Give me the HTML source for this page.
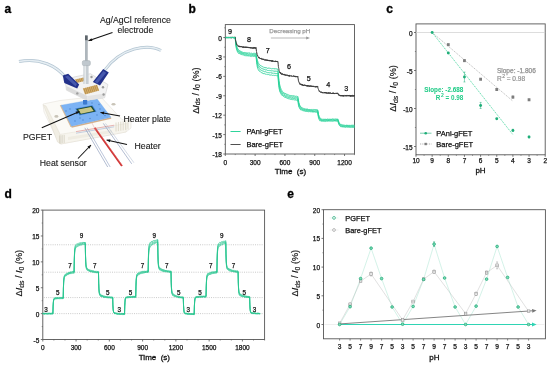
<!DOCTYPE html>
<html><head><meta charset="utf-8"><style>
html,body{margin:0;padding:0;background:#fff;}
svg{display:block;font-family:"Liberation Sans", sans-serif;will-change:transform;filter:blur(0.3px);}
</style></head><body>
<svg width="550" height="366" viewBox="0 0 550 366">
<rect width="550" height="366" fill="#fff"/>
<polygon points="43,104 60,100.5 100,96 122,119.6 131,121 131,128 126,132 61,144 58,141 44,112" fill="#fbfaf6" stroke="#dedad0" stroke-width="0.45"/>
<polygon points="43.5,105 46,106 60,134 60.7,144 57.5,142" fill="#f1eee4" stroke="#d6d1c3" stroke-width="0.35"/>
<polygon points="60.7,134.3 127.3,123.4 126,132 60.7,144" fill="#f7f5ee" stroke="#dcd6c8" stroke-width="0.35"/>
<line x1="59.5" y1="135.5" x2="59.5" y2="143.5" stroke="#cfc9b9" stroke-width="0.6"/>
<line x1="61.1" y1="135.3" x2="61.1" y2="143.3" stroke="#cfc9b9" stroke-width="0.6"/>
<line x1="62.7" y1="135.1" x2="62.7" y2="143.1" stroke="#cfc9b9" stroke-width="0.6"/>
<line x1="64.3" y1="134.9" x2="64.3" y2="142.9" stroke="#cfc9b9" stroke-width="0.6"/>
<line x1="116.0" y1="122.5" x2="116.0" y2="131.5" stroke="#d9d3c3" stroke-width="0.8"/>
<line x1="118.4" y1="122.1" x2="118.4" y2="131.1" stroke="#d9d3c3" stroke-width="0.8"/>
<line x1="120.8" y1="121.7" x2="120.8" y2="130.7" stroke="#d9d3c3" stroke-width="0.8"/>
<line x1="123.2" y1="121.3" x2="123.2" y2="130.3" stroke="#d9d3c3" stroke-width="0.8"/>
<line x1="125.6" y1="120.9" x2="125.6" y2="129.9" stroke="#d9d3c3" stroke-width="0.8"/>
<line x1="128.0" y1="120.5" x2="128.0" y2="129.5" stroke="#d9d3c3" stroke-width="0.8"/>
<polygon points="68,137 112,130 112,133 68,140" fill="#efece2"/>
<ellipse cx="56.4" cy="116.4" rx="2.0" ry="1.4" fill="#c9c4b8"/>
<ellipse cx="113.5" cy="104.2" rx="2.0" ry="1.3" fill="#c9c4b8"/>
<line x1="76" y1="131.6" x2="114.2" y2="125.2" stroke="#e39a9a" stroke-width="0.7"/>
<line x1="76" y1="133.2" x2="114.2" y2="126.8" stroke="#9fb3d6" stroke-width="0.6"/>
<line x1="84.8" y1="127.8" x2="107.7" y2="167" stroke="#7f90b4" stroke-width="0.6"/>
<line x1="87.2" y1="127.8" x2="110.2" y2="167" stroke="#8fa0c2" stroke-width="0.6"/>
<line x1="94.6" y1="127.8" x2="121.9" y2="166" stroke="#d03434" stroke-width="1.8"/>
<line x1="95.4" y1="127.8" x2="122.7" y2="166" stroke="#e77070" stroke-width="0.5"/>
<line x1="103.3" y1="123.4" x2="131.7" y2="163.8" stroke="#7f90b4" stroke-width="0.6"/>
<line x1="105.5" y1="123.4" x2="133.9" y2="162.7" stroke="#a9b6cc" stroke-width="0.5"/>
<line x1="91" y1="121" x2="96" y2="131" stroke="#e5a0a0" stroke-width="0.5"/>
<polygon points="71.5,126.2 111,117.3 111.3,118.8 71.7,127.7" fill="#d6b08a"/>
<polygon points="60.4,105.6 71,127 71.5,126.2 61.1,105.2" fill="#d8b890" stroke="#d8b890" stroke-width="0.8"/>
<polygon points="61.1,105.2 97,98.8 111,117.3 71.5,126.2" fill="#7cb3f4" stroke="#6aa2e6" stroke-width="0.3"/>
<circle cx="70" cy="109" r="0.65" fill="#4d84c8"/>
<circle cx="66" cy="111" r="0.65" fill="#4d84c8"/>
<circle cx="75" cy="121" r="0.65" fill="#4d84c8"/>
<circle cx="83" cy="120" r="0.65" fill="#4d84c8"/>
<circle cx="90" cy="118.5" r="0.65" fill="#4d84c8"/>
<circle cx="97" cy="115" r="0.65" fill="#4d84c8"/>
<circle cx="103" cy="113" r="0.65" fill="#4d84c8"/>
<circle cx="99" cy="104.5" r="0.65" fill="#4d84c8"/>
<circle cx="92" cy="103" r="0.65" fill="#4d84c8"/>
<circle cx="85" cy="104" r="0.65" fill="#4d84c8"/>
<circle cx="105" cy="115.5" r="0.65" fill="#4d84c8"/>
<circle cx="80" cy="118" r="0.65" fill="#4d84c8"/>
<circle cx="71" cy="115" r="0.65" fill="#4d84c8"/>
<circle cx="100" cy="109" r="0.65" fill="#4d84c8"/>
<polygon points="75.2,108.6 92.4,105.2 96.5,111.6 79.5,115.4" fill="#3f7fd8"/>
<polygon points="76.3,109.1 91.9,105.9 95.5,111.4 79.9,114.6" fill="#1d4a2a"/>
<polygon points="78.2,109.5 90.9,107 93.7,111.1 80.9,113.7" fill="#c9c787"/>
<path d="M19,61.5 C40,57.5 57,66 66,78" fill="none" stroke="#b3c5d2" stroke-width="3.0"/>
<path d="M19,61.5 C40,57.5 57,66 66,78" fill="none" stroke="#e6eef3" stroke-width="1.5"/>
<path d="M161,50.5 C148,43.5 121,47 104,71" fill="none" stroke="#b3c5d2" stroke-width="3.0"/>
<path d="M161,50.5 C148,43.5 121,47 104,71" fill="none" stroke="#e6eef3" stroke-width="1.5"/>
<polygon points="65.3,80.3 74,77 90.4,73.7 108,84.6 104.6,97.8 87.2,100.5 66.4,90.1" fill="#f3f3f3" stroke="#c6c6c6" stroke-width="0.5"/>
<polygon points="66.4,90.1 87.2,100.5 87.5,96 66.4,86" fill="#dcdcdc"/>
<polygon points="87.2,100.5 104.6,97.8 105,93.5 87.5,96" fill="#e4e4e4"/>
<polygon points="75,79.5 85,77.2 86.5,80.6 76.5,83" fill="#d9b06a"/>
<polygon points="82.8,88.5 97,84.8 99.2,90.5 85,94.5" fill="#d9b06a"/>
<line x1="76.0" y1="79.3" x2="77.3" y2="82.7" stroke="#8a6a30" stroke-width="0.45"/>
<line x1="77.7" y1="78.9" x2="79.0" y2="82.3" stroke="#8a6a30" stroke-width="0.45"/>
<line x1="79.4" y1="78.5" x2="80.7" y2="81.9" stroke="#8a6a30" stroke-width="0.45"/>
<line x1="81.1" y1="78.1" x2="82.4" y2="81.5" stroke="#8a6a30" stroke-width="0.45"/>
<line x1="82.8" y1="77.7" x2="84.1" y2="81.1" stroke="#8a6a30" stroke-width="0.45"/>
<line x1="84.5" y1="77.3" x2="85.8" y2="80.7" stroke="#8a6a30" stroke-width="0.45"/>
<line x1="83.8" y1="88.3" x2="85.9" y2="94.2" stroke="#8a6a30" stroke-width="0.45"/>
<line x1="85.6" y1="87.8" x2="87.7" y2="93.7" stroke="#8a6a30" stroke-width="0.45"/>
<line x1="87.4" y1="87.3" x2="89.5" y2="93.2" stroke="#8a6a30" stroke-width="0.45"/>
<line x1="89.2" y1="86.9" x2="91.3" y2="92.8" stroke="#8a6a30" stroke-width="0.45"/>
<line x1="91.0" y1="86.4" x2="93.1" y2="92.3" stroke="#8a6a30" stroke-width="0.45"/>
<line x1="92.8" y1="85.9" x2="94.9" y2="91.8" stroke="#8a6a30" stroke-width="0.45"/>
<line x1="94.6" y1="85.4" x2="96.7" y2="91.3" stroke="#8a6a30" stroke-width="0.45"/>
<line x1="96.4" y1="84.9" x2="98.5" y2="90.8" stroke="#8a6a30" stroke-width="0.45"/>
<circle cx="91.5" cy="77" r="1.2" fill="#9c9c9c"/>
<circle cx="103" cy="87.3" r="1.2" fill="#9c9c9c"/>
<circle cx="77.3" cy="93.4" r="1.2" fill="#9c9c9c"/>
<circle cx="103.6" cy="94.5" r="1.2" fill="#9c9c9c"/>
<polygon points="62.8,75.6 68.2,73.8 79.2,84.4 77.2,88.6 64.3,83" fill="#23318a"/>
<polygon points="65,76.8 68,75.6 77,84 75.6,86.4" fill="#4658ad"/>
<polygon points="92.8,82 103.2,69 108.8,72.6 100,85.4" fill="#23318a"/>
<polygon points="94.8,81.8 103.4,71 106.2,72.8 97.4,83.4" fill="#4658ad"/>
<rect x="83.4" y="64" width="5.2" height="20" fill="#c7ced3"/>
<rect x="84.4" y="64" width="1.6" height="20" fill="#e6eaec"/>
<rect x="85" y="35.5" width="2.6" height="27" fill="#9aa3aa"/>
<rect x="85" y="35.5" width="2.6" height="5" fill="#5f666c"/>
<rect x="85.6" y="40" width="0.8" height="22" fill="#ccd3d8"/>
<rect x="82.3" y="60.6" width="8.1" height="5" rx="1.5" fill="#c0c8ce" stroke="#9aa3aa" stroke-width="0.4"/>
<rect x="83" y="100" width="4.2" height="4.5" fill="#3c7ad0"/>
<line x1="112.5" y1="32.5" x2="88.5" y2="40.8" stroke="#111" stroke-width="1.05"/>
<polygon points="88.50,40.80 91.41,38.21 92.39,41.04" fill="#111"/>
<line x1="120" y1="116" x2="100.5" y2="112.4" stroke="#111" stroke-width="1.05"/>
<polygon points="100.50,112.40 104.31,111.58 103.77,114.53" fill="#111"/>
<line x1="127" y1="144.5" x2="106.6" y2="140" stroke="#111" stroke-width="1.05"/>
<polygon points="106.60,140.00 110.44,139.31 109.79,142.24" fill="#111"/>
<line x1="41.8" y1="127.7" x2="79.5" y2="111.5" stroke="#111" stroke-width="1.05"/>
<polygon points="79.50,111.50 76.78,114.30 75.60,111.54" fill="#111"/>
<line x1="78" y1="158.5" x2="91" y2="145" stroke="#111" stroke-width="1.05"/>
<polygon points="91.00,145.00 89.58,148.63 87.42,146.55" fill="#111"/>
<text x="135.4" y="22.6" font-size="8.7" fill="#1a1a1a" stroke="#1a1a1a" stroke-width="0.12" text-anchor="middle">Ag/AgCl reference</text>
<text x="135.4" y="32.8" font-size="8.7" fill="#1a1a1a" stroke="#1a1a1a" stroke-width="0.12" text-anchor="middle">electrode</text>
<text x="123.6" y="121.6" font-size="8.7" fill="#1a1a1a" stroke="#1a1a1a" stroke-width="0.12" text-anchor="start">Heater plate</text>
<text x="134.6" y="148.9" font-size="8.7" fill="#1a1a1a" stroke="#1a1a1a" stroke-width="0.12" text-anchor="start">Heater</text>
<text x="23.0" y="140.4" font-size="8.7" fill="#1a1a1a" stroke="#1a1a1a" stroke-width="0.12" text-anchor="start">PGFET</text>
<text x="39.8" y="165.6" font-size="8.7" fill="#1a1a1a" stroke="#1a1a1a" stroke-width="0.12" text-anchor="start">Heat sensor</text>
<text x="4.60" y="13.00" font-size="12" text-anchor="start" fill="#000" stroke="#000" stroke-width="0.3" font-weight="bold" >a</text>
<text x="188.60" y="13.00" font-size="12" text-anchor="start" fill="#000" stroke="#000" stroke-width="0.3" font-weight="bold" >b</text>
<text x="386.20" y="13.20" font-size="12" text-anchor="start" fill="#000" stroke="#000" stroke-width="0.3" font-weight="bold" >c</text>
<text x="4.60" y="197.80" font-size="12" text-anchor="start" fill="#000" stroke="#000" stroke-width="0.3" font-weight="bold" >d</text>
<text x="287.30" y="197.80" font-size="12" text-anchor="start" fill="#000" stroke="#000" stroke-width="0.3" font-weight="bold" >e</text>
<rect x="225.30" y="24.60" width="129.20" height="129.40" fill="none" stroke="#555" stroke-width="0.9"/>
<line x1="223.30" y1="37.54" x2="225.30" y2="37.54" stroke="#555" stroke-width="0.8" />
<text x="221.90" y="40.54" font-size="6.5" text-anchor="end" fill="#111" stroke="#111" stroke-width="0.25" font-weight="normal" >0</text>
<line x1="223.30" y1="56.95" x2="225.30" y2="56.95" stroke="#555" stroke-width="0.8" />
<text x="221.90" y="59.95" font-size="6.5" text-anchor="end" fill="#111" stroke="#111" stroke-width="0.25" font-weight="normal" >-3</text>
<line x1="223.30" y1="76.36" x2="225.30" y2="76.36" stroke="#555" stroke-width="0.8" />
<text x="221.90" y="79.36" font-size="6.5" text-anchor="end" fill="#111" stroke="#111" stroke-width="0.25" font-weight="normal" >-6</text>
<line x1="223.30" y1="95.77" x2="225.30" y2="95.77" stroke="#555" stroke-width="0.8" />
<text x="221.90" y="98.77" font-size="6.5" text-anchor="end" fill="#111" stroke="#111" stroke-width="0.25" font-weight="normal" >-9</text>
<line x1="223.30" y1="115.18" x2="225.30" y2="115.18" stroke="#555" stroke-width="0.8" />
<text x="221.90" y="118.18" font-size="6.5" text-anchor="end" fill="#111" stroke="#111" stroke-width="0.25" font-weight="normal" >-12</text>
<line x1="223.30" y1="134.59" x2="225.30" y2="134.59" stroke="#555" stroke-width="0.8" />
<text x="221.90" y="137.59" font-size="6.5" text-anchor="end" fill="#111" stroke="#111" stroke-width="0.25" font-weight="normal" >-15</text>
<line x1="223.30" y1="154.00" x2="225.30" y2="154.00" stroke="#555" stroke-width="0.8" />
<text x="221.90" y="157.00" font-size="6.5" text-anchor="end" fill="#111" stroke="#111" stroke-width="0.25" font-weight="normal" >-18</text>
<line x1="224.20" y1="27.84" x2="225.30" y2="27.84" stroke="#555" stroke-width="0.6" />
<line x1="224.20" y1="47.25" x2="225.30" y2="47.25" stroke="#555" stroke-width="0.6" />
<line x1="224.20" y1="66.66" x2="225.30" y2="66.66" stroke="#555" stroke-width="0.6" />
<line x1="224.20" y1="86.06" x2="225.30" y2="86.06" stroke="#555" stroke-width="0.6" />
<line x1="224.20" y1="105.47" x2="225.30" y2="105.47" stroke="#555" stroke-width="0.6" />
<line x1="224.20" y1="124.88" x2="225.30" y2="124.88" stroke="#555" stroke-width="0.6" />
<line x1="224.20" y1="144.30" x2="225.30" y2="144.30" stroke="#555" stroke-width="0.6" />
<line x1="225.30" y1="154.00" x2="225.30" y2="156.00" stroke="#555" stroke-width="0.8" />
<text x="225.30" y="164.60" font-size="6.5" text-anchor="middle" fill="#111" stroke="#111" stroke-width="0.25" font-weight="normal" >0</text>
<line x1="235.24" y1="154.00" x2="235.24" y2="155.10" stroke="#555" stroke-width="0.6" />
<line x1="245.18" y1="154.00" x2="245.18" y2="155.10" stroke="#555" stroke-width="0.6" />
<line x1="255.12" y1="154.00" x2="255.12" y2="156.00" stroke="#555" stroke-width="0.8" />
<text x="255.12" y="164.60" font-size="6.5" text-anchor="middle" fill="#111" stroke="#111" stroke-width="0.25" font-weight="normal" >300</text>
<line x1="265.05" y1="154.00" x2="265.05" y2="155.10" stroke="#555" stroke-width="0.6" />
<line x1="274.99" y1="154.00" x2="274.99" y2="155.10" stroke="#555" stroke-width="0.6" />
<line x1="284.93" y1="154.00" x2="284.93" y2="156.00" stroke="#555" stroke-width="0.8" />
<text x="284.93" y="164.60" font-size="6.5" text-anchor="middle" fill="#111" stroke="#111" stroke-width="0.25" font-weight="normal" >600</text>
<line x1="294.87" y1="154.00" x2="294.87" y2="155.10" stroke="#555" stroke-width="0.6" />
<line x1="304.81" y1="154.00" x2="304.81" y2="155.10" stroke="#555" stroke-width="0.6" />
<line x1="314.75" y1="154.00" x2="314.75" y2="156.00" stroke="#555" stroke-width="0.8" />
<text x="314.75" y="164.60" font-size="6.5" text-anchor="middle" fill="#111" stroke="#111" stroke-width="0.25" font-weight="normal" >900</text>
<line x1="324.68" y1="154.00" x2="324.68" y2="155.10" stroke="#555" stroke-width="0.6" />
<line x1="334.62" y1="154.00" x2="334.62" y2="155.10" stroke="#555" stroke-width="0.6" />
<line x1="344.56" y1="154.00" x2="344.56" y2="156.00" stroke="#555" stroke-width="0.8" />
<text x="344.56" y="164.60" font-size="6.5" text-anchor="middle" fill="#111" stroke="#111" stroke-width="0.25" font-weight="normal" >1200</text>
<line x1="354.50" y1="154.00" x2="354.50" y2="155.10" stroke="#555" stroke-width="0.6" />
<text x="290.50" y="174.20" font-size="8" text-anchor="middle" fill="#111" stroke="#111" stroke-width="0.3" font-weight="normal" >Time&#160;&#160;(s)</text>
<text transform="translate(198.80,90.60) rotate(-90)" font-size="8.4" text-anchor="middle" fill="#111" stroke="#111" stroke-width="0.15" textLength="46.5" lengthAdjust="spacingAndGlyphs"><tspan>&#916;</tspan><tspan font-style="italic">I</tspan><tspan font-size="6.30" dy="1.6">ds</tspan><tspan dy="-1.6"> / </tspan><tspan font-style="italic">I</tspan><tspan font-size="6.30" dy="1.6">0</tspan><tspan dy="-1.6"> (%)</tspan></text>
<path d="M225.30,37.63 L225.55,37.72 L225.80,37.46 L226.05,37.76 L226.29,37.52 L226.54,37.61 L226.79,37.77 L227.04,37.54 L227.29,37.78 L227.54,37.57 L227.78,37.76 L228.03,37.75 L228.28,37.58 L228.53,37.37 L228.78,37.73 L229.03,37.68 L229.28,37.47 L229.52,37.31 L229.77,37.50 L230.02,37.59 L230.27,37.29 L230.52,37.77 L230.77,37.35 L231.01,37.65 L231.26,37.72 L231.51,37.74 L231.76,37.64 L232.01,37.38 L232.26,37.71 L232.51,37.50 L232.75,37.47 L233.00,37.61 L233.25,37.52 L233.50,37.77 L233.75,37.77 L234.00,37.69 L234.24,37.45 L234.49,37.58 L234.74,37.64 L234.99,37.50 L235.24,37.56 L235.49,41.27 L235.74,43.79 L235.98,45.95 L236.23,47.82 L236.48,48.91 L236.73,49.92 L236.98,50.51 L237.23,51.19 L237.47,51.91 L237.72,51.95 L237.97,52.73 L238.22,52.85 L238.47,52.91 L238.72,53.42 L238.97,53.42 L239.21,53.81 L239.46,53.63 L239.71,53.71 L239.96,53.92 L240.21,53.88 L240.46,54.27 L240.70,54.17 L240.95,54.32 L241.20,54.41 L241.45,54.56 L241.70,54.44 L241.95,54.46 L242.20,54.78 L242.44,54.75 L242.69,55.13 L242.94,54.86 L243.19,54.95 L243.44,54.83 L243.69,54.98 L243.93,55.31 L244.18,55.31 L244.43,55.22 L244.68,55.60 L244.93,55.42 L245.18,55.62 L245.43,55.69 L245.67,55.77 L245.92,55.44 L246.17,55.81 L246.42,55.79 L246.67,55.75 L246.92,55.54 L247.16,55.99 L247.41,55.83 L247.66,55.81 L247.91,55.67 L248.16,55.73 L248.41,55.74 L248.66,56.07 L248.90,56.03 L249.15,56.08 L249.40,55.83 L249.65,55.82 L249.90,56.26 L250.15,56.27 L250.39,56.27 L250.64,56.29 L250.89,56.18 L251.14,56.14 L251.39,56.33 L251.64,56.48 L251.89,56.28 L252.13,56.33 L252.38,56.24 L252.63,56.06 L252.88,56.21 L253.13,56.31 L253.38,56.28 L253.62,56.26 L253.87,56.59 L254.12,56.17 L254.37,56.24 L254.62,56.21 L254.87,56.26 L255.12,56.48 L255.36,56.49 L255.61,56.65 L255.86,56.39 L256.11,56.69 L256.36,59.94 L256.61,62.37 L256.85,64.32 L257.10,65.73 L257.35,67.06 L257.60,68.03 L257.85,68.70 L258.10,69.33 L258.35,69.70 L258.59,70.29 L258.84,70.21 L259.09,70.65 L259.34,71.16 L259.59,71.34 L259.84,71.51 L260.08,71.69 L260.33,72.00 L260.58,71.79 L260.83,71.87 L261.08,72.29 L261.33,72.42 L261.58,72.75 L261.82,72.87 L262.07,72.86 L262.32,73.02 L262.57,72.84 L262.82,73.29 L263.07,73.46 L263.31,73.08 L263.56,73.39 L263.81,73.68 L264.06,73.56 L264.31,73.91 L264.56,73.73 L264.81,73.58 L265.05,73.71 L265.30,73.87 L265.55,74.17 L265.80,74.18 L266.05,74.35 L266.30,74.10 L266.54,74.28 L266.79,74.22 L267.04,74.50 L267.29,74.61 L267.54,74.36 L267.79,74.32 L268.04,74.44 L268.28,74.51 L268.53,74.55 L268.78,74.64 L269.03,74.94 L269.28,74.83 L269.53,74.96 L269.77,75.17 L270.02,75.20 L270.27,75.11 L270.52,75.15 L270.77,74.96 L271.02,74.86 L271.27,75.15 L271.51,74.93 L271.76,74.93 L272.01,74.97 L272.26,75.31 L272.51,75.41 L272.76,75.43 L273.00,75.47 L273.25,75.49 L273.50,75.29 L273.75,75.17 L274.00,75.22 L274.25,75.43 L274.50,75.36 L274.74,75.30 L274.99,75.69 L275.24,75.41 L275.49,75.30 L275.74,75.38 L275.99,75.41 L276.23,75.57 L276.48,75.74 L276.73,75.44 L276.98,75.69 L277.23,75.46 L277.48,75.38 L277.73,75.69 L277.97,75.70 L278.22,79.57 L278.47,82.88 L278.72,85.63 L278.97,87.58 L279.22,89.09 L279.46,89.90 L279.71,90.91 L279.96,92.04 L280.21,92.34 L280.46,92.80 L280.71,93.43 L280.96,93.99 L281.20,94.24 L281.45,94.76 L281.70,95.10 L281.95,94.87 L282.20,95.27 L282.45,95.55 L282.69,95.54 L282.94,96.00 L283.19,95.95 L283.44,96.15 L283.69,96.63 L283.94,96.77 L284.19,96.90 L284.43,97.07 L284.68,97.04 L284.93,97.34 L285.18,97.39 L285.43,97.66 L285.68,97.38 L285.92,97.78 L286.17,97.84 L286.42,97.88 L286.67,97.82 L286.92,98.17 L287.17,98.01 L287.42,98.31 L287.66,98.39 L287.91,98.48 L288.16,98.82 L288.41,98.69 L288.66,98.90 L288.91,99.06 L289.15,98.73 L289.40,99.12 L289.65,99.03 L289.90,98.97 L290.15,99.12 L290.40,99.30 L290.65,99.25 L290.89,99.29 L291.14,99.23 L291.39,99.63 L291.64,99.45 L291.89,99.66 L292.14,99.69 L292.38,99.48 L292.63,99.66 L292.88,99.67 L293.13,99.61 L293.38,99.57 L293.63,99.85 L293.88,99.80 L294.12,99.89 L294.37,99.92 L294.62,99.86 L294.87,100.02 L295.12,100.01 L295.37,100.07 L295.61,99.85 L295.86,100.01 L296.11,99.94 L296.36,99.93 L296.61,100.31 L296.86,100.18 L297.11,100.01 L297.35,100.08 L297.60,100.47 L297.85,100.49 L298.10,102.55 L298.35,104.44 L298.60,105.65 L298.84,106.74 L299.09,107.21 L299.34,107.76 L299.59,108.18 L299.84,108.95 L300.09,108.97 L300.34,109.25 L300.58,109.73 L300.83,109.52 L301.08,109.63 L301.33,110.14 L301.58,109.88 L301.83,110.27 L302.07,110.32 L302.32,110.14 L302.57,110.30 L302.82,110.72 L303.07,110.65 L303.32,110.67 L303.57,110.83 L303.81,110.96 L304.06,110.95 L304.31,110.80 L304.56,111.21 L304.81,110.99 L305.06,111.09 L305.30,111.36 L305.55,111.24 L305.80,111.13 L306.05,111.23 L306.30,111.50 L306.55,111.06 L306.80,111.20 L307.04,111.14 L307.29,111.62 L307.54,111.57 L307.79,111.72 L308.04,111.37 L308.29,111.66 L308.53,111.76 L308.78,111.64 L309.03,111.41 L309.28,111.48 L309.53,111.80 L309.78,111.88 L310.03,111.50 L310.27,111.70 L310.52,111.66 L310.77,111.99 L311.02,112.03 L311.27,111.72 L311.52,111.88 L311.76,112.08 L312.01,111.65 L312.26,111.82 L312.51,111.75 L312.76,112.14 L313.01,111.75 L313.26,112.18 L313.50,111.78 L313.75,112.00 L314.00,112.08 L314.25,111.98 L314.50,111.80 L314.75,112.15 L314.99,112.23 L315.24,112.04 L315.49,112.20 L315.74,112.27 L315.99,112.26 L316.24,112.32 L316.49,112.25 L316.73,112.20 L316.98,112.22 L317.23,111.99 L317.48,112.24 L317.73,112.14 L317.98,114.61 L318.22,116.26 L318.47,117.73 L318.72,118.58 L318.97,119.42 L319.22,119.59 L319.47,120.09 L319.72,120.58 L319.96,120.66 L320.21,120.58 L320.46,121.13 L320.71,120.85 L320.96,121.11 L321.21,121.13 L321.45,120.98 L321.70,121.23 L321.95,121.19 L322.20,121.10 L322.45,120.95 L322.70,121.28 L322.95,121.03 L323.19,121.09 L323.44,121.12 L323.69,121.24 L323.94,121.26 L324.19,121.41 L324.44,121.36 L324.68,121.39 L324.93,121.04 L325.18,121.28 L325.43,121.32 L325.68,121.36 L325.93,120.96 L326.18,120.94 L326.42,121.04 L326.67,121.23 L326.92,121.25 L327.17,121.22 L327.42,121.13 L327.67,121.28 L327.91,121.12 L328.16,121.22 L328.41,120.85 L328.66,120.84 L328.91,121.06 L329.16,121.21 L329.41,120.83 L329.65,121.17 L329.90,121.14 L330.15,121.32 L330.40,121.12 L330.65,121.07 L330.90,121.05 L331.14,121.21 L331.39,121.05 L331.64,121.30 L331.89,121.17 L332.14,121.25 L332.39,121.09 L332.64,121.27 L332.88,121.28 L333.13,121.13 L333.38,121.17 L333.63,120.98 L333.88,121.01 L334.13,120.89 L334.37,120.94 L334.62,120.91 L334.87,120.82 L335.12,121.07 L335.37,121.11 L335.62,120.76 L335.87,121.19 L336.11,120.90 L336.36,120.94 L336.61,121.25 L336.86,120.83 L337.11,120.80 L337.36,120.94 L337.60,120.88 L337.85,120.84 L338.10,121.79 L338.35,122.84 L338.60,123.79 L338.85,124.34 L339.10,124.90 L339.34,125.30 L339.59,125.74 L339.84,125.82 L340.09,126.12 L340.34,126.26 L340.59,126.62 L340.83,126.81 L341.08,126.83 L341.33,126.77 L341.58,126.95 L341.83,126.62 L342.08,126.79 L342.33,126.79 L342.57,126.81 L342.82,126.81 L343.07,126.93 L343.32,127.20 L343.57,126.80 L343.82,126.85 L344.06,126.99 L344.31,126.99 L344.56,126.93 L344.81,127.25 L345.06,126.92 L345.31,127.18 L345.56,127.28 L345.80,127.20 L346.05,126.97 L346.30,127.25 L346.55,126.98 L346.80,126.87 L347.05,127.13 L347.29,127.19 L347.54,127.15 L347.79,127.05 L348.04,127.02 L348.29,127.10 L348.54,127.09 L348.79,127.39 L349.03,127.36 L349.28,127.32 L349.53,127.07 L349.78,127.30 L350.03,127.17 L350.28,127.46 L350.52,127.44 L350.77,127.34 L351.02,127.14 L351.27,127.13 L351.52,127.14 L351.77,127.35 L352.02,127.24 L352.26,127.27 L352.51,127.27 L352.76,127.45 L353.01,127.06 L353.26,127.42 L353.51,127.02 L353.75,127.04 L354.00,127.52 L354.25,127.30 L354.50,127.11" fill="none" stroke="#27d197" stroke-width="0.9" stroke-linejoin="round" />
<path d="M225.30,37.30 L225.55,37.57 L225.80,37.66 L226.05,37.69 L226.29,37.31 L226.54,37.69 L226.79,37.50 L227.04,37.73 L227.29,37.53 L227.54,37.31 L227.78,37.73 L228.03,37.37 L228.28,37.54 L228.53,37.34 L228.78,37.43 L229.03,37.68 L229.28,37.33 L229.52,37.55 L229.77,37.79 L230.02,37.80 L230.27,37.54 L230.52,37.57 L230.77,37.64 L231.01,37.73 L231.26,37.62 L231.51,37.64 L231.76,37.36 L232.01,37.80 L232.26,37.41 L232.51,37.36 L232.75,37.74 L233.00,37.32 L233.25,37.43 L233.50,37.33 L233.75,37.65 L234.00,37.61 L234.24,37.60 L234.49,37.28 L234.74,37.49 L234.99,37.61 L235.24,37.58 L235.49,40.66 L235.74,43.16 L235.98,45.03 L236.23,46.17 L236.48,47.68 L236.73,48.33 L236.98,49.48 L237.23,50.13 L237.47,50.54 L237.72,51.15 L237.97,51.43 L238.22,51.44 L238.47,51.75 L238.72,52.02 L238.97,52.32 L239.21,52.35 L239.46,52.49 L239.71,52.84 L239.96,52.88 L240.21,53.35 L240.46,53.11 L240.70,53.35 L240.95,53.29 L241.20,53.44 L241.45,53.71 L241.70,53.91 L241.95,53.54 L242.20,54.02 L242.44,53.92 L242.69,54.05 L242.94,54.14 L243.19,53.97 L243.44,53.91 L243.69,54.33 L243.93,54.18 L244.18,54.42 L244.43,54.34 L244.68,54.47 L244.93,54.64 L245.18,54.68 L245.43,54.70 L245.67,54.39 L245.92,54.64 L246.17,54.82 L246.42,54.50 L246.67,54.49 L246.92,54.81 L247.16,55.01 L247.41,55.01 L247.66,55.09 L247.91,55.00 L248.16,55.15 L248.41,55.11 L248.66,55.12 L248.90,54.99 L249.15,54.85 L249.40,54.95 L249.65,55.14 L249.90,55.17 L250.15,55.13 L250.39,55.23 L250.64,55.27 L250.89,55.43 L251.14,55.34 L251.39,55.00 L251.64,55.46 L251.89,55.28 L252.13,55.23 L252.38,55.12 L252.63,55.47 L252.88,55.46 L253.13,55.49 L253.38,55.42 L253.62,55.41 L253.87,55.16 L254.12,55.23 L254.37,55.23 L254.62,55.68 L254.87,55.69 L255.12,55.35 L255.36,55.26 L255.61,55.49 L255.86,55.44 L256.11,55.75 L256.36,58.21 L256.61,60.06 L256.85,61.82 L257.10,63.19 L257.35,64.26 L257.60,65.55 L257.85,66.38 L258.10,66.99 L258.35,67.33 L258.59,67.70 L258.84,67.95 L259.09,68.40 L259.34,68.73 L259.59,68.92 L259.84,69.31 L260.08,69.47 L260.33,69.93 L260.58,69.72 L260.83,70.17 L261.08,69.96 L261.33,70.24 L261.58,70.55 L261.82,70.77 L262.07,70.82 L262.32,70.74 L262.57,70.81 L262.82,71.22 L263.07,71.34 L263.31,71.20 L263.56,71.26 L263.81,71.45 L264.06,71.62 L264.31,71.50 L264.56,71.89 L264.81,71.81 L265.05,71.80 L265.30,71.61 L265.55,71.84 L265.80,71.78 L266.05,72.06 L266.30,72.24 L266.54,72.29 L266.79,71.98 L267.04,72.17 L267.29,72.43 L267.54,72.62 L267.79,72.43 L268.04,72.38 L268.28,72.56 L268.53,72.69 L268.78,72.52 L269.03,72.42 L269.28,72.82 L269.53,72.96 L269.77,72.84 L270.02,72.83 L270.27,72.73 L270.52,73.01 L270.77,72.74 L271.02,72.80 L271.27,72.95 L271.51,73.13 L271.76,72.76 L272.01,73.13 L272.26,72.89 L272.51,73.22 L272.76,73.25 L273.00,72.99 L273.25,73.26 L273.50,72.94 L273.75,73.19 L274.00,73.37 L274.25,73.37 L274.50,73.29 L274.74,73.18 L274.99,73.05 L275.24,73.48 L275.49,73.37 L275.74,73.48 L275.99,73.10 L276.23,73.55 L276.48,73.61 L276.73,73.62 L276.98,73.46 L277.23,73.21 L277.48,73.23 L277.73,73.32 L277.97,73.19 L278.22,77.12 L278.47,80.54 L278.72,83.11 L278.97,84.73 L279.22,86.47 L279.46,88.17 L279.71,88.94 L279.96,90.00 L280.21,90.76 L280.46,91.42 L280.71,92.06 L280.96,92.61 L281.20,92.88 L281.45,93.21 L281.70,93.22 L281.95,93.94 L282.20,93.77 L282.45,94.40 L282.69,94.55 L282.94,94.52 L283.19,94.71 L283.44,95.09 L283.69,95.46 L283.94,95.41 L284.19,95.61 L284.43,95.48 L284.68,96.00 L284.93,96.04 L285.18,95.90 L285.43,96.47 L285.68,96.39 L285.92,96.30 L286.17,96.43 L286.42,96.91 L286.67,97.02 L286.92,97.10 L287.17,96.75 L287.42,97.19 L287.66,97.02 L287.91,97.03 L288.16,97.40 L288.41,97.51 L288.66,97.23 L288.91,97.48 L289.15,97.74 L289.40,97.57 L289.65,97.84 L289.90,97.93 L290.15,98.13 L290.40,97.80 L290.65,97.78 L290.89,97.98 L291.14,97.87 L291.39,98.40 L291.64,98.34 L291.89,98.26 L292.14,98.06 L292.38,98.10 L292.63,98.44 L292.88,98.55 L293.13,98.50 L293.38,98.51 L293.63,98.32 L293.88,98.74 L294.12,98.45 L294.37,98.52 L294.62,98.51 L294.87,98.57 L295.12,98.68 L295.37,98.85 L295.61,98.89 L295.86,98.89 L296.11,98.70 L296.36,99.09 L296.61,99.05 L296.86,98.79 L297.11,99.07 L297.35,99.19 L297.60,99.23 L297.85,98.98 L298.10,101.18 L298.35,102.50 L298.60,103.87 L298.84,104.87 L299.09,106.09 L299.34,106.86 L299.59,107.41 L299.84,107.65 L300.09,107.91 L300.34,108.36 L300.58,108.72 L300.83,108.84 L301.08,108.92 L301.33,109.06 L301.58,109.16 L301.83,109.23 L302.07,109.43 L302.32,109.81 L302.57,109.53 L302.82,109.89 L303.07,109.82 L303.32,109.99 L303.57,109.87 L303.81,110.21 L304.06,110.24 L304.31,110.30 L304.56,110.40 L304.81,110.07 L305.06,110.27 L305.30,110.45 L305.55,110.46 L305.80,110.19 L306.05,110.48 L306.30,110.66 L306.55,110.40 L306.80,110.52 L307.04,110.38 L307.29,110.87 L307.54,110.71 L307.79,110.56 L308.04,110.58 L308.29,110.57 L308.53,111.05 L308.78,110.94 L309.03,111.06 L309.28,111.05 L309.53,110.67 L309.78,110.89 L310.03,110.73 L310.27,111.04 L310.52,110.81 L310.77,111.04 L311.02,111.16 L311.27,110.91 L311.52,110.84 L311.76,111.29 L312.01,111.06 L312.26,111.06 L312.51,111.28 L312.76,111.22 L313.01,111.35 L313.26,111.33 L313.50,111.32 L313.75,111.16 L314.00,111.14 L314.25,111.39 L314.50,111.50 L314.75,111.34 L314.99,111.17 L315.24,111.44 L315.49,111.38 L315.74,111.45 L315.99,111.15 L316.24,111.29 L316.49,111.55 L316.73,111.54 L316.98,111.39 L317.23,111.32 L317.48,111.28 L317.73,111.57 L317.98,113.59 L318.22,114.92 L318.47,116.32 L318.72,117.37 L318.97,118.12 L319.22,118.38 L319.47,119.17 L319.72,119.40 L319.96,119.79 L320.21,119.97 L320.46,119.90 L320.71,119.96 L320.96,120.39 L321.21,120.55 L321.45,120.33 L321.70,120.64 L321.95,120.77 L322.20,120.33 L322.45,120.59 L322.70,120.39 L322.95,120.61 L323.19,120.37 L323.44,120.59 L323.69,120.74 L323.94,120.81 L324.19,120.53 L324.44,120.48 L324.68,120.33 L324.93,120.75 L325.18,120.47 L325.43,120.59 L325.68,120.52 L325.93,120.70 L326.18,120.62 L326.42,120.49 L326.67,120.27 L326.92,120.69 L327.17,120.49 L327.42,120.32 L327.67,120.23 L327.91,120.62 L328.16,120.66 L328.41,120.23 L328.66,120.21 L328.91,120.46 L329.16,120.68 L329.41,120.22 L329.65,120.49 L329.90,120.22 L330.15,120.37 L330.40,120.26 L330.65,120.60 L330.90,120.27 L331.14,120.56 L331.39,120.46 L331.64,120.23 L331.89,120.23 L332.14,120.57 L332.39,120.54 L332.64,120.45 L332.88,120.38 L333.13,120.45 L333.38,120.58 L333.63,120.52 L333.88,120.27 L334.13,120.18 L334.37,120.62 L334.62,120.35 L334.87,120.24 L335.12,120.61 L335.37,120.20 L335.62,120.57 L335.87,120.32 L336.11,120.34 L336.36,120.30 L336.61,120.46 L336.86,120.40 L337.11,120.32 L337.36,120.40 L337.60,120.28 L337.85,120.38 L338.10,120.92 L338.35,122.25 L338.60,122.83 L338.85,123.59 L339.10,124.28 L339.34,124.44 L339.59,124.78 L339.84,125.22 L340.09,125.58 L340.34,125.61 L340.59,125.94 L340.83,126.04 L341.08,125.98 L341.33,126.23 L341.58,126.11 L341.83,126.13 L342.08,126.41 L342.33,126.14 L342.57,126.46 L342.82,126.15 L343.07,126.15 L343.32,126.31 L343.57,126.57 L343.82,126.35 L344.06,126.43 L344.31,126.15 L344.56,126.58 L344.81,126.22 L345.06,126.16 L345.31,126.31 L345.56,126.28 L345.80,126.61 L346.05,126.21 L346.30,126.47 L346.55,126.24 L346.80,126.27 L347.05,126.67 L347.29,126.35 L347.54,126.29 L347.79,126.74 L348.04,126.60 L348.29,126.40 L348.54,126.71 L348.79,126.34 L349.03,126.66 L349.28,126.39 L349.53,126.74 L349.78,126.56 L350.03,126.35 L350.28,126.72 L350.52,126.70 L350.77,126.58 L351.02,126.68 L351.27,126.83 L351.52,126.76 L351.77,126.77 L352.02,126.38 L352.26,126.51 L352.51,126.40 L352.76,126.78 L353.01,126.47 L353.26,126.82 L353.51,126.61 L353.75,126.55 L354.00,126.70 L354.25,126.44 L354.50,126.60" fill="none" stroke="#27d197" stroke-width="0.9" stroke-linejoin="round" />
<path d="M225.30,37.50 L225.55,37.34 L225.80,37.74 L226.05,37.28 L226.29,37.47 L226.54,37.59 L226.79,37.39 L227.04,37.66 L227.29,37.29 L227.54,37.50 L227.78,37.61 L228.03,37.40 L228.28,37.57 L228.53,37.71 L228.78,37.41 L229.03,37.77 L229.28,37.37 L229.52,37.67 L229.77,37.47 L230.02,37.29 L230.27,37.50 L230.52,37.46 L230.77,37.64 L231.01,37.80 L231.26,37.78 L231.51,37.72 L231.76,37.48 L232.01,37.58 L232.26,37.53 L232.51,37.34 L232.75,37.73 L233.00,37.68 L233.25,37.46 L233.50,37.79 L233.75,37.80 L234.00,37.62 L234.24,37.74 L234.49,37.61 L234.74,37.68 L234.99,37.50 L235.24,37.49 L235.49,40.21 L235.74,42.05 L235.98,43.82 L236.23,45.39 L236.48,46.13 L236.73,47.44 L236.98,48.29 L237.23,48.98 L237.47,49.26 L237.72,49.61 L237.97,50.06 L238.22,50.60 L238.47,50.97 L238.72,51.36 L238.97,51.25 L239.21,51.50 L239.46,51.78 L239.71,51.79 L239.96,52.04 L240.21,51.91 L240.46,52.14 L240.70,52.50 L240.95,52.26 L241.20,52.80 L241.45,52.64 L241.70,52.79 L241.95,52.95 L242.20,53.12 L242.44,52.82 L242.69,53.28 L242.94,53.07 L243.19,52.93 L243.44,53.40 L243.69,53.43 L243.93,53.27 L244.18,53.37 L244.43,53.35 L244.68,53.31 L244.93,53.69 L245.18,53.66 L245.43,53.71 L245.67,53.88 L245.92,53.49 L246.17,53.58 L246.42,53.65 L246.67,54.06 L246.92,53.66 L247.16,53.74 L247.41,53.92 L247.66,53.81 L247.91,53.98 L248.16,54.13 L248.41,54.22 L248.66,54.18 L248.90,54.31 L249.15,54.18 L249.40,53.99 L249.65,54.04 L249.90,53.98 L250.15,54.07 L250.39,54.33 L250.64,54.20 L250.89,54.28 L251.14,54.11 L251.39,54.27 L251.64,54.42 L251.89,54.24 L252.13,54.09 L252.38,54.49 L252.63,54.16 L252.88,54.63 L253.13,54.51 L253.38,54.54 L253.62,54.29 L253.87,54.20 L254.12,54.31 L254.37,54.54 L254.62,54.27 L254.87,54.56 L255.12,54.62 L255.36,54.28 L255.61,54.44 L255.86,54.41 L256.11,54.44 L256.36,56.47 L256.61,58.55 L256.85,59.86 L257.10,61.19 L257.35,62.15 L257.60,63.24 L257.85,63.83 L258.10,64.54 L258.35,65.21 L258.59,65.72 L258.84,65.91 L259.09,66.54 L259.34,66.42 L259.59,67.09 L259.84,67.39 L260.08,67.57 L260.33,67.34 L260.58,67.83 L260.83,68.10 L261.08,68.32 L261.33,68.45 L261.58,68.25 L261.82,68.41 L262.07,68.50 L262.32,68.59 L262.57,69.04 L262.82,68.87 L263.07,69.09 L263.31,68.95 L263.56,69.03 L263.81,69.08 L264.06,69.59 L264.31,69.25 L264.56,69.30 L264.81,69.36 L265.05,69.86 L265.30,69.88 L265.55,69.99 L265.80,70.09 L266.05,69.73 L266.30,69.81 L266.54,69.96 L266.79,69.91 L267.04,70.06 L267.29,70.29 L267.54,70.43 L267.79,70.48 L268.04,70.19 L268.28,70.51 L268.53,70.50 L268.78,70.48 L269.03,70.73 L269.28,70.64 L269.53,70.67 L269.77,70.48 L270.02,70.69 L270.27,70.75 L270.52,70.45 L270.77,70.71 L271.02,70.56 L271.27,70.71 L271.51,71.04 L271.76,70.87 L272.01,70.88 L272.26,70.73 L272.51,70.98 L272.76,70.82 L273.00,70.92 L273.25,71.11 L273.50,70.80 L273.75,71.22 L274.00,70.86 L274.25,71.21 L274.50,71.32 L274.74,71.23 L274.99,70.96 L275.24,70.86 L275.49,71.38 L275.74,71.14 L275.99,71.16 L276.23,71.01 L276.48,71.34 L276.73,71.19 L276.98,71.28 L277.23,71.04 L277.48,71.35 L277.73,71.01 L277.97,71.36 L278.22,75.08 L278.47,77.87 L278.72,80.47 L278.97,82.75 L279.22,84.19 L279.46,85.92 L279.71,86.76 L279.96,87.82 L280.21,88.64 L280.46,89.45 L280.71,90.23 L280.96,90.75 L281.20,91.23 L281.45,91.40 L281.70,92.19 L281.95,92.11 L282.20,92.85 L282.45,93.03 L282.69,93.25 L282.94,93.15 L283.19,93.56 L283.44,93.82 L283.69,93.75 L283.94,94.25 L284.19,94.30 L284.43,94.42 L284.68,94.44 L284.93,94.58 L285.18,94.77 L285.43,95.05 L285.68,95.18 L285.92,95.38 L286.17,95.14 L286.42,95.34 L286.67,95.40 L286.92,95.79 L287.17,95.75 L287.42,95.66 L287.66,95.85 L287.91,96.17 L288.16,96.08 L288.41,95.93 L288.66,96.34 L288.91,96.44 L289.15,96.45 L289.40,96.31 L289.65,96.30 L289.90,96.72 L290.15,96.78 L290.40,96.79 L290.65,96.81 L290.89,96.76 L291.14,97.00 L291.39,96.96 L291.64,97.08 L291.89,96.72 L292.14,96.90 L292.38,97.27 L292.63,96.86 L292.88,97.35 L293.13,97.24 L293.38,96.97 L293.63,97.10 L293.88,97.17 L294.12,97.36 L294.37,97.51 L294.62,97.32 L294.87,97.62 L295.12,97.60 L295.37,97.53 L295.61,97.75 L295.86,97.58 L296.11,97.41 L296.36,97.48 L296.61,97.60 L296.86,97.56 L297.11,97.67 L297.35,97.86 L297.60,97.64 L297.85,97.76 L298.10,99.56 L298.35,101.09 L298.60,102.67 L298.84,103.68 L299.09,104.48 L299.34,105.39 L299.59,106.11 L299.84,106.36 L300.09,106.71 L300.34,107.12 L300.58,107.47 L300.83,107.65 L301.08,107.96 L301.33,108.17 L301.58,108.43 L301.83,108.65 L302.07,108.62 L302.32,109.01 L302.57,108.94 L302.82,108.85 L303.07,108.97 L303.32,109.09 L303.57,109.35 L303.81,109.33 L304.06,109.38 L304.31,109.35 L304.56,109.51 L304.81,109.42 L305.06,109.34 L305.30,109.77 L305.55,109.57 L305.80,109.55 L306.05,109.79 L306.30,109.78 L306.55,109.56 L306.80,110.08 L307.04,109.85 L307.29,110.08 L307.54,109.79 L307.79,109.74 L308.04,109.99 L308.29,110.23 L308.53,110.01 L308.78,110.06 L309.03,109.99 L309.28,110.12 L309.53,110.08 L309.78,110.00 L310.03,110.18 L310.27,110.26 L310.52,110.00 L310.77,110.40 L311.02,110.18 L311.27,110.35 L311.52,110.17 L311.76,110.52 L312.01,110.09 L312.26,110.43 L312.51,110.60 L312.76,110.50 L313.01,110.45 L313.26,110.66 L313.50,110.47 L313.75,110.48 L314.00,110.35 L314.25,110.54 L314.50,110.59 L314.75,110.63 L314.99,110.37 L315.24,110.28 L315.49,110.50 L315.74,110.67 L315.99,110.38 L316.24,110.60 L316.49,110.70 L316.73,110.75 L316.98,110.42 L317.23,110.41 L317.48,110.51 L317.73,110.60 L317.98,112.41 L318.22,114.08 L318.47,114.90 L318.72,116.19 L318.97,116.82 L319.22,117.36 L319.47,117.86 L319.72,118.45 L319.96,118.86 L320.21,118.99 L320.46,119.41 L320.71,119.21 L320.96,119.59 L321.21,119.43 L321.45,119.82 L321.70,119.82 L321.95,119.93 L322.20,119.88 L322.45,120.03 L322.70,120.15 L322.95,119.79 L323.19,120.03 L323.44,120.05 L323.69,120.02 L323.94,119.93 L324.19,119.96 L324.44,119.85 L324.68,119.83 L324.93,119.98 L325.18,119.68 L325.43,119.72 L325.68,120.12 L325.93,119.72 L326.18,119.67 L326.42,119.73 L326.67,120.05 L326.92,119.69 L327.17,119.79 L327.42,120.10 L327.67,120.10 L327.91,119.60 L328.16,119.75 L328.41,119.96 L328.66,120.03 L328.91,120.00 L329.16,119.95 L329.41,119.66 L329.65,119.88 L329.90,119.98 L330.15,119.58 L330.40,119.64 L330.65,119.96 L330.90,119.58 L331.14,119.72 L331.39,119.63 L331.64,119.68 L331.89,119.56 L332.14,119.61 L332.39,119.58 L332.64,119.91 L332.88,119.65 L333.13,119.73 L333.38,119.62 L333.63,119.78 L333.88,119.54 L334.13,119.71 L334.37,119.86 L334.62,119.87 L334.87,119.92 L335.12,119.73 L335.37,119.96 L335.62,119.74 L335.87,119.91 L336.11,119.73 L336.36,119.72 L336.61,119.70 L336.86,119.53 L337.11,119.97 L337.36,119.54 L337.60,119.73 L337.85,119.68 L338.10,120.10 L338.35,121.03 L338.60,122.10 L338.85,122.75 L339.10,123.02 L339.34,123.92 L339.59,124.00 L339.84,124.29 L340.09,124.85 L340.34,124.75 L340.59,124.88 L340.83,124.88 L341.08,125.30 L341.33,125.06 L341.58,125.38 L341.83,125.46 L342.08,125.30 L342.33,125.79 L342.57,125.48 L342.82,125.56 L343.07,125.74 L343.32,125.49 L343.57,125.77 L343.82,125.73 L344.06,125.73 L344.31,125.61 L344.56,125.92 L344.81,125.82 L345.06,125.83 L345.31,125.78 L345.56,125.65 L345.80,125.93 L346.05,125.66 L346.30,125.89 L346.55,125.85 L346.80,125.98 L347.05,125.86 L347.29,125.63 L347.54,125.80 L347.79,125.73 L348.04,125.98 L348.29,125.99 L348.54,126.00 L348.79,125.86 L349.03,125.84 L349.28,125.77 L349.53,126.16 L349.78,125.81 L350.03,125.73 L350.28,125.91 L350.52,126.17 L350.77,126.04 L351.02,126.20 L351.27,126.11 L351.52,125.73 L351.77,125.90 L352.02,125.88 L352.26,125.81 L352.51,125.75 L352.76,125.91 L353.01,125.91 L353.26,125.91 L353.51,125.87 L353.75,125.93 L354.00,125.89 L354.25,126.13 L354.50,125.90" fill="none" stroke="#27d197" stroke-width="0.9" stroke-linejoin="round" />
<path d="M225.30,37.56 L225.55,37.40 L225.80,37.75 L226.05,37.70 L226.29,37.78 L226.54,37.40 L226.79,37.33 L227.04,37.46 L227.29,37.61 L227.54,37.37 L227.78,37.39 L228.03,37.51 L228.28,37.67 L228.53,37.64 L228.78,37.58 L229.03,37.63 L229.28,37.58 L229.52,37.47 L229.77,37.32 L230.02,37.77 L230.27,37.51 L230.52,37.78 L230.77,37.74 L231.01,37.38 L231.26,37.50 L231.51,37.32 L231.76,37.57 L232.01,37.79 L232.26,37.60 L232.51,37.49 L232.75,37.31 L233.00,37.29 L233.25,37.55 L233.50,37.59 L233.75,37.75 L234.00,37.47 L234.24,37.69 L234.49,37.72 L234.74,37.79 L234.99,37.80 L235.24,37.44 L235.49,39.86 L235.74,41.21 L235.98,43.17 L236.23,44.03 L236.48,45.48 L236.73,46.44 L236.98,46.85 L237.23,47.75 L237.47,48.06 L237.72,48.82 L237.97,49.31 L238.22,49.29 L238.47,49.64 L238.72,49.84 L238.97,50.15 L239.21,50.70 L239.46,50.61 L239.71,50.74 L239.96,51.03 L240.21,50.92 L240.46,51.40 L240.70,51.15 L240.95,51.39 L241.20,51.86 L241.45,51.95 L241.70,51.71 L241.95,51.70 L242.20,52.16 L242.44,52.11 L242.69,51.97 L242.94,52.32 L243.19,52.03 L243.44,52.28 L243.69,52.56 L243.93,52.45 L244.18,52.40 L244.43,52.52 L244.68,52.44 L244.93,52.76 L245.18,52.47 L245.43,52.73 L245.67,52.63 L245.92,52.68 L246.17,52.82 L246.42,52.88 L246.67,52.70 L246.92,52.65 L247.16,52.77 L247.41,52.91 L247.66,53.08 L247.91,53.23 L248.16,52.79 L248.41,52.96 L248.66,52.92 L248.90,53.20 L249.15,53.08 L249.40,52.91 L249.65,53.01 L249.90,53.15 L250.15,53.32 L250.39,53.28 L250.64,53.06 L250.89,53.35 L251.14,53.20 L251.39,53.26 L251.64,53.13 L251.89,53.19 L252.13,53.48 L252.38,53.64 L252.63,53.52 L252.88,53.45 L253.13,53.38 L253.38,53.27 L253.62,53.25 L253.87,53.70 L254.12,53.30 L254.37,53.32 L254.62,53.31 L254.87,53.47 L255.12,53.63 L255.36,53.34 L255.61,53.38 L255.86,53.45 L256.11,53.34 L256.36,55.46 L256.61,57.14 L256.85,58.21 L257.10,59.20 L257.35,60.46 L257.60,60.99 L257.85,61.59 L258.10,62.56 L258.35,62.89 L258.59,63.31 L258.84,63.82 L259.09,64.31 L259.34,64.60 L259.59,64.62 L259.84,64.85 L260.08,65.25 L260.33,65.65 L260.58,65.47 L260.83,65.66 L261.08,66.09 L261.33,66.06 L261.58,66.04 L261.82,66.17 L262.07,66.48 L262.32,66.62 L262.57,66.66 L262.82,66.97 L263.07,67.07 L263.31,67.16 L263.56,66.98 L263.81,67.24 L264.06,67.22 L264.31,67.38 L264.56,67.39 L264.81,67.65 L265.05,67.77 L265.30,67.34 L265.55,67.73 L265.80,67.92 L266.05,67.71 L266.30,67.68 L266.54,68.06 L266.79,67.89 L267.04,68.07 L267.29,68.02 L267.54,68.33 L267.79,68.36 L268.04,67.91 L268.28,68.02 L268.53,68.25 L268.78,68.25 L269.03,68.44 L269.28,68.21 L269.53,68.43 L269.77,68.19 L270.02,68.32 L270.27,68.32 L270.52,68.27 L270.77,68.67 L271.02,68.81 L271.27,68.75 L271.51,68.79 L271.76,68.86 L272.01,68.90 L272.26,68.66 L272.51,68.52 L272.76,68.76 L273.00,68.53 L273.25,68.57 L273.50,69.02 L273.75,68.77 L274.00,68.89 L274.25,69.05 L274.50,68.63 L274.74,69.01 L274.99,68.87 L275.24,68.84 L275.49,68.69 L275.74,68.86 L275.99,69.01 L276.23,69.00 L276.48,69.16 L276.73,68.75 L276.98,68.75 L277.23,69.16 L277.48,69.27 L277.73,69.17 L277.97,69.13 L278.22,72.37 L278.47,75.33 L278.72,77.86 L278.97,80.38 L279.22,81.78 L279.46,83.34 L279.71,84.67 L279.96,85.60 L280.21,87.03 L280.46,87.81 L280.71,88.21 L280.96,88.73 L281.20,89.41 L281.45,90.09 L281.70,90.36 L281.95,90.66 L282.20,91.33 L282.45,91.53 L282.69,91.84 L282.94,92.17 L283.19,92.21 L283.44,92.59 L283.69,92.75 L283.94,92.99 L284.19,92.88 L284.43,93.39 L284.68,93.18 L284.93,93.59 L285.18,93.81 L285.43,93.48 L285.68,93.97 L285.92,93.72 L286.17,93.86 L286.42,93.96 L286.67,94.45 L286.92,94.39 L287.17,94.66 L287.42,94.32 L287.66,94.45 L287.91,94.65 L288.16,94.82 L288.41,94.95 L288.66,94.78 L288.91,95.03 L289.15,95.02 L289.40,95.33 L289.65,95.36 L289.90,95.50 L290.15,95.22 L290.40,95.36 L290.65,95.63 L290.89,95.31 L291.14,95.67 L291.39,95.64 L291.64,95.82 L291.89,95.81 L292.14,95.56 L292.38,95.86 L292.63,95.99 L292.88,95.86 L293.13,95.99 L293.38,95.73 L293.63,96.17 L293.88,95.76 L294.12,96.27 L294.37,95.87 L294.62,96.01 L294.87,96.28 L295.12,96.17 L295.37,96.30 L295.61,96.34 L295.86,96.39 L296.11,96.34 L296.36,96.04 L296.61,96.05 L296.86,96.11 L297.11,96.56 L297.35,96.49 L297.60,96.19 L297.85,96.65 L298.10,98.19 L298.35,100.00 L298.60,100.97 L298.84,102.57 L299.09,103.10 L299.34,104.13 L299.59,104.90 L299.84,105.53 L300.09,105.58 L300.34,106.14 L300.58,106.67 L300.83,106.84 L301.08,106.85 L301.33,107.44 L301.58,107.45 L301.83,107.85 L302.07,107.97 L302.32,107.80 L302.57,107.95 L302.82,108.33 L303.07,108.48 L303.32,108.57 L303.57,108.38 L303.81,108.51 L304.06,108.69 L304.31,108.79 L304.56,108.64 L304.81,108.64 L305.06,108.64 L305.30,108.81 L305.55,109.05 L305.80,109.16 L306.05,108.86 L306.30,109.06 L306.55,108.94 L306.80,109.32 L307.04,108.96 L307.29,109.24 L307.54,109.01 L307.79,109.02 L308.04,109.24 L308.29,109.52 L308.53,109.08 L308.78,109.33 L309.03,109.15 L309.28,109.49 L309.53,109.55 L309.78,109.24 L310.03,109.50 L310.27,109.63 L310.52,109.54 L310.77,109.44 L311.02,109.76 L311.27,109.51 L311.52,109.57 L311.76,109.55 L312.01,109.77 L312.26,109.48 L312.51,109.44 L312.76,109.43 L313.01,109.72 L313.26,109.53 L313.50,109.72 L313.75,109.54 L314.00,109.90 L314.25,109.50 L314.50,109.46 L314.75,109.71 L314.99,109.71 L315.24,109.71 L315.49,109.72 L315.74,110.00 L315.99,109.51 L316.24,109.91 L316.49,109.94 L316.73,109.99 L316.98,109.92 L317.23,109.63 L317.48,110.05 L317.73,110.02 L317.98,111.40 L318.22,113.07 L318.47,114.32 L318.72,114.97 L318.97,115.77 L319.22,116.44 L319.47,116.88 L319.72,117.63 L319.96,117.59 L320.21,117.97 L320.46,118.56 L320.71,118.71 L320.96,118.68 L321.21,118.81 L321.45,119.03 L321.70,119.19 L321.95,119.12 L322.20,119.31 L322.45,119.12 L322.70,119.01 L322.95,119.40 L323.19,119.20 L323.44,119.13 L323.69,119.44 L323.94,119.10 L324.19,119.05 L324.44,119.33 L324.68,119.31 L324.93,119.10 L325.18,119.26 L325.43,119.32 L325.68,119.03 L325.93,119.11 L326.18,119.33 L326.42,119.38 L326.67,119.32 L326.92,119.26 L327.17,118.98 L327.42,119.06 L327.67,119.00 L327.91,119.04 L328.16,119.02 L328.41,119.43 L328.66,119.18 L328.91,118.95 L329.16,118.95 L329.41,119.30 L329.65,119.21 L329.90,119.09 L330.15,119.23 L330.40,119.14 L330.65,119.37 L330.90,119.18 L331.14,119.14 L331.39,119.38 L331.64,119.32 L331.89,118.88 L332.14,118.98 L332.39,118.89 L332.64,119.05 L332.88,118.95 L333.13,118.91 L333.38,118.91 L333.63,119.34 L333.88,119.03 L334.13,119.22 L334.37,119.00 L334.62,119.21 L334.87,119.07 L335.12,118.87 L335.37,119.02 L335.62,119.21 L335.87,119.07 L336.11,119.11 L336.36,118.84 L336.61,119.18 L336.86,119.17 L337.11,118.99 L337.36,119.26 L337.60,119.02 L337.85,118.83 L338.10,119.48 L338.35,120.55 L338.60,121.23 L338.85,121.84 L339.10,122.58 L339.34,123.04 L339.59,123.41 L339.84,123.64 L340.09,123.84 L340.34,124.12 L340.59,124.33 L340.83,124.56 L341.08,124.45 L341.33,124.41 L341.58,124.62 L341.83,124.72 L342.08,124.74 L342.33,125.03 L342.57,124.81 L342.82,124.98 L343.07,124.97 L343.32,124.97 L343.57,125.07 L343.82,125.18 L344.06,125.23 L344.31,125.26 L344.56,125.13 L344.81,125.21 L345.06,125.12 L345.31,125.43 L345.56,125.26 L345.80,125.01 L346.05,125.34 L346.30,125.18 L346.55,125.22 L346.80,125.34 L347.05,124.98 L347.29,125.34 L347.54,125.10 L347.79,125.43 L348.04,125.48 L348.29,125.07 L348.54,125.30 L348.79,125.50 L349.03,125.33 L349.28,125.31 L349.53,125.16 L349.78,125.49 L350.03,125.43 L350.28,125.06 L350.52,125.17 L350.77,125.48 L351.02,125.39 L351.27,125.38 L351.52,125.22 L351.77,125.25 L352.02,125.13 L352.26,125.15 L352.51,125.31 L352.76,125.20 L353.01,125.20 L353.26,125.19 L353.51,125.34 L353.75,125.18 L354.00,125.23 L354.25,125.12 L354.50,125.53" fill="none" stroke="#27d197" stroke-width="0.9" stroke-linejoin="round" />
<path d="M225.30,37.06 L225.45,38.18 L225.60,37.20 L225.75,37.43 L225.90,37.54 L226.05,36.94 L226.19,37.45 L226.34,37.65 L226.49,37.17 L226.64,37.06 L226.79,37.40 L226.94,37.70 L227.09,37.60 L227.24,37.59 L227.39,37.25 L227.54,37.81 L227.69,37.68 L227.83,37.47 L227.98,37.69 L228.13,37.77 L228.28,37.17 L228.43,37.09 L228.58,37.54 L228.73,37.61 L228.88,37.95 L229.03,37.79 L229.18,38.00 L229.33,37.44 L229.47,37.43 L229.62,38.07 L229.77,37.00 L229.92,37.77 L230.07,37.10 L230.22,37.10 L230.37,36.95 L230.52,37.92 L230.67,37.64 L230.82,37.01 L230.96,38.17 L231.11,38.13 L231.26,37.46 L231.41,37.54 L231.56,37.00 L231.71,37.19 L231.86,37.49 L232.01,36.90 L232.16,37.52 L232.31,37.52 L232.46,37.30 L232.60,37.68 L232.75,37.72 L232.90,37.42 L233.05,37.73 L233.20,36.96 L233.35,37.31 L233.50,37.51 L233.65,38.06 L233.80,37.70 L233.95,37.67 L234.10,37.46 L234.24,37.44 L234.39,37.05 L234.54,36.94 L234.69,37.56 L234.84,37.62 L234.99,37.38 L235.14,36.90 L235.29,38.19 L235.44,39.16 L235.59,39.82 L235.74,41.53 L235.88,42.09 L236.03,41.87 L236.18,42.61 L236.33,43.48 L236.48,44.40 L236.63,43.73 L236.78,44.29 L236.93,44.37 L237.08,44.37 L237.23,44.69 L237.38,45.46 L237.52,45.95 L237.67,45.90 L237.82,45.73 L237.97,45.83 L238.12,46.33 L238.27,46.42 L238.42,45.91 L238.57,46.00 L238.72,46.38 L238.87,45.61 L239.02,46.12 L239.16,46.93 L239.31,46.50 L239.46,46.05 L239.61,46.71 L239.76,46.24 L239.91,47.16 L240.06,46.81 L240.21,46.14 L240.36,46.50 L240.51,46.42 L240.65,47.06 L240.80,46.69 L240.95,46.65 L241.10,47.04 L241.25,46.58 L241.40,46.75 L241.55,46.17 L241.70,46.74 L241.85,46.97 L242.00,47.37 L242.15,47.34 L242.29,46.58 L242.44,47.45 L242.59,47.48 L242.74,47.40 L242.89,46.97 L243.04,46.60 L243.19,46.89 L243.34,46.66 L243.49,47.64 L243.64,47.72 L243.79,46.76 L243.93,47.36 L244.08,46.87 L244.23,47.35 L244.38,47.61 L244.53,47.50 L244.68,47.73 L244.83,46.71 L244.98,47.14 L245.13,47.46 L245.28,47.34 L245.43,47.44 L245.57,47.88 L245.72,46.82 L245.87,47.23 L246.02,46.76 L246.17,47.44 L246.32,47.23 L246.47,47.72 L246.62,48.00 L246.77,46.87 L246.92,46.98 L247.07,47.69 L247.21,46.95 L247.36,47.07 L247.51,47.74 L247.66,47.37 L247.81,46.92 L247.96,47.53 L248.11,46.96 L248.26,47.89 L248.41,47.71 L248.56,47.29 L248.71,47.95 L248.85,47.85 L249.00,47.13 L249.15,47.64 L249.30,47.26 L249.45,47.98 L249.60,48.08 L249.75,47.85 L249.90,48.08 L250.05,47.08 L250.20,47.97 L250.34,47.63 L250.49,48.22 L250.64,47.68 L250.79,47.89 L250.94,47.87 L251.09,48.32 L251.24,48.25 L251.39,47.36 L251.54,47.98 L251.69,48.13 L251.84,48.20 L251.98,48.09 L252.13,48.16 L252.28,48.43 L252.43,47.63 L252.58,48.05 L252.73,48.30 L252.88,47.60 L253.03,48.40 L253.18,48.18 L253.33,47.46 L253.48,48.38 L253.62,47.98 L253.77,47.48 L253.92,47.53 L254.07,48.37 L254.22,48.13 L254.37,47.65 L254.52,48.11 L254.67,47.36 L254.82,48.34 L254.97,47.39 L255.12,47.97 L255.26,48.34 L255.41,48.05 L255.56,48.48 L255.71,47.74 L255.86,48.32 L256.01,47.50 L256.16,48.40 L256.31,50.00 L256.46,51.29 L256.61,51.79 L256.76,53.13 L256.90,52.99 L257.05,54.57 L257.20,54.59 L257.35,55.01 L257.50,55.76 L257.65,55.46 L257.80,56.26 L257.95,56.17 L258.10,56.52 L258.25,57.05 L258.40,57.14 L258.54,57.69 L258.69,57.72 L258.84,56.98 L258.99,57.79 L259.14,57.46 L259.29,58.27 L259.44,57.78 L259.59,58.13 L259.74,58.03 L259.89,58.37 L260.03,58.74 L260.18,58.50 L260.33,58.67 L260.48,58.87 L260.63,58.16 L260.78,58.78 L260.93,58.68 L261.08,58.08 L261.23,58.31 L261.38,58.22 L261.53,58.30 L261.67,59.30 L261.82,59.16 L261.97,59.53 L262.12,58.73 L262.27,58.80 L262.42,59.25 L262.57,59.21 L262.72,58.94 L262.87,58.93 L263.02,59.56 L263.17,58.82 L263.31,59.50 L263.46,59.19 L263.61,59.81 L263.76,59.93 L263.91,58.94 L264.06,59.21 L264.21,59.27 L264.36,60.18 L264.51,60.22 L264.66,60.10 L264.81,60.09 L264.95,59.99 L265.10,59.92 L265.25,60.40 L265.40,60.08 L265.55,59.69 L265.70,60.32 L265.85,59.50 L266.00,59.88 L266.15,59.72 L266.30,60.35 L266.45,60.15 L266.59,59.86 L266.74,60.32 L266.89,60.80 L267.04,59.75 L267.19,59.86 L267.34,60.52 L267.49,60.86 L267.64,59.84 L267.79,60.19 L267.94,60.94 L268.09,60.71 L268.23,60.91 L268.38,60.06 L268.53,60.84 L268.68,59.95 L268.83,60.19 L268.98,61.08 L269.13,60.31 L269.28,60.73 L269.43,60.29 L269.58,60.21 L269.72,60.95 L269.87,61.22 L270.02,60.13 L270.17,60.83 L270.32,60.20 L270.47,60.53 L270.62,60.49 L270.77,60.39 L270.92,60.68 L271.07,60.93 L271.22,61.46 L271.36,60.65 L271.51,61.02 L271.66,60.93 L271.81,60.41 L271.96,61.47 L272.11,60.67 L272.26,61.62 L272.41,60.78 L272.56,60.67 L272.71,61.39 L272.86,61.04 L273.00,60.51 L273.15,60.96 L273.30,61.10 L273.45,61.50 L273.60,61.76 L273.75,61.39 L273.90,61.34 L274.05,61.63 L274.20,61.50 L274.35,61.74 L274.50,61.02 L274.64,61.08 L274.79,61.66 L274.94,61.67 L275.09,61.33 L275.24,61.44 L275.39,60.82 L275.54,61.59 L275.69,61.67 L275.84,60.92 L275.99,61.90 L276.14,61.37 L276.28,61.68 L276.43,61.07 L276.58,61.43 L276.73,61.17 L276.88,61.95 L277.03,61.31 L277.18,61.42 L277.33,61.61 L277.48,61.22 L277.63,61.15 L277.78,62.09 L277.92,61.88 L278.07,63.01 L278.22,64.80 L278.37,66.35 L278.52,67.22 L278.67,68.32 L278.82,68.51 L278.97,69.57 L279.12,70.62 L279.27,70.88 L279.41,71.15 L279.56,71.68 L279.71,72.28 L279.86,72.70 L280.01,73.04 L280.16,72.00 L280.31,72.51 L280.46,73.54 L280.61,72.88 L280.76,72.68 L280.91,73.34 L281.05,74.04 L281.20,73.65 L281.35,73.81 L281.50,74.21 L281.65,73.83 L281.80,74.60 L281.95,73.48 L282.10,73.90 L282.25,73.98 L282.40,73.64 L282.55,74.06 L282.69,74.63 L282.84,74.69 L282.99,74.87 L283.14,75.06 L283.29,74.14 L283.44,74.10 L283.59,74.84 L283.74,75.02 L283.89,74.48 L284.04,74.25 L284.19,74.18 L284.33,75.20 L284.48,74.44 L284.63,74.42 L284.78,74.56 L284.93,75.14 L285.08,75.35 L285.23,74.56 L285.38,75.24 L285.53,75.21 L285.68,75.01 L285.83,75.28 L285.97,74.71 L286.12,75.51 L286.27,75.79 L286.42,75.14 L286.57,75.09 L286.72,74.87 L286.87,75.05 L287.02,74.82 L287.17,74.80 L287.32,75.41 L287.47,75.43 L287.61,75.90 L287.76,75.74 L287.91,75.40 L288.06,76.08 L288.21,75.32 L288.36,76.02 L288.51,75.68 L288.66,75.03 L288.81,76.19 L288.96,76.28 L289.10,75.78 L289.25,76.13 L289.40,75.46 L289.55,76.42 L289.70,75.36 L289.85,75.36 L290.00,75.47 L290.15,75.96 L290.30,76.16 L290.45,75.70 L290.60,75.91 L290.74,76.05 L290.89,76.18 L291.04,76.07 L291.19,75.79 L291.34,75.61 L291.49,75.52 L291.64,76.50 L291.79,76.35 L291.94,76.18 L292.09,76.04 L292.24,76.34 L292.38,76.55 L292.53,76.71 L292.68,76.42 L292.83,76.26 L292.98,75.62 L293.13,75.72 L293.28,75.79 L293.43,75.66 L293.58,75.70 L293.73,76.15 L293.88,75.92 L294.02,76.91 L294.17,76.13 L294.32,76.23 L294.47,76.65 L294.62,76.31 L294.77,75.83 L294.92,76.46 L295.07,76.26 L295.22,76.72 L295.37,76.68 L295.52,75.99 L295.66,77.11 L295.81,76.92 L295.96,76.30 L296.11,76.61 L296.26,77.09 L296.41,76.36 L296.56,76.75 L296.71,76.49 L296.86,76.71 L297.01,76.58 L297.16,76.55 L297.30,76.78 L297.45,77.15 L297.60,77.08 L297.75,76.17 L297.90,77.02 L298.05,78.66 L298.20,78.61 L298.35,80.18 L298.50,81.06 L298.65,81.07 L298.79,81.92 L298.94,82.03 L299.09,82.31 L299.24,83.05 L299.39,82.87 L299.54,83.70 L299.69,83.39 L299.84,83.47 L299.99,84.28 L300.14,83.99 L300.29,84.55 L300.43,84.18 L300.58,83.73 L300.73,84.22 L300.88,84.09 L301.03,84.10 L301.18,85.00 L301.33,83.93 L301.48,84.33 L301.63,85.19 L301.78,84.29 L301.93,84.90 L302.07,85.23 L302.22,84.25 L302.37,84.81 L302.52,84.57 L302.67,85.43 L302.82,84.64 L302.97,85.60 L303.12,85.40 L303.27,85.26 L303.42,85.75 L303.57,85.03 L303.71,85.56 L303.86,85.47 L304.01,84.97 L304.16,85.37 L304.31,84.79 L304.46,85.17 L304.61,84.87 L304.76,85.29 L304.91,84.86 L305.06,84.95 L305.21,85.88 L305.35,85.16 L305.50,85.70 L305.65,85.18 L305.80,85.31 L305.95,85.15 L306.10,86.08 L306.25,85.78 L306.40,85.33 L306.55,85.08 L306.70,85.39 L306.85,86.29 L306.99,85.59 L307.14,86.26 L307.29,85.70 L307.44,85.39 L307.59,86.30 L307.74,85.27 L307.89,85.62 L308.04,86.18 L308.19,86.28 L308.34,85.97 L308.48,85.48 L308.63,85.83 L308.78,86.45 L308.93,86.59 L309.08,86.49 L309.23,85.62 L309.38,86.43 L309.53,85.97 L309.68,86.33 L309.83,85.83 L309.98,86.25 L310.12,86.57 L310.27,85.64 L310.42,86.09 L310.57,85.91 L310.72,85.77 L310.87,85.60 L311.02,86.83 L311.17,86.42 L311.32,86.68 L311.47,86.24 L311.62,85.78 L311.76,85.88 L311.91,86.89 L312.06,86.71 L312.21,85.90 L312.36,86.09 L312.51,86.48 L312.66,86.38 L312.81,86.81 L312.96,85.93 L313.11,86.53 L313.26,85.92 L313.40,86.27 L313.55,86.98 L313.70,86.66 L313.85,86.82 L314.00,85.95 L314.15,86.36 L314.30,87.08 L314.45,86.92 L314.60,86.69 L314.75,86.56 L314.90,86.43 L315.04,86.69 L315.19,86.74 L315.34,87.20 L315.49,86.47 L315.64,86.80 L315.79,87.21 L315.94,86.65 L316.09,85.98 L316.24,87.21 L316.39,87.09 L316.54,86.42 L316.68,86.94 L316.83,86.95 L316.98,86.67 L317.13,86.99 L317.28,86.60 L317.43,86.66 L317.58,86.11 L317.73,86.08 L317.88,88.13 L318.03,88.15 L318.17,88.47 L318.32,88.85 L318.47,89.40 L318.62,89.95 L318.77,90.27 L318.92,90.89 L319.07,91.23 L319.22,90.76 L319.37,90.83 L319.52,90.90 L319.67,91.36 L319.81,91.96 L319.96,91.46 L320.11,91.58 L320.26,91.95 L320.41,91.85 L320.56,92.28 L320.71,92.08 L320.86,92.31 L321.01,92.80 L321.16,92.48 L321.31,92.53 L321.45,91.71 L321.60,92.39 L321.75,92.57 L321.90,92.76 L322.05,92.79 L322.20,92.67 L322.35,92.97 L322.50,93.15 L322.65,92.06 L322.80,92.62 L322.95,92.64 L323.09,92.50 L323.24,92.87 L323.39,93.06 L323.54,93.20 L323.69,92.92 L323.84,92.92 L323.99,92.40 L324.14,92.64 L324.29,92.16 L324.44,92.94 L324.59,92.21 L324.73,92.66 L324.88,93.32 L325.03,93.21 L325.18,92.70 L325.33,92.19 L325.48,93.02 L325.63,92.49 L325.78,92.95 L325.93,92.39 L326.08,93.44 L326.23,92.92 L326.37,92.39 L326.52,93.21 L326.67,93.25 L326.82,93.56 L326.97,93.39 L327.12,93.27 L327.27,92.71 L327.42,93.35 L327.57,93.13 L327.72,93.40 L327.86,92.89 L328.01,92.56 L328.16,92.85 L328.31,93.44 L328.46,92.76 L328.61,92.47 L328.76,92.95 L328.91,93.64 L329.06,92.70 L329.21,92.63 L329.36,93.33 L329.50,93.60 L329.65,93.54 L329.80,93.10 L329.95,92.67 L330.10,92.98 L330.25,92.63 L330.40,93.56 L330.55,93.42 L330.70,92.88 L330.85,93.02 L331.00,93.34 L331.14,92.99 L331.29,93.44 L331.44,93.81 L331.59,93.36 L331.74,93.84 L331.89,93.10 L332.04,93.49 L332.19,93.29 L332.34,93.16 L332.49,93.61 L332.64,93.35 L332.78,93.94 L332.93,92.76 L333.08,93.24 L333.23,92.70 L333.38,93.91 L333.53,93.19 L333.68,93.06 L333.83,93.58 L333.98,93.89 L334.13,93.81 L334.28,93.84 L334.42,93.03 L334.57,93.92 L334.72,92.98 L334.87,93.50 L335.02,93.35 L335.17,93.29 L335.32,93.34 L335.47,93.22 L335.62,93.29 L335.77,93.65 L335.92,93.12 L336.06,93.76 L336.21,93.17 L336.36,93.11 L336.51,93.10 L336.66,93.71 L336.81,93.11 L336.96,92.85 L337.11,93.54 L337.26,93.77 L337.41,93.46 L337.55,92.92 L337.70,93.97 L337.85,94.14 L338.00,93.54 L338.15,93.65 L338.30,93.79 L338.45,94.57 L338.60,93.97 L338.75,95.14 L338.90,94.60 L339.05,95.60 L339.19,95.78 L339.34,95.74 L339.49,95.91 L339.64,95.41 L339.79,95.39 L339.94,95.92 L340.09,94.98 L340.24,95.76 L340.39,96.07 L340.54,96.05 L340.69,95.35 L340.83,95.13 L340.98,96.13 L341.13,96.31 L341.28,95.35 L341.43,96.05 L341.58,95.10 L341.73,95.74 L341.88,95.56 L342.03,95.95 L342.18,95.36 L342.33,95.80 L342.47,95.98 L342.62,95.23 L342.77,96.27 L342.92,95.46 L343.07,96.32 L343.22,95.58 L343.37,95.89 L343.52,95.29 L343.67,96.34 L343.82,95.68 L343.97,95.88 L344.11,95.23 L344.26,95.19 L344.41,95.60 L344.56,96.13 L344.71,96.09 L344.86,96.08 L345.01,95.85 L345.16,96.12 L345.31,96.15 L345.46,95.43 L345.61,95.58 L345.75,96.03 L345.90,95.13 L346.05,96.14 L346.20,95.68 L346.35,96.21 L346.50,95.30 L346.65,95.29 L346.80,96.07 L346.95,95.44 L347.10,95.35 L347.24,96.05 L347.39,95.99 L347.54,95.79 L347.69,95.26 L347.84,96.21 L347.99,95.53 L348.14,95.64 L348.29,95.83 L348.44,95.67 L348.59,95.27 L348.74,96.15 L348.88,95.27 L349.03,95.95 L349.18,95.41 L349.33,95.30 L349.48,96.18 L349.63,95.30 L349.78,95.13 L349.93,96.03 L350.08,96.39 L350.23,96.27 L350.38,95.16 L350.52,96.40 L350.67,95.24 L350.82,96.22 L350.97,95.46 L351.12,96.29 L351.27,96.20 L351.42,95.53 L351.57,96.30 L351.72,95.98 L351.87,95.23 L352.02,95.49 L352.16,95.28 L352.31,95.15 L352.46,96.37 L352.61,96.11 L352.76,95.39 L352.91,95.52 L353.06,96.37 L353.21,95.76 L353.36,96.12 L353.51,95.86 L353.66,96.28 L353.80,96.39 L353.95,95.13 L354.10,96.01 L354.25,95.28 L354.40,96.26" fill="none" stroke="#3d3d3d" stroke-width="1.0" stroke-linejoin="round" />
<path d="M225.30,37.54 L235.24,37.54" fill="none" stroke="#2fd49b" stroke-width="1.0" stroke-linejoin="round" />
<text x="230.00" y="34.40" font-size="7.2" text-anchor="middle" fill="#111" stroke="#111" stroke-width="0.25" font-weight="normal" >9</text>
<text x="248.90" y="41.70" font-size="7.2" text-anchor="middle" fill="#111" stroke="#111" stroke-width="0.25" font-weight="normal" >8</text>
<text x="267.70" y="53.20" font-size="7.2" text-anchor="middle" fill="#111" stroke="#111" stroke-width="0.25" font-weight="normal" >7</text>
<text x="289.00" y="68.70" font-size="7.2" text-anchor="middle" fill="#111" stroke="#111" stroke-width="0.25" font-weight="normal" >6</text>
<text x="308.70" y="80.60" font-size="7.2" text-anchor="middle" fill="#111" stroke="#111" stroke-width="0.25" font-weight="normal" >5</text>
<text x="328.30" y="87.40" font-size="7.2" text-anchor="middle" fill="#111" stroke="#111" stroke-width="0.25" font-weight="normal" >4</text>
<text x="346.20" y="90.80" font-size="7.2" text-anchor="middle" fill="#111" stroke="#111" stroke-width="0.25" font-weight="normal" >3</text>
<text x="289.80" y="33.30" font-size="6.2" text-anchor="middle" fill="#9a9a9a" stroke="#9a9a9a" stroke-width="0.25" font-weight="normal" >Decreasing pH</text>
<line x1="270.90" y1="38.00" x2="307.00" y2="38.00" stroke="#9a9a9a" stroke-width="0.7" />
<polygon points="310.00,38.00 306.20,36.50 306.20,39.50" fill="#9a9a9a" stroke="none" stroke-width="0.5" />
<line x1="230.50" y1="131.50" x2="240.60" y2="131.50" stroke="#2fd49b" stroke-width="1.0" />
<text x="246.40" y="134.00" font-size="7.5" text-anchor="start" fill="#111" stroke="#111" stroke-width="0.25" font-weight="normal" >PAni-gFET</text>
<line x1="230.50" y1="144.50" x2="240.60" y2="144.50" stroke="#505050" stroke-width="1.0" />
<text x="246.40" y="146.70" font-size="7.5" text-anchor="start" fill="#111" stroke="#111" stroke-width="0.25" font-weight="normal" >Bare-gFET</text>
<rect x="416.00" y="23.90" width="129.20" height="130.90" fill="none" stroke="#555" stroke-width="0.9"/>
<line x1="416.00" y1="32.50" x2="545.20" y2="32.50" stroke="#cfcfcf" stroke-width="0.7" />
<line x1="414.00" y1="32.50" x2="416.00" y2="32.50" stroke="#555" stroke-width="0.8" />
<text x="412.60" y="35.50" font-size="6.5" text-anchor="end" fill="#111" stroke="#111" stroke-width="0.25" font-weight="normal" >0</text>
<line x1="414.00" y1="70.50" x2="416.00" y2="70.50" stroke="#555" stroke-width="0.8" />
<text x="412.60" y="73.50" font-size="6.5" text-anchor="end" fill="#111" stroke="#111" stroke-width="0.25" font-weight="normal" >-5</text>
<line x1="414.00" y1="108.50" x2="416.00" y2="108.50" stroke="#555" stroke-width="0.8" />
<text x="412.60" y="111.50" font-size="6.5" text-anchor="end" fill="#111" stroke="#111" stroke-width="0.25" font-weight="normal" >-10</text>
<line x1="414.00" y1="146.50" x2="416.00" y2="146.50" stroke="#555" stroke-width="0.8" />
<text x="412.60" y="149.50" font-size="6.5" text-anchor="end" fill="#111" stroke="#111" stroke-width="0.25" font-weight="normal" >-15</text>
<line x1="414.90" y1="51.50" x2="416.00" y2="51.50" stroke="#555" stroke-width="0.6" />
<line x1="414.90" y1="89.50" x2="416.00" y2="89.50" stroke="#555" stroke-width="0.6" />
<line x1="414.90" y1="127.50" x2="416.00" y2="127.50" stroke="#555" stroke-width="0.6" />
<line x1="416.00" y1="154.80" x2="416.00" y2="156.80" stroke="#555" stroke-width="0.8" />
<text x="416.00" y="162.80" font-size="6.5" text-anchor="middle" fill="#111" stroke="#111" stroke-width="0.25" font-weight="normal" >10</text>
<line x1="432.15" y1="154.80" x2="432.15" y2="156.80" stroke="#555" stroke-width="0.8" />
<text x="432.15" y="162.80" font-size="6.5" text-anchor="middle" fill="#111" stroke="#111" stroke-width="0.25" font-weight="normal" >9</text>
<line x1="448.30" y1="154.80" x2="448.30" y2="156.80" stroke="#555" stroke-width="0.8" />
<text x="448.30" y="162.80" font-size="6.5" text-anchor="middle" fill="#111" stroke="#111" stroke-width="0.25" font-weight="normal" >8</text>
<line x1="464.45" y1="154.80" x2="464.45" y2="156.80" stroke="#555" stroke-width="0.8" />
<text x="464.45" y="162.80" font-size="6.5" text-anchor="middle" fill="#111" stroke="#111" stroke-width="0.25" font-weight="normal" >7</text>
<line x1="480.60" y1="154.80" x2="480.60" y2="156.80" stroke="#555" stroke-width="0.8" />
<text x="480.60" y="162.80" font-size="6.5" text-anchor="middle" fill="#111" stroke="#111" stroke-width="0.25" font-weight="normal" >6</text>
<line x1="496.75" y1="154.80" x2="496.75" y2="156.80" stroke="#555" stroke-width="0.8" />
<text x="496.75" y="162.80" font-size="6.5" text-anchor="middle" fill="#111" stroke="#111" stroke-width="0.25" font-weight="normal" >5</text>
<line x1="512.90" y1="154.80" x2="512.90" y2="156.80" stroke="#555" stroke-width="0.8" />
<text x="512.90" y="162.80" font-size="6.5" text-anchor="middle" fill="#111" stroke="#111" stroke-width="0.25" font-weight="normal" >4</text>
<line x1="529.05" y1="154.80" x2="529.05" y2="156.80" stroke="#555" stroke-width="0.8" />
<text x="529.05" y="162.80" font-size="6.5" text-anchor="middle" fill="#111" stroke="#111" stroke-width="0.25" font-weight="normal" >3</text>
<line x1="545.20" y1="154.80" x2="545.20" y2="156.80" stroke="#555" stroke-width="0.8" />
<text x="545.20" y="162.80" font-size="6.5" text-anchor="middle" fill="#111" stroke="#111" stroke-width="0.25" font-weight="normal" >2</text>
<line x1="424.07" y1="154.80" x2="424.07" y2="155.90" stroke="#555" stroke-width="0.6" />
<line x1="440.23" y1="154.80" x2="440.23" y2="155.90" stroke="#555" stroke-width="0.6" />
<line x1="456.38" y1="154.80" x2="456.38" y2="155.90" stroke="#555" stroke-width="0.6" />
<line x1="472.53" y1="154.80" x2="472.53" y2="155.90" stroke="#555" stroke-width="0.6" />
<line x1="488.68" y1="154.80" x2="488.68" y2="155.90" stroke="#555" stroke-width="0.6" />
<line x1="504.83" y1="154.80" x2="504.83" y2="155.90" stroke="#555" stroke-width="0.6" />
<line x1="520.98" y1="154.80" x2="520.98" y2="155.90" stroke="#555" stroke-width="0.6" />
<line x1="537.12" y1="154.80" x2="537.12" y2="155.90" stroke="#555" stroke-width="0.6" />
<text x="480.50" y="173.00" font-size="8" text-anchor="middle" fill="#111" stroke="#111" stroke-width="0.3" font-weight="normal" >pH</text>
<text transform="translate(396.20,88.40) rotate(-90)" font-size="8.4" text-anchor="middle" fill="#111" stroke="#111" stroke-width="0.15" textLength="46.5" lengthAdjust="spacingAndGlyphs"><tspan>&#916;</tspan><tspan font-style="italic">I</tspan><tspan font-size="6.30" dy="1.6">ds</tspan><tspan dy="-1.6"> / </tspan><tspan font-style="italic">I</tspan><tspan font-size="6.30" dy="1.6">0</tspan><tspan dy="-1.6"> (%)</tspan></text>
<line x1="432.15" y1="32.50" x2="512.90" y2="101.13" stroke="#929292" stroke-width="0.6" stroke-dasharray="1.2,1"/>
<line x1="432.15" y1="32.50" x2="512.90" y2="134.64" stroke="#1fcc8a" stroke-width="0.7" stroke-dasharray="1.3,0.9"/>
<rect x="446.90" y="43.16" width="2.8" height="3.0" fill="#7d7d7d"/>
<rect x="463.05" y="59.12" width="2.8" height="3.0" fill="#7d7d7d"/>
<rect x="479.20" y="77.74" width="2.8" height="3.0" fill="#7d7d7d"/>
<rect x="495.35" y="88.00" width="2.8" height="3.0" fill="#7d7d7d"/>
<line x1="512.90" y1="95.20" x2="512.90" y2="99.00" stroke="#7d7d7d" stroke-width="0.5" />
<rect x="511.50" y="95.60" width="2.8" height="3.0" fill="#7d7d7d"/>
<line x1="529.05" y1="98.62" x2="529.05" y2="100.90" stroke="#7d7d7d" stroke-width="0.5" />
<rect x="527.65" y="98.26" width="2.8" height="3.0" fill="#7d7d7d"/>
<circle cx="432.15" cy="32.50" r="1.45" fill="#1fae79"/>
<circle cx="448.30" cy="53.02" r="1.45" fill="#1fae79"/>
<line x1="464.45" y1="72.10" x2="464.45" y2="81.98" stroke="#1fae79" stroke-width="0.5" />
<line x1="463.45" y1="72.10" x2="465.45" y2="72.10" stroke="#1fae79" stroke-width="0.5" />
<line x1="463.45" y1="81.98" x2="465.45" y2="81.98" stroke="#1fae79" stroke-width="0.5" />
<circle cx="464.45" cy="77.04" r="1.45" fill="#1fae79"/>
<line x1="480.60" y1="102.42" x2="480.60" y2="108.50" stroke="#1fae79" stroke-width="0.5" />
<line x1="479.60" y1="102.42" x2="481.60" y2="102.42" stroke="#1fae79" stroke-width="0.5" />
<line x1="479.60" y1="108.50" x2="481.60" y2="108.50" stroke="#1fae79" stroke-width="0.5" />
<circle cx="480.60" cy="105.46" r="1.45" fill="#1fae79"/>
<circle cx="496.75" cy="118.76" r="1.45" fill="#1fae79"/>
<line x1="512.90" y1="129.25" x2="512.90" y2="131.53" stroke="#1fae79" stroke-width="0.5" />
<line x1="511.90" y1="129.25" x2="513.90" y2="129.25" stroke="#1fae79" stroke-width="0.5" />
<line x1="511.90" y1="131.53" x2="513.90" y2="131.53" stroke="#1fae79" stroke-width="0.5" />
<circle cx="512.90" cy="130.39" r="1.45" fill="#1fae79"/>
<line x1="529.05" y1="136.24" x2="529.05" y2="137.76" stroke="#1fae79" stroke-width="0.5" />
<line x1="528.05" y1="136.24" x2="530.05" y2="136.24" stroke="#1fae79" stroke-width="0.5" />
<line x1="528.05" y1="137.76" x2="530.05" y2="137.76" stroke="#1fae79" stroke-width="0.5" />
<circle cx="529.05" cy="137.00" r="1.45" fill="#1fae79"/>
<text x="496.90" y="72.90" font-size="6.55" text-anchor="start" fill="#929292" stroke="#929292" stroke-width="0.25" font-weight="normal" >Slope: -1.806</text>
<text x="497.0" y="80.9" font-size="6.55" fill="#929292" stroke="#929292" stroke-width="0.2">R<tspan font-size="5" dx="0.4" dy="-2.6">2</tspan><tspan dy="2.6"> = 0.98</tspan></text>
<text x="463.20" y="91.80" font-size="6.3" text-anchor="end" fill="#22cc88" stroke="#22cc88" stroke-width="0.05" font-weight="bold" >Slope: -2.688</text>
<text x="463.2" y="100.0" font-size="6.3" fill="#22cc88" font-weight="bold" text-anchor="end">R<tspan font-size="5" dx="0.6" dy="-2.6">2</tspan><tspan dy="2.6"> = 0.98</tspan></text>
<line x1="420.00" y1="133.20" x2="431.50" y2="133.20" stroke="#1fae79" stroke-width="0.6" />
<circle cx="425.7" cy="133.2" r="1.3" fill="#1fae79"/>
<text x="436.30" y="135.90" font-size="7.5" text-anchor="start" fill="#111" stroke="#111" stroke-width="0.25" font-weight="normal" >PAni-gFET</text>
<line x1="420.00" y1="144.00" x2="431.50" y2="144.00" stroke="#7d7d7d" stroke-width="0.6" stroke-dasharray="1,0.8"/>
<rect x="424.50" y="142.80" width="2.4" height="2.4" fill="#7d7d7d"/>
<text x="436.30" y="146.70" font-size="7.5" text-anchor="start" fill="#111" stroke="#111" stroke-width="0.25" font-weight="normal" >Bare-gFET</text>
<rect x="42.80" y="210.10" width="221.80" height="129.40" fill="none" stroke="#555" stroke-width="0.9"/>
<line x1="43.80" y1="244.78" x2="263.60" y2="244.78" stroke="#a8a8a8" stroke-width="0.6" stroke-dasharray="1,1.2"/>
<line x1="43.80" y1="272.21" x2="263.60" y2="272.21" stroke="#a8a8a8" stroke-width="0.6" stroke-dasharray="1,1.2"/>
<line x1="43.80" y1="297.57" x2="263.60" y2="297.57" stroke="#a8a8a8" stroke-width="0.6" stroke-dasharray="1,1.2"/>
<line x1="43.80" y1="313.62" x2="263.60" y2="313.62" stroke="#a8a8a8" stroke-width="0.6" stroke-dasharray="1,1.2"/>
<line x1="40.80" y1="339.50" x2="42.80" y2="339.50" stroke="#555" stroke-width="0.8" />
<text x="39.40" y="342.50" font-size="6.5" text-anchor="end" fill="#111" stroke="#111" stroke-width="0.25" font-weight="normal" >-5</text>
<line x1="40.80" y1="313.62" x2="42.80" y2="313.62" stroke="#555" stroke-width="0.8" />
<text x="39.40" y="316.62" font-size="6.5" text-anchor="end" fill="#111" stroke="#111" stroke-width="0.25" font-weight="normal" >0</text>
<line x1="40.80" y1="287.74" x2="42.80" y2="287.74" stroke="#555" stroke-width="0.8" />
<text x="39.40" y="290.74" font-size="6.5" text-anchor="end" fill="#111" stroke="#111" stroke-width="0.25" font-weight="normal" >5</text>
<line x1="40.80" y1="261.86" x2="42.80" y2="261.86" stroke="#555" stroke-width="0.8" />
<text x="39.40" y="264.86" font-size="6.5" text-anchor="end" fill="#111" stroke="#111" stroke-width="0.25" font-weight="normal" >10</text>
<line x1="40.80" y1="235.98" x2="42.80" y2="235.98" stroke="#555" stroke-width="0.8" />
<text x="39.40" y="238.98" font-size="6.5" text-anchor="end" fill="#111" stroke="#111" stroke-width="0.25" font-weight="normal" >15</text>
<line x1="40.80" y1="210.10" x2="42.80" y2="210.10" stroke="#555" stroke-width="0.8" />
<text x="39.40" y="213.10" font-size="6.5" text-anchor="end" fill="#111" stroke="#111" stroke-width="0.25" font-weight="normal" >20</text>
<line x1="41.70" y1="326.56" x2="42.80" y2="326.56" stroke="#555" stroke-width="0.6" />
<line x1="41.70" y1="300.68" x2="42.80" y2="300.68" stroke="#555" stroke-width="0.6" />
<line x1="41.70" y1="274.80" x2="42.80" y2="274.80" stroke="#555" stroke-width="0.6" />
<line x1="41.70" y1="248.92" x2="42.80" y2="248.92" stroke="#555" stroke-width="0.6" />
<line x1="41.70" y1="223.04" x2="42.80" y2="223.04" stroke="#555" stroke-width="0.6" />
<line x1="42.80" y1="339.50" x2="42.80" y2="341.50" stroke="#555" stroke-width="0.8" />
<text x="42.80" y="349.80" font-size="6.5" text-anchor="middle" fill="#111" stroke="#111" stroke-width="0.25" font-weight="normal" >0</text>
<line x1="53.89" y1="339.50" x2="53.89" y2="340.60" stroke="#555" stroke-width="0.6" />
<line x1="64.98" y1="339.50" x2="64.98" y2="340.60" stroke="#555" stroke-width="0.6" />
<line x1="76.07" y1="339.50" x2="76.07" y2="341.50" stroke="#555" stroke-width="0.8" />
<text x="76.07" y="349.80" font-size="6.5" text-anchor="middle" fill="#111" stroke="#111" stroke-width="0.25" font-weight="normal" >300</text>
<line x1="87.16" y1="339.50" x2="87.16" y2="340.60" stroke="#555" stroke-width="0.6" />
<line x1="98.25" y1="339.50" x2="98.25" y2="340.60" stroke="#555" stroke-width="0.6" />
<line x1="109.34" y1="339.50" x2="109.34" y2="341.50" stroke="#555" stroke-width="0.8" />
<text x="109.34" y="349.80" font-size="6.5" text-anchor="middle" fill="#111" stroke="#111" stroke-width="0.25" font-weight="normal" >600</text>
<line x1="120.43" y1="339.50" x2="120.43" y2="340.60" stroke="#555" stroke-width="0.6" />
<line x1="131.52" y1="339.50" x2="131.52" y2="340.60" stroke="#555" stroke-width="0.6" />
<line x1="142.61" y1="339.50" x2="142.61" y2="341.50" stroke="#555" stroke-width="0.8" />
<text x="142.61" y="349.80" font-size="6.5" text-anchor="middle" fill="#111" stroke="#111" stroke-width="0.25" font-weight="normal" >900</text>
<line x1="153.70" y1="339.50" x2="153.70" y2="340.60" stroke="#555" stroke-width="0.6" />
<line x1="164.79" y1="339.50" x2="164.79" y2="340.60" stroke="#555" stroke-width="0.6" />
<line x1="175.88" y1="339.50" x2="175.88" y2="341.50" stroke="#555" stroke-width="0.8" />
<text x="175.88" y="349.80" font-size="6.5" text-anchor="middle" fill="#111" stroke="#111" stroke-width="0.25" font-weight="normal" >1200</text>
<line x1="186.97" y1="339.50" x2="186.97" y2="340.60" stroke="#555" stroke-width="0.6" />
<line x1="198.06" y1="339.50" x2="198.06" y2="340.60" stroke="#555" stroke-width="0.6" />
<line x1="209.15" y1="339.50" x2="209.15" y2="341.50" stroke="#555" stroke-width="0.8" />
<text x="209.15" y="349.80" font-size="6.5" text-anchor="middle" fill="#111" stroke="#111" stroke-width="0.25" font-weight="normal" >1500</text>
<line x1="220.24" y1="339.50" x2="220.24" y2="340.60" stroke="#555" stroke-width="0.6" />
<line x1="231.33" y1="339.50" x2="231.33" y2="340.60" stroke="#555" stroke-width="0.6" />
<line x1="242.42" y1="339.50" x2="242.42" y2="341.50" stroke="#555" stroke-width="0.8" />
<text x="242.42" y="349.80" font-size="6.5" text-anchor="middle" fill="#111" stroke="#111" stroke-width="0.25" font-weight="normal" >1800</text>
<line x1="253.51" y1="339.50" x2="253.51" y2="340.60" stroke="#555" stroke-width="0.6" />
<line x1="264.60" y1="339.50" x2="264.60" y2="340.60" stroke="#555" stroke-width="0.6" />
<text x="154.40" y="359.80" font-size="8" text-anchor="middle" fill="#111" stroke="#111" stroke-width="0.3" font-weight="normal" >Time&#160;&#160;(s)</text>
<text transform="translate(22.20,273.20) rotate(-90)" font-size="8.4" text-anchor="middle" fill="#111" stroke="#111" stroke-width="0.15" textLength="46.5" lengthAdjust="spacingAndGlyphs"><tspan>&#916;</tspan><tspan font-style="italic">I</tspan><tspan font-size="6.30" dy="1.6">ds</tspan><tspan dy="-1.6"> / </tspan><tspan font-style="italic">I</tspan><tspan font-size="6.30" dy="1.6">0</tspan><tspan dy="-1.6"> (%)</tspan></text>
<path d="M42.80,313.63 L43.02,314.01 L43.24,313.96 L43.47,314.14 L43.69,313.91 L43.91,314.20 L44.13,313.90 L44.35,314.03 L44.57,314.23 L44.80,314.11 L45.02,314.04 L45.24,313.82 L45.46,314.11 L45.68,314.18 L45.91,313.79 L46.13,313.84 L46.35,313.91 L46.57,314.15 L46.79,314.20 L47.01,314.16 L47.24,314.26 L47.46,314.27 L47.68,314.03 L47.90,314.08 L48.12,314.00 L48.34,314.11 L48.57,314.29 L48.79,313.94 L49.01,313.95 L49.23,314.01 L49.45,314.01 L49.68,313.94 L49.90,313.78 L50.12,313.84 L50.34,313.92 L50.56,314.09 L50.78,314.13 L51.01,314.08 L51.23,313.79 L51.45,314.09 L51.67,314.09 L51.89,314.08 L52.12,314.22 L52.34,313.78 L52.56,314.29 L52.78,313.98 L52.89,313.81 L53.11,306.92 L53.34,303.01 L53.56,301.20 L53.78,300.27 L54.00,299.76 L54.22,299.52 L54.44,298.99 L54.67,298.93 L54.89,298.81 L55.11,299.21 L55.33,298.85 L55.55,299.02 L55.78,298.83 L56.00,298.86 L56.22,298.96 L56.44,298.61 L56.66,299.10 L56.88,298.69 L57.11,298.63 L57.33,298.79 L57.55,298.74 L57.77,298.52 L57.99,298.90 L58.22,298.68 L58.44,298.61 L58.66,298.79 L58.88,298.61 L59.10,298.77 L59.32,298.69 L59.55,298.64 L59.77,298.60 L59.99,298.77 L60.21,298.61 L60.43,298.65 L60.65,298.81 L60.88,298.60 L61.10,298.77 L61.32,298.43 L61.54,298.65 L61.76,298.52 L61.99,298.62 L62.21,298.64 L62.43,298.77 L62.65,298.80 L62.87,298.39 L63.09,298.60 L63.21,298.60 L63.43,288.48 L63.65,283.02 L63.87,280.46 L64.09,278.92 L64.31,277.66 L64.54,277.27 L64.76,276.78 L64.98,276.39 L65.20,276.11 L65.42,275.92 L65.65,276.16 L65.87,275.81 L66.09,275.41 L66.31,275.27 L66.53,275.48 L66.75,275.33 L66.98,275.15 L67.20,275.10 L67.42,274.85 L67.64,274.51 L67.86,274.55 L68.09,274.48 L68.31,274.57 L68.53,274.32 L68.75,273.92 L68.97,274.00 L69.19,274.04 L69.42,273.95 L69.64,273.72 L69.86,273.67 L70.08,273.92 L70.30,273.58 L70.53,273.69 L70.75,273.55 L70.97,273.64 L71.19,273.53 L71.41,273.49 L71.63,273.43 L71.86,273.57 L72.08,273.43 L72.30,273.20 L72.52,273.43 L72.74,273.33 L72.96,273.02 L73.19,273.22 L73.41,273.16 L73.63,273.18 L73.85,272.84 L74.07,273.20 L74.07,272.92 L74.30,261.18 L74.52,255.43 L74.74,252.07 L74.96,250.09 L75.18,249.16 L75.40,248.66 L75.63,248.41 L75.85,247.89 L76.07,247.68 L76.29,247.29 L76.51,247.32 L76.74,247.09 L76.96,246.80 L77.18,246.56 L77.40,246.66 L77.62,246.50 L77.84,246.27 L78.07,245.97 L78.29,246.23 L78.51,245.72 L78.73,245.75 L78.95,245.82 L79.18,245.57 L79.40,245.66 L79.62,245.70 L79.84,245.27 L80.06,245.38 L80.28,245.23 L80.51,245.18 L80.73,244.90 L80.95,244.91 L81.17,245.23 L81.39,244.88 L81.61,244.89 L81.84,244.83 L82.06,244.59 L82.28,244.76 L82.50,244.69 L82.72,244.43 L82.95,244.62 L83.17,244.55 L83.39,244.51 L83.61,244.31 L83.83,244.36 L84.05,244.29 L84.28,244.43 L84.50,244.59 L84.72,244.23 L84.94,244.27 L85.16,244.13 L85.27,244.12 L85.50,256.51 L85.72,262.75 L85.94,266.14 L86.16,267.54 L86.38,268.92 L86.61,269.52 L86.83,269.55 L87.05,269.91 L87.27,270.38 L87.49,270.22 L87.71,270.36 L87.94,270.61 L88.16,270.95 L88.38,270.74 L88.60,270.99 L88.82,271.01 L89.05,270.89 L89.27,271.08 L89.49,271.14 L89.71,271.60 L89.93,271.58 L90.15,271.56 L90.38,271.90 L90.60,271.46 L90.82,271.90 L91.04,271.97 L91.26,272.00 L91.49,272.09 L91.71,271.83 L91.93,272.03 L92.15,272.11 L92.37,272.20 L92.59,272.43 L92.82,272.35 L93.04,272.09 L93.26,272.17 L93.48,272.17 L93.70,272.52 L93.92,272.58 L94.15,272.69 L94.37,272.47 L94.59,272.58 L94.81,272.56 L95.03,272.57 L95.26,272.55 L95.48,272.68 L95.70,272.48 L95.92,272.81 L96.14,272.46 L96.36,272.67 L96.59,272.94 L96.81,272.83 L97.03,272.73 L97.25,272.81 L97.47,272.74 L97.70,272.88 L97.92,272.92 L98.14,272.66 L98.36,272.94 L98.47,272.72 L98.69,283.61 L98.92,289.41 L99.14,292.46 L99.36,293.81 L99.58,294.94 L99.80,295.22 L100.02,295.96 L100.25,295.98 L100.47,296.03 L100.69,296.47 L100.91,296.15 L101.13,296.66 L101.36,296.48 L101.58,296.78 L101.80,296.48 L102.02,296.74 L102.24,296.68 L102.46,296.91 L102.69,296.88 L102.91,296.94 L103.13,297.20 L103.35,297.30 L103.57,297.02 L103.79,297.43 L104.02,297.08 L104.24,297.49 L104.46,297.59 L104.68,297.64 L104.90,297.32 L105.13,297.27 L105.35,297.58 L105.57,297.49 L105.79,297.73 L106.01,297.42 L106.23,297.57 L106.46,297.87 L106.68,297.94 L106.90,297.64 L107.12,298.00 L107.34,297.61 L107.57,297.91 L107.79,297.97 L108.01,297.80 L108.23,297.96 L108.45,297.85 L108.67,298.08 L108.90,297.70 L109.12,298.02 L109.34,297.77 L109.56,298.14 L109.78,297.82 L110.01,297.74 L110.23,298.05 L110.45,298.25 L110.67,298.08 L110.89,297.95 L111.11,298.18 L111.34,298.02 L111.56,298.26 L111.78,298.08 L112.00,297.95 L112.22,298.11 L112.45,297.99 L112.67,298.29 L112.67,297.92 L112.89,305.67 L113.11,309.07 L113.33,311.03 L113.55,312.11 L113.78,312.90 L114.00,313.34 L114.22,313.50 L114.44,313.41 L114.66,313.63 L114.88,313.47 L115.11,313.96 L115.33,313.81 L115.55,313.66 L115.77,313.83 L115.99,313.90 L116.22,314.17 L116.44,314.18 L116.66,314.14 L116.88,313.85 L117.10,313.91 L117.32,314.26 L117.55,313.92 L117.77,314.41 L117.99,314.14 L118.21,313.97 L118.43,314.32 L118.66,314.03 L118.88,314.19 L119.10,314.53 L119.32,314.40 L119.54,314.35 L119.76,314.48 L119.99,314.23 L120.21,314.54 L120.43,314.24 L120.65,314.51 L120.87,314.64 L121.10,314.40 L121.32,314.65 L121.54,314.42 L121.76,314.31 L121.98,314.42 L122.20,314.50 L122.43,314.73 L122.65,314.49 L122.87,314.71 L123.09,314.43 L123.31,314.71 L123.54,314.48 L123.76,314.61 L123.98,314.60 L124.20,314.46 L124.42,314.72 L124.53,314.72 L124.76,306.32 L124.98,302.50 L125.20,300.10 L125.42,298.97 L125.64,298.58 L125.86,298.43 L126.09,298.28 L126.31,297.76 L126.53,298.09 L126.75,297.84 L126.97,297.78 L127.19,297.97 L127.42,297.76 L127.64,297.89 L127.86,297.67 L128.08,297.67 L128.30,297.72 L128.53,297.78 L128.75,297.66 L128.97,297.74 L129.19,297.77 L129.41,297.69 L129.63,297.35 L129.86,297.53 L130.08,297.31 L130.30,297.75 L130.52,297.26 L130.74,297.48 L130.97,297.31 L131.19,297.42 L131.41,297.34 L131.63,297.57 L131.85,297.29 L132.07,297.59 L132.30,297.53 L132.52,297.64 L132.74,297.44 L132.96,297.37 L133.18,297.48 L133.41,297.17 L133.63,297.58 L133.85,297.32 L134.07,297.49 L134.29,297.30 L134.51,297.19 L134.74,297.23 L134.96,297.56 L135.18,297.46 L135.40,297.27 L135.62,297.07 L135.73,297.55 L135.96,287.19 L136.18,281.88 L136.40,279.01 L136.62,277.71 L136.84,276.59 L137.06,276.23 L137.29,275.64 L137.51,275.84 L137.73,275.15 L137.95,275.25 L138.17,275.09 L138.40,275.11 L138.62,274.89 L138.84,274.51 L139.06,274.42 L139.28,274.58 L139.50,274.37 L139.73,274.37 L139.95,274.24 L140.17,274.14 L140.39,273.99 L140.61,273.57 L140.84,273.48 L141.06,273.51 L141.28,273.60 L141.50,273.52 L141.72,273.31 L141.94,273.18 L142.17,273.20 L142.39,273.21 L142.61,273.38 L142.83,273.11 L143.05,272.94 L143.28,272.93 L143.50,273.24 L143.72,272.88 L143.94,273.03 L144.16,273.09 L144.38,272.63 L144.61,272.75 L144.83,272.68 L145.05,272.97 L145.27,272.58 L145.49,272.49 L145.72,272.48 L145.94,272.54 L146.16,272.47 L146.38,272.46 L146.60,272.55 L146.82,272.61 L147.05,272.39 L147.27,272.39 L147.49,272.33 L147.71,272.61 L147.93,272.25 L148.16,272.45 L148.16,272.24 L148.38,261.41 L148.60,255.00 L148.82,251.85 L149.04,250.30 L149.26,248.89 L149.49,248.48 L149.71,247.98 L149.93,247.45 L150.15,247.22 L150.37,246.79 L150.59,246.30 L150.82,246.16 L151.04,245.91 L151.26,245.85 L151.48,245.43 L151.70,245.22 L151.93,245.09 L152.15,244.77 L152.37,244.66 L152.59,244.71 L152.81,244.72 L153.03,244.27 L153.26,244.03 L153.48,244.16 L153.70,243.89 L153.92,243.65 L154.14,243.55 L154.37,243.85 L154.59,243.49 L154.81,243.64 L155.03,243.49 L155.25,243.04 L155.47,243.16 L155.70,242.98 L155.92,242.98 L156.14,242.96 L156.36,242.96 L156.58,242.82 L156.81,242.50 L157.03,242.55 L157.25,242.67 L157.47,242.72 L157.69,242.57 L157.69,242.35 L157.91,255.28 L158.14,261.82 L158.36,265.25 L158.58,267.49 L158.80,268.24 L159.02,269.18 L159.25,269.16 L159.47,269.75 L159.69,269.90 L159.91,269.71 L160.13,270.16 L160.35,270.36 L160.58,270.13 L160.80,270.38 L161.02,270.34 L161.24,270.69 L161.46,270.73 L161.68,270.58 L161.91,270.90 L162.13,270.73 L162.35,271.22 L162.57,270.96 L162.79,271.37 L163.02,271.25 L163.24,271.58 L163.46,271.55 L163.68,271.21 L163.90,271.51 L164.12,271.38 L164.35,271.72 L164.57,271.71 L164.79,271.88 L165.01,271.69 L165.23,271.57 L165.46,271.79 L165.68,271.89 L165.90,271.64 L166.12,271.69 L166.34,271.84 L166.56,272.18 L166.79,271.92 L167.01,272.04 L167.23,271.80 L167.45,272.13 L167.67,272.00 L167.90,272.04 L168.12,272.19 L168.34,272.13 L168.56,272.07 L168.78,271.97 L169.00,272.20 L169.23,272.28 L169.45,271.98 L169.67,272.47 L169.89,272.08 L170.11,272.17 L170.33,272.25 L170.56,272.32 L170.78,272.17 L171.00,272.11 L171.00,272.20 L171.22,283.04 L171.44,289.07 L171.67,291.91 L171.89,293.63 L172.11,294.11 L172.33,294.68 L172.55,295.41 L172.77,295.42 L173.00,295.62 L173.22,296.05 L173.44,296.00 L173.66,295.94 L173.88,296.11 L174.11,296.41 L174.33,296.26 L174.55,296.60 L174.77,296.56 L174.99,296.71 L175.21,296.50 L175.44,296.75 L175.66,296.74 L175.88,296.88 L176.10,297.10 L176.32,296.86 L176.55,297.06 L176.77,297.12 L176.99,297.39 L177.21,297.50 L177.43,297.34 L177.65,297.26 L177.88,297.32 L178.10,297.59 L178.32,297.74 L178.54,297.59 L178.76,297.44 L178.99,297.84 L179.21,297.58 L179.43,297.90 L179.65,297.86 L179.87,298.02 L180.09,297.92 L180.32,297.90 L180.54,297.63 L180.76,297.65 L180.98,298.08 L181.20,298.03 L181.43,297.73 L181.65,298.13 L181.87,298.09 L182.09,298.04 L182.31,298.23 L182.53,298.17 L182.76,298.11 L182.98,298.13 L183.20,297.85 L183.31,298.21 L183.53,305.85 L183.75,309.41 L183.98,311.69 L184.20,312.55 L184.42,313.22 L184.64,313.46 L184.86,313.87 L185.08,314.06 L185.31,313.82 L185.53,314.02 L185.75,314.01 L185.97,313.99 L186.19,313.97 L186.42,314.25 L186.64,314.23 L186.86,313.97 L187.08,314.19 L187.30,314.33 L187.52,314.18 L187.75,314.39 L187.97,314.14 L188.19,314.54 L188.41,314.15 L188.63,314.30 L188.86,314.42 L189.08,314.13 L189.30,314.50 L189.52,314.52 L189.74,314.62 L189.96,314.39 L190.19,314.29 L190.41,314.34 L190.63,314.49 L190.85,314.29 L191.07,314.66 L191.30,314.57 L191.52,314.40 L191.74,314.25 L191.96,314.43 L192.18,314.40 L192.40,314.37 L192.63,314.57 L192.85,314.29 L193.07,314.40 L193.29,314.61 L193.51,314.59 L193.73,314.38 L193.96,314.62 L194.18,314.71 L194.18,314.36 L194.40,306.52 L194.62,302.38 L194.84,300.15 L195.07,298.90 L195.29,298.70 L195.51,298.26 L195.73,298.21 L195.95,297.92 L196.17,297.79 L196.40,297.55 L196.62,297.60 L196.84,297.61 L197.06,297.66 L197.28,297.54 L197.51,297.67 L197.73,297.34 L197.95,297.35 L198.17,297.29 L198.39,297.63 L198.61,297.33 L198.84,297.27 L199.06,297.38 L199.28,297.15 L199.50,297.13 L199.72,297.20 L199.95,297.14 L200.17,297.21 L200.39,297.08 L200.61,297.45 L200.83,297.14 L201.05,297.13 L201.28,297.16 L201.50,297.32 L201.72,297.42 L201.94,297.13 L202.16,297.01 L202.39,297.28 L202.61,297.30 L202.83,297.29 L203.05,297.35 L203.27,297.04 L203.49,296.88 L203.72,296.96 L203.94,297.18 L204.16,297.00 L204.38,297.32 L204.60,296.91 L204.82,297.17 L205.05,297.34 L205.27,297.01 L205.49,297.25 L205.71,297.18 L205.93,297.29 L206.04,297.08 L206.27,287.11 L206.49,281.79 L206.71,279.43 L206.93,277.52 L207.15,277.04 L207.38,276.46 L207.60,275.91 L207.82,275.81 L208.04,275.62 L208.26,275.34 L208.48,275.37 L208.71,274.94 L208.93,275.12 L209.15,274.67 L209.37,274.58 L209.59,274.61 L209.82,274.78 L210.04,274.30 L210.26,274.59 L210.48,274.26 L210.70,274.22 L210.92,274.33 L211.15,273.96 L211.37,273.85 L211.59,273.85 L211.81,273.88 L212.03,273.77 L212.26,273.67 L212.48,273.80 L212.70,273.42 L212.92,273.30 L213.14,273.35 L213.36,273.23 L213.59,273.51 L213.81,273.13 L214.03,273.57 L214.25,273.32 L214.47,273.46 L214.69,273.27 L214.92,273.12 L215.14,273.07 L215.36,273.18 L215.58,273.21 L215.80,273.26 L216.03,273.13 L216.25,273.16 L216.47,273.19 L216.69,272.89 L216.91,272.98 L216.91,273.02 L217.13,261.24 L217.36,254.72 L217.58,251.64 L217.80,249.76 L218.02,248.54 L218.24,247.80 L218.47,247.21 L218.69,246.99 L218.91,246.62 L219.13,246.40 L219.35,246.29 L219.57,246.10 L219.80,246.26 L220.02,246.02 L220.24,245.96 L220.46,245.37 L220.68,245.29 L220.91,245.20 L221.13,245.26 L221.35,245.09 L221.57,245.07 L221.79,244.72 L222.01,244.42 L222.24,244.68 L222.46,244.72 L222.68,244.56 L222.90,244.38 L223.12,244.01 L223.35,243.98 L223.57,244.09 L223.79,244.20 L224.01,244.13 L224.23,244.04 L224.45,243.65 L224.68,243.75 L224.90,243.43 L225.12,243.42 L225.34,243.43 L225.56,243.54 L225.79,243.32 L225.79,243.68 L226.01,255.98 L226.23,262.15 L226.45,265.56 L226.67,267.52 L226.89,268.51 L227.12,269.22 L227.34,269.14 L227.56,269.50 L227.78,269.58 L228.00,269.72 L228.22,270.14 L228.45,270.12 L228.67,270.42 L228.89,270.31 L229.11,270.39 L229.33,270.86 L229.56,271.02 L229.78,271.00 L230.00,270.89 L230.22,271.08 L230.44,271.35 L230.66,270.99 L230.89,271.09 L231.11,271.32 L231.33,271.60 L231.55,271.22 L231.77,271.46 L232.00,271.75 L232.22,271.67 L232.44,271.57 L232.66,271.48 L232.88,271.73 L233.10,271.69 L233.33,271.96 L233.55,271.97 L233.77,271.67 L233.99,271.97 L234.21,272.15 L234.44,271.93 L234.66,272.20 L234.88,272.19 L235.10,272.08 L235.32,272.04 L235.54,272.04 L235.77,272.03 L235.99,272.19 L236.21,272.40 L236.43,272.08 L236.65,272.44 L236.88,272.25 L237.10,272.30 L237.32,272.18 L237.54,272.17 L237.76,272.43 L237.98,272.23 L238.09,272.22 L238.32,283.39 L238.54,289.30 L238.76,291.91 L238.98,293.68 L239.20,294.83 L239.43,295.25 L239.65,295.17 L239.87,295.77 L240.09,295.84 L240.31,295.76 L240.53,295.85 L240.76,296.04 L240.98,296.07 L241.20,296.51 L241.42,296.56 L241.64,296.17 L241.87,296.33 L242.09,296.79 L242.31,296.85 L242.53,296.81 L242.75,296.50 L242.97,296.92 L243.20,296.74 L243.42,296.65 L243.64,296.85 L243.86,296.75 L244.08,297.13 L244.31,297.22 L244.53,297.33 L244.75,296.98 L244.97,297.36 L245.19,296.94 L245.41,297.10 L245.64,297.40 L245.86,297.11 L246.08,297.47 L246.30,297.31 L246.52,297.55 L246.75,297.22 L246.97,297.18 L247.19,297.19 L247.41,297.68 L247.63,297.26 L247.85,297.43 L248.08,297.31 L248.30,297.49 L248.52,297.45 L248.74,297.47 L248.96,297.38 L249.18,297.77 L249.41,297.79 L249.63,297.55 L249.63,297.68 L249.85,305.23 L250.07,309.36 L250.29,311.02 L250.52,312.46 L250.74,312.61 L250.96,312.92 L251.18,313.28 L251.40,313.56 L251.62,313.36 L251.85,313.64 L252.07,313.56 L252.29,313.76 L252.51,313.34 L252.73,313.59 L252.96,313.72 L253.18,313.88 L253.40,313.57 L253.62,313.53 L253.84,313.55 L254.06,313.96 L254.29,313.84 L254.51,313.89 L254.73,313.67 L254.95,314.00 L255.17,313.78 L255.40,313.60 L255.62,313.72 L255.84,314.13 L256.06,314.11 L256.28,314.10 L256.50,313.81 L256.73,313.87 L256.95,313.92 L257.17,313.96 L257.39,314.00 L257.61,313.90 L257.84,313.89 L258.06,313.76 L258.28,313.86 L258.50,313.84 L258.72,313.78 L258.94,313.83 L259.17,313.90 L259.39,314.26 L259.61,313.93 L259.83,313.85 L260.05,314.07" fill="none" stroke="#22c48d" stroke-width="0.65" stroke-linejoin="round" />
<path d="M42.80,313.42 L43.02,313.85 L43.24,313.49 L43.47,313.77 L43.69,313.64 L43.91,313.88 L44.13,313.86 L44.35,313.83 L44.57,313.85 L44.80,313.97 L45.02,313.79 L45.24,313.51 L45.46,313.68 L45.68,313.53 L45.91,313.62 L46.13,313.58 L46.35,313.50 L46.57,313.63 L46.79,313.87 L47.01,313.89 L47.24,313.80 L47.46,314.00 L47.68,313.90 L47.90,313.56 L48.12,313.54 L48.34,313.85 L48.57,313.62 L48.79,313.61 L49.01,313.55 L49.23,313.60 L49.45,313.74 L49.68,313.96 L49.90,313.59 L50.12,313.85 L50.34,313.69 L50.56,313.83 L50.78,313.74 L51.01,313.52 L51.23,313.93 L51.45,313.74 L51.67,313.68 L51.89,313.74 L52.12,313.53 L52.34,313.80 L52.56,313.54 L52.78,313.66 L52.89,313.51 L53.11,306.67 L53.34,302.84 L53.56,300.86 L53.78,299.53 L54.00,299.46 L54.22,299.05 L54.44,298.66 L54.67,298.43 L54.89,298.80 L55.11,298.63 L55.33,298.47 L55.55,298.44 L55.78,298.40 L56.00,298.38 L56.22,298.62 L56.44,298.60 L56.66,298.71 L56.88,298.35 L57.11,298.59 L57.33,298.55 L57.55,298.18 L57.77,298.33 L57.99,298.35 L58.22,298.31 L58.44,298.33 L58.66,298.27 L58.88,298.46 L59.10,298.58 L59.32,298.57 L59.55,298.59 L59.77,298.40 L59.99,298.51 L60.21,298.52 L60.43,298.32 L60.65,298.07 L60.88,298.21 L61.10,298.42 L61.32,298.16 L61.54,298.46 L61.76,298.49 L61.99,298.38 L62.21,298.33 L62.43,298.18 L62.65,298.30 L62.87,298.15 L63.09,298.47 L63.21,298.04 L63.43,288.07 L63.65,282.42 L63.87,279.95 L64.09,277.94 L64.31,277.33 L64.54,276.43 L64.76,276.07 L64.98,275.84 L65.20,275.81 L65.42,275.74 L65.65,275.47 L65.87,274.93 L66.09,275.16 L66.31,274.75 L66.53,274.65 L66.75,274.48 L66.98,274.60 L67.20,274.50 L67.42,274.41 L67.64,273.84 L67.86,274.05 L68.09,273.81 L68.31,273.76 L68.53,273.85 L68.75,273.85 L68.97,273.79 L69.19,273.28 L69.42,273.58 L69.64,273.08 L69.86,273.33 L70.08,273.08 L70.30,273.32 L70.53,272.93 L70.75,273.15 L70.97,273.04 L71.19,272.91 L71.41,273.08 L71.63,272.96 L71.86,272.64 L72.08,272.86 L72.30,272.77 L72.52,272.54 L72.74,272.78 L72.96,272.77 L73.19,272.72 L73.41,272.61 L73.63,272.59 L73.85,272.42 L74.07,272.48 L74.07,272.28 L74.30,260.77 L74.52,254.21 L74.74,250.81 L74.96,249.32 L75.18,248.40 L75.40,247.57 L75.63,247.33 L75.85,246.86 L76.07,246.50 L76.29,246.62 L76.51,246.44 L76.74,246.09 L76.96,246.10 L77.18,245.93 L77.40,245.70 L77.62,245.74 L77.84,245.65 L78.07,245.38 L78.29,245.22 L78.51,244.88 L78.73,244.98 L78.95,245.14 L79.18,244.98 L79.40,244.62 L79.62,244.64 L79.84,244.40 L80.06,244.29 L80.28,244.27 L80.51,244.60 L80.73,244.10 L80.95,244.26 L81.17,244.35 L81.39,244.34 L81.61,243.93 L81.84,244.22 L82.06,244.24 L82.28,244.10 L82.50,243.72 L82.72,243.92 L82.95,243.74 L83.17,244.05 L83.39,243.82 L83.61,243.86 L83.83,243.88 L84.05,243.62 L84.28,243.75 L84.50,243.85 L84.72,243.37 L84.94,243.61 L85.16,243.74 L85.27,243.82 L85.50,255.56 L85.72,261.93 L85.94,265.51 L86.16,267.08 L86.38,267.96 L86.61,268.67 L86.83,269.21 L87.05,269.35 L87.27,269.51 L87.49,269.66 L87.71,270.08 L87.94,269.88 L88.16,269.94 L88.38,270.17 L88.60,270.22 L88.82,270.59 L89.05,270.41 L89.27,270.89 L89.49,270.96 L89.71,270.86 L89.93,270.78 L90.15,271.29 L90.38,271.30 L90.60,271.47 L90.82,271.33 L91.04,271.55 L91.26,271.58 L91.49,271.36 L91.71,271.50 L91.93,271.37 L92.15,271.70 L92.37,271.61 L92.59,272.00 L92.82,271.56 L93.04,271.97 L93.26,271.88 L93.48,271.90 L93.70,271.72 L93.92,271.99 L94.15,271.76 L94.37,271.98 L94.59,272.22 L94.81,271.93 L95.03,272.29 L95.26,271.90 L95.48,272.20 L95.70,272.35 L95.92,271.99 L96.14,272.34 L96.36,272.32 L96.59,272.37 L96.81,272.22 L97.03,272.57 L97.25,272.41 L97.47,272.53 L97.70,272.20 L97.92,272.64 L98.14,272.34 L98.36,272.54 L98.47,272.44 L98.69,283.20 L98.92,288.76 L99.14,292.02 L99.36,293.56 L99.58,294.50 L99.80,294.59 L100.02,295.33 L100.25,295.56 L100.47,295.53 L100.69,295.64 L100.91,295.60 L101.13,296.14 L101.36,296.15 L101.58,296.27 L101.80,296.15 L102.02,296.30 L102.24,296.40 L102.46,296.23 L102.69,296.42 L102.91,296.38 L103.13,296.40 L103.35,296.81 L103.57,296.52 L103.79,296.86 L104.02,297.09 L104.24,296.70 L104.46,297.16 L104.68,297.25 L104.90,297.16 L105.13,297.20 L105.35,296.89 L105.57,296.97 L105.79,297.24 L106.01,297.22 L106.23,297.09 L106.46,297.14 L106.68,297.25 L106.90,297.35 L107.12,297.58 L107.34,297.54 L107.57,297.35 L107.79,297.41 L108.01,297.32 L108.23,297.29 L108.45,297.27 L108.67,297.69 L108.90,297.77 L109.12,297.36 L109.34,297.54 L109.56,297.76 L109.78,297.51 L110.01,297.75 L110.23,297.77 L110.45,297.72 L110.67,297.65 L110.89,297.58 L111.11,297.90 L111.34,297.57 L111.56,297.64 L111.78,297.73 L112.00,297.63 L112.22,297.57 L112.45,297.99 L112.67,297.76 L112.67,297.65 L112.89,305.02 L113.11,308.88 L113.33,311.12 L113.55,311.77 L113.78,312.43 L114.00,313.04 L114.22,313.13 L114.44,312.98 L114.66,313.46 L114.88,313.43 L115.11,313.20 L115.33,313.28 L115.55,313.67 L115.77,313.45 L115.99,313.69 L116.22,313.57 L116.44,313.55 L116.66,313.92 L116.88,313.90 L117.10,313.93 L117.32,313.94 L117.55,314.08 L117.77,314.06 L117.99,313.94 L118.21,313.96 L118.43,314.16 L118.66,313.92 L118.88,313.76 L119.10,313.96 L119.32,314.10 L119.54,313.93 L119.76,314.09 L119.99,314.24 L120.21,314.10 L120.43,314.35 L120.65,314.03 L120.87,314.31 L121.10,314.21 L121.32,313.92 L121.54,314.03 L121.76,314.00 L121.98,314.11 L122.20,314.13 L122.43,314.10 L122.65,313.97 L122.87,314.38 L123.09,314.09 L123.31,314.34 L123.54,314.37 L123.76,314.09 L123.98,314.21 L124.20,314.08 L124.42,314.08 L124.53,314.23 L124.76,306.36 L124.98,302.29 L125.20,299.87 L125.42,298.65 L125.64,298.29 L125.86,298.08 L126.09,297.93 L126.31,297.74 L126.53,297.40 L126.75,297.71 L126.97,297.56 L127.19,297.51 L127.42,297.25 L127.64,297.09 L127.86,297.56 L128.08,297.49 L128.30,297.05 L128.53,297.01 L128.75,297.42 L128.97,297.31 L129.19,297.20 L129.41,297.28 L129.63,297.22 L129.86,297.17 L130.08,297.28 L130.30,297.37 L130.52,297.34 L130.74,297.29 L130.97,297.32 L131.19,297.03 L131.41,296.98 L131.63,297.20 L131.85,296.92 L132.07,296.94 L132.30,297.13 L132.52,297.05 L132.74,297.20 L132.96,296.81 L133.18,296.99 L133.41,297.25 L133.63,297.19 L133.85,296.91 L134.07,297.06 L134.29,296.88 L134.51,297.13 L134.74,296.83 L134.96,296.83 L135.18,297.19 L135.40,296.93 L135.62,297.13 L135.73,296.86 L135.96,286.51 L136.18,281.13 L136.40,278.56 L136.62,277.08 L136.84,275.90 L137.06,275.42 L137.29,275.29 L137.51,275.01 L137.73,274.61 L137.95,274.69 L138.17,274.26 L138.40,274.33 L138.62,274.20 L138.84,273.99 L139.06,273.82 L139.28,273.62 L139.50,273.88 L139.73,273.42 L139.95,273.59 L140.17,273.47 L140.39,273.21 L140.61,273.10 L140.84,273.07 L141.06,272.85 L141.28,273.14 L141.50,273.02 L141.72,272.78 L141.94,272.93 L142.17,272.93 L142.39,272.84 L142.61,272.51 L142.83,272.43 L143.05,272.44 L143.28,272.27 L143.50,272.32 L143.72,272.53 L143.94,272.49 L144.16,272.24 L144.38,272.55 L144.61,272.24 L144.83,272.48 L145.05,272.47 L145.27,272.20 L145.49,272.36 L145.72,271.93 L145.94,271.94 L146.16,272.13 L146.38,272.24 L146.60,272.26 L146.82,272.04 L147.05,272.02 L147.27,272.08 L147.49,271.88 L147.71,271.96 L147.93,271.82 L148.16,272.15 L148.16,272.17 L148.38,260.13 L148.60,253.82 L148.82,250.57 L149.04,248.48 L149.26,247.61 L149.49,246.86 L149.71,246.29 L149.93,245.80 L150.15,245.47 L150.37,245.41 L150.59,245.13 L150.82,244.66 L151.04,244.45 L151.26,244.42 L151.48,244.50 L151.70,244.14 L151.93,243.88 L152.15,243.91 L152.37,243.88 L152.59,243.25 L152.81,243.15 L153.03,243.42 L153.26,243.12 L153.48,242.93 L153.70,242.98 L153.92,242.99 L154.14,242.54 L154.37,242.43 L154.59,242.51 L154.81,242.61 L155.03,242.37 L155.25,242.44 L155.47,241.92 L155.70,242.32 L155.92,242.13 L156.14,241.82 L156.36,242.08 L156.58,242.04 L156.81,242.00 L157.03,241.90 L157.25,241.66 L157.47,241.46 L157.69,241.75 L157.69,241.75 L157.91,254.27 L158.14,261.12 L158.36,264.69 L158.58,266.71 L158.80,267.71 L159.02,267.95 L159.25,268.80 L159.47,269.00 L159.69,268.97 L159.91,269.06 L160.13,269.21 L160.35,269.57 L160.58,269.45 L160.80,269.76 L161.02,270.03 L161.24,270.05 L161.46,270.02 L161.68,270.11 L161.91,270.52 L162.13,270.57 L162.35,270.26 L162.57,270.78 L162.79,270.49 L163.02,270.81 L163.24,270.92 L163.46,270.99 L163.68,270.94 L163.90,270.73 L164.12,271.22 L164.35,270.91 L164.57,271.23 L164.79,271.36 L165.01,271.11 L165.23,271.36 L165.46,271.48 L165.68,271.40 L165.90,271.23 L166.12,271.25 L166.34,271.43 L166.56,271.75 L166.79,271.39 L167.01,271.50 L167.23,271.38 L167.45,271.38 L167.67,271.73 L167.90,271.48 L168.12,271.52 L168.34,271.83 L168.56,271.80 L168.78,271.81 L169.00,271.84 L169.23,271.85 L169.45,272.00 L169.67,271.96 L169.89,271.62 L170.11,271.89 L170.33,271.79 L170.56,271.67 L170.78,271.76 L171.00,272.03 L171.00,271.68 L171.22,282.41 L171.44,287.88 L171.67,290.98 L171.89,292.57 L172.11,293.45 L172.33,294.29 L172.55,294.45 L172.77,294.85 L173.00,294.82 L173.22,295.35 L173.44,295.29 L173.66,295.54 L173.88,295.42 L174.11,295.78 L174.33,295.64 L174.55,295.75 L174.77,295.83 L174.99,296.32 L175.21,296.00 L175.44,296.18 L175.66,296.30 L175.88,296.40 L176.10,296.79 L176.32,296.43 L176.55,296.67 L176.77,296.78 L176.99,296.90 L177.21,296.73 L177.43,296.79 L177.65,296.80 L177.88,297.19 L178.10,297.17 L178.32,297.27 L178.54,297.39 L178.76,297.31 L178.99,297.51 L179.21,297.15 L179.43,297.48 L179.65,297.59 L179.87,297.63 L180.09,297.31 L180.32,297.62 L180.54,297.51 L180.76,297.57 L180.98,297.39 L181.20,297.33 L181.43,297.69 L181.65,297.54 L181.87,297.43 L182.09,297.67 L182.31,297.46 L182.53,297.57 L182.76,297.80 L182.98,297.53 L183.20,297.70 L183.31,297.95 L183.53,305.31 L183.75,309.11 L183.98,311.31 L184.20,312.40 L184.42,313.00 L184.64,313.08 L184.86,313.37 L185.08,313.71 L185.31,313.70 L185.53,313.76 L185.75,313.49 L185.97,313.66 L186.19,313.99 L186.42,313.61 L186.64,314.09 L186.86,313.83 L187.08,313.94 L187.30,313.81 L187.52,313.98 L187.75,314.18 L187.97,313.97 L188.19,313.84 L188.41,313.87 L188.63,314.11 L188.86,314.20 L189.08,313.94 L189.30,313.93 L189.52,314.24 L189.74,313.91 L189.96,313.87 L190.19,314.17 L190.41,314.21 L190.63,314.05 L190.85,313.95 L191.07,314.33 L191.30,314.29 L191.52,314.29 L191.74,314.08 L191.96,314.38 L192.18,314.20 L192.40,314.23 L192.63,314.15 L192.85,314.43 L193.07,314.01 L193.29,313.99 L193.51,314.23 L193.73,314.11 L193.96,314.43 L194.18,314.06 L194.18,314.25 L194.40,306.06 L194.62,301.83 L194.84,299.92 L195.07,298.50 L195.29,298.27 L195.51,298.03 L195.73,297.59 L195.95,297.27 L196.17,297.20 L196.40,297.11 L196.62,297.30 L196.84,297.04 L197.06,297.20 L197.28,297.39 L197.51,297.11 L197.73,296.99 L197.95,297.16 L198.17,297.05 L198.39,297.20 L198.61,297.17 L198.84,297.07 L199.06,297.01 L199.28,297.01 L199.50,297.19 L199.72,297.22 L199.95,297.03 L200.17,296.82 L200.39,296.79 L200.61,297.04 L200.83,297.01 L201.05,296.87 L201.28,297.03 L201.50,296.80 L201.72,296.63 L201.94,296.98 L202.16,296.78 L202.39,296.70 L202.61,296.67 L202.83,296.68 L203.05,296.68 L203.27,296.90 L203.49,296.60 L203.72,296.54 L203.94,296.99 L204.16,296.52 L204.38,296.78 L204.60,296.95 L204.82,296.96 L205.05,296.58 L205.27,296.63 L205.49,296.91 L205.71,296.74 L205.93,296.64 L206.04,296.45 L206.27,286.64 L206.49,281.12 L206.71,278.58 L206.93,277.09 L207.15,276.25 L207.38,275.61 L207.60,275.17 L207.82,275.09 L208.04,274.98 L208.26,274.80 L208.48,274.73 L208.71,274.55 L208.93,274.38 L209.15,274.17 L209.37,274.24 L209.59,273.99 L209.82,273.92 L210.04,273.55 L210.26,273.72 L210.48,273.41 L210.70,273.58 L210.92,273.65 L211.15,273.38 L211.37,273.54 L211.59,273.47 L211.81,273.46 L212.03,273.08 L212.26,272.89 L212.48,273.13 L212.70,273.11 L212.92,273.03 L213.14,273.02 L213.36,272.81 L213.59,272.92 L213.81,273.01 L214.03,272.61 L214.25,272.73 L214.47,272.99 L214.69,272.52 L214.92,272.55 L215.14,272.72 L215.36,272.55 L215.58,272.38 L215.80,272.62 L216.03,272.58 L216.25,272.63 L216.47,272.48 L216.69,272.40 L216.91,272.35 L216.91,272.24 L217.13,260.28 L217.36,253.69 L217.58,249.99 L217.80,248.15 L218.02,247.18 L218.24,246.48 L218.47,246.23 L218.69,245.60 L218.91,245.56 L219.13,245.43 L219.35,245.35 L219.57,245.22 L219.80,244.65 L220.02,244.55 L220.24,244.81 L220.46,244.53 L220.68,244.32 L220.91,244.19 L221.13,244.14 L221.35,243.76 L221.57,243.94 L221.79,243.74 L222.01,243.44 L222.24,243.51 L222.46,243.50 L222.68,243.50 L222.90,243.39 L223.12,243.21 L223.35,243.04 L223.57,243.25 L223.79,243.13 L224.01,243.06 L224.23,243.02 L224.45,242.68 L224.68,242.82 L224.90,242.91 L225.12,242.83 L225.34,242.53 L225.56,242.83 L225.79,242.52 L225.79,242.87 L226.01,255.10 L226.23,261.59 L226.45,264.60 L226.67,266.78 L226.89,267.76 L227.12,268.46 L227.34,268.75 L227.56,268.78 L227.78,269.00 L228.00,269.08 L228.22,269.22 L228.45,269.56 L228.67,269.50 L228.89,270.06 L229.11,269.74 L229.33,270.10 L229.56,270.33 L229.78,270.14 L230.00,270.18 L230.22,270.51 L230.44,270.75 L230.66,270.43 L230.89,270.57 L231.11,270.72 L231.33,270.59 L231.55,271.14 L231.77,271.20 L232.00,271.22 L232.22,271.33 L232.44,271.03 L232.66,271.12 L232.88,271.44 L233.10,271.46 L233.33,271.50 L233.55,271.32 L233.77,271.32 L233.99,271.21 L234.21,271.56 L234.44,271.27 L234.66,271.59 L234.88,271.64 L235.10,271.74 L235.32,271.78 L235.54,271.42 L235.77,271.44 L235.99,271.61 L236.21,271.91 L236.43,271.93 L236.65,271.97 L236.88,271.88 L237.10,271.70 L237.32,272.07 L237.54,271.84 L237.76,271.78 L237.98,272.13 L238.09,271.93 L238.32,282.61 L238.54,288.38 L238.76,291.42 L238.98,292.80 L239.20,293.83 L239.43,294.49 L239.65,294.78 L239.87,294.72 L240.09,294.94 L240.31,295.05 L240.53,295.35 L240.76,295.68 L240.98,295.76 L241.20,295.75 L241.42,295.68 L241.64,296.12 L241.87,295.79 L242.09,295.87 L242.31,296.08 L242.53,296.42 L242.75,296.07 L242.97,296.33 L243.20,296.26 L243.42,296.37 L243.64,296.34 L243.86,296.55 L244.08,296.32 L244.31,296.37 L244.53,296.42 L244.75,296.63 L244.97,296.82 L245.19,296.83 L245.41,296.92 L245.64,296.62 L245.86,296.71 L246.08,296.75 L246.30,296.76 L246.52,296.70 L246.75,296.88 L246.97,297.10 L247.19,296.90 L247.41,297.18 L247.63,297.02 L247.85,297.27 L248.08,296.93 L248.30,297.14 L248.52,297.27 L248.74,296.95 L248.96,297.40 L249.18,296.98 L249.41,297.08 L249.63,297.41 L249.63,297.09 L249.85,304.80 L250.07,308.56 L250.29,310.76 L250.52,311.91 L250.74,312.22 L250.96,312.97 L251.18,312.79 L251.40,313.25 L251.62,313.23 L251.85,313.37 L252.07,313.02 L252.29,313.28 L252.51,313.16 L252.73,313.44 L252.96,313.22 L253.18,313.29 L253.40,313.60 L253.62,313.41 L253.84,313.32 L254.06,313.60 L254.29,313.39 L254.51,313.61 L254.73,313.58 L254.95,313.31 L255.17,313.31 L255.40,313.30 L255.62,313.61 L255.84,313.55 L256.06,313.44 L256.28,313.48 L256.50,313.65 L256.73,313.45 L256.95,313.70 L257.17,313.42 L257.39,313.68 L257.61,313.87 L257.84,313.56 L258.06,313.88 L258.28,313.61 L258.50,313.94 L258.72,313.46 L258.94,313.70 L259.17,313.61 L259.39,313.93 L259.61,313.67 L259.83,313.81 L260.05,313.88" fill="none" stroke="#22c48d" stroke-width="0.65" stroke-linejoin="round" />
<path d="M42.80,313.46 L43.02,313.80 L43.24,313.53 L43.47,313.72 L43.69,313.31 L43.91,313.28 L44.13,313.73 L44.35,313.50 L44.57,313.50 L44.80,313.37 L45.02,313.36 L45.24,313.56 L45.46,313.26 L45.68,313.65 L45.91,313.67 L46.13,313.32 L46.35,313.68 L46.57,313.65 L46.79,313.48 L47.01,313.57 L47.24,313.66 L47.46,313.26 L47.68,313.50 L47.90,313.34 L48.12,313.61 L48.34,313.27 L48.57,313.63 L48.79,313.27 L49.01,313.42 L49.23,313.24 L49.45,313.34 L49.68,313.42 L49.90,313.47 L50.12,313.30 L50.34,313.51 L50.56,313.69 L50.78,313.27 L51.01,313.33 L51.23,313.39 L51.45,313.36 L51.67,313.62 L51.89,313.50 L52.12,313.32 L52.34,313.24 L52.56,313.26 L52.78,313.66 L52.89,313.39 L53.11,306.09 L53.34,302.38 L53.56,300.54 L53.78,299.54 L54.00,298.84 L54.22,298.55 L54.44,298.51 L54.67,298.37 L54.89,298.22 L55.11,298.08 L55.33,298.14 L55.55,298.34 L55.78,297.95 L56.00,298.20 L56.22,297.88 L56.44,297.86 L56.66,298.28 L56.88,298.04 L57.11,297.83 L57.33,298.13 L57.55,298.03 L57.77,298.14 L57.99,298.28 L58.22,298.18 L58.44,298.22 L58.66,298.13 L58.88,297.94 L59.10,297.97 L59.32,297.76 L59.55,297.89 L59.77,298.05 L59.99,297.74 L60.21,297.90 L60.43,297.94 L60.65,297.77 L60.88,297.87 L61.10,298.03 L61.32,297.89 L61.54,298.05 L61.76,297.70 L61.99,298.07 L62.21,297.69 L62.43,298.16 L62.65,298.18 L62.87,297.90 L63.09,298.07 L63.21,297.92 L63.43,287.69 L63.65,281.84 L63.87,279.01 L64.09,277.39 L64.31,276.34 L64.54,275.73 L64.76,275.51 L64.98,275.20 L65.20,275.34 L65.42,275.11 L65.65,274.74 L65.87,274.30 L66.09,274.48 L66.31,274.21 L66.53,274.36 L66.75,274.02 L66.98,273.65 L67.20,273.69 L67.42,273.46 L67.64,273.78 L67.86,273.58 L68.09,273.50 L68.31,273.07 L68.53,273.36 L68.75,272.85 L68.97,273.11 L69.19,272.72 L69.42,272.84 L69.64,272.87 L69.86,272.48 L70.08,272.71 L70.30,272.50 L70.53,272.77 L70.75,272.32 L70.97,272.19 L71.19,272.60 L71.41,272.22 L71.63,272.43 L71.86,272.45 L72.08,272.30 L72.30,272.11 L72.52,271.92 L72.74,271.87 L72.96,271.84 L73.19,272.00 L73.41,271.95 L73.63,272.18 L73.85,271.86 L74.07,271.93 L74.07,272.03 L74.30,259.51 L74.52,253.46 L74.74,250.14 L74.96,248.31 L75.18,247.29 L75.40,246.45 L75.63,245.95 L75.85,246.00 L76.07,245.61 L76.29,245.40 L76.51,245.25 L76.74,245.18 L76.96,244.98 L77.18,245.13 L77.40,244.99 L77.62,244.69 L77.84,244.68 L78.07,244.31 L78.29,244.49 L78.51,244.09 L78.73,244.31 L78.95,244.31 L79.18,244.03 L79.40,244.00 L79.62,243.96 L79.84,243.67 L80.06,243.89 L80.28,243.59 L80.51,243.45 L80.73,243.59 L80.95,243.52 L81.17,243.25 L81.39,243.37 L81.61,243.54 L81.84,243.56 L82.06,243.51 L82.28,243.34 L82.50,243.43 L82.72,243.11 L82.95,243.19 L83.17,243.22 L83.39,243.08 L83.61,242.83 L83.83,243.16 L84.05,243.18 L84.28,243.08 L84.50,243.05 L84.72,242.72 L84.94,242.81 L85.16,242.93 L85.27,243.06 L85.50,255.20 L85.72,261.48 L85.94,264.44 L86.16,266.36 L86.38,267.64 L86.61,268.01 L86.83,268.70 L87.05,268.76 L87.27,269.07 L87.49,269.37 L87.71,269.21 L87.94,269.37 L88.16,269.62 L88.38,269.93 L88.60,269.79 L88.82,270.03 L89.05,270.02 L89.27,270.42 L89.49,270.10 L89.71,270.66 L89.93,270.64 L90.15,270.64 L90.38,270.82 L90.60,270.96 L90.82,270.72 L91.04,270.63 L91.26,271.04 L91.49,271.14 L91.71,270.99 L91.93,271.28 L92.15,271.24 L92.37,271.15 L92.59,271.33 L92.82,271.52 L93.04,271.61 L93.26,271.41 L93.48,271.22 L93.70,271.29 L93.92,271.75 L94.15,271.58 L94.37,271.62 L94.59,271.80 L94.81,271.59 L95.03,271.71 L95.26,271.57 L95.48,271.87 L95.70,271.56 L95.92,271.64 L96.14,271.84 L96.36,272.04 L96.59,271.88 L96.81,272.08 L97.03,271.81 L97.25,271.82 L97.47,271.90 L97.70,271.71 L97.92,272.21 L98.14,271.88 L98.36,271.84 L98.47,272.21 L98.69,282.80 L98.92,288.52 L99.14,291.19 L99.36,292.71 L99.58,293.79 L99.80,294.14 L100.02,294.64 L100.25,294.70 L100.47,295.10 L100.69,294.89 L100.91,295.30 L101.13,295.64 L101.36,295.71 L101.58,295.48 L101.80,295.51 L102.02,295.72 L102.24,296.05 L102.46,295.76 L102.69,295.92 L102.91,296.31 L103.13,296.24 L103.35,296.16 L103.57,296.57 L103.79,296.61 L104.02,296.51 L104.24,296.29 L104.46,296.28 L104.68,296.68 L104.90,296.43 L105.13,296.53 L105.35,296.54 L105.57,296.72 L105.79,296.56 L106.01,296.77 L106.23,296.65 L106.46,296.88 L106.68,297.10 L106.90,296.96 L107.12,297.01 L107.34,297.11 L107.57,297.12 L107.79,297.08 L108.01,297.06 L108.23,297.27 L108.45,297.26 L108.67,297.17 L108.90,297.19 L109.12,297.25 L109.34,297.14 L109.56,297.40 L109.78,297.24 L110.01,297.39 L110.23,297.15 L110.45,297.19 L110.67,297.17 L110.89,297.32 L111.11,297.47 L111.34,297.13 L111.56,297.35 L111.78,297.43 L112.00,297.49 L112.22,297.44 L112.45,297.29 L112.67,297.24 L112.67,297.41 L112.89,304.67 L113.11,308.77 L113.33,310.64 L113.55,311.75 L113.78,312.36 L114.00,312.65 L114.22,312.64 L114.44,312.78 L114.66,313.15 L114.88,313.20 L115.11,312.98 L115.33,313.10 L115.55,313.13 L115.77,313.20 L115.99,313.21 L116.22,313.47 L116.44,313.62 L116.66,313.50 L116.88,313.70 L117.10,313.25 L117.32,313.51 L117.55,313.46 L117.77,313.34 L117.99,313.45 L118.21,313.77 L118.43,313.74 L118.66,313.88 L118.88,313.55 L119.10,313.60 L119.32,313.74 L119.54,313.82 L119.76,313.89 L119.99,313.80 L120.21,313.70 L120.43,313.62 L120.65,313.66 L120.87,313.66 L121.10,313.89 L121.32,313.92 L121.54,313.98 L121.76,313.65 L121.98,314.07 L122.20,314.10 L122.43,314.04 L122.65,313.72 L122.87,313.76 L123.09,314.04 L123.31,313.78 L123.54,313.77 L123.76,314.02 L123.98,314.14 L124.20,313.85 L124.42,314.06 L124.53,314.20 L124.76,305.66 L124.98,301.71 L125.20,299.56 L125.42,298.33 L125.64,297.91 L125.86,297.71 L126.09,297.34 L126.31,297.25 L126.53,297.37 L126.75,297.14 L126.97,296.90 L127.19,297.10 L127.42,296.89 L127.64,296.90 L127.86,297.11 L128.08,297.17 L128.30,296.82 L128.53,296.83 L128.75,296.98 L128.97,297.01 L129.19,296.66 L129.41,296.62 L129.63,296.96 L129.86,296.76 L130.08,296.76 L130.30,296.87 L130.52,297.01 L130.74,296.85 L130.97,296.68 L131.19,296.69 L131.41,296.73 L131.63,296.92 L131.85,296.87 L132.07,296.81 L132.30,296.75 L132.52,296.77 L132.74,296.48 L132.96,296.88 L133.18,296.43 L133.41,296.81 L133.63,296.48 L133.85,296.79 L134.07,296.61 L134.29,296.72 L134.51,296.89 L134.74,296.49 L134.96,296.48 L135.18,296.76 L135.40,296.49 L135.62,296.64 L135.73,296.38 L135.96,286.33 L136.18,280.66 L136.40,277.83 L136.62,276.05 L136.84,275.09 L137.06,274.52 L137.29,274.33 L137.51,274.18 L137.73,273.77 L137.95,273.98 L138.17,273.76 L138.40,273.38 L138.62,273.42 L138.84,273.03 L139.06,273.39 L139.28,273.10 L139.50,273.14 L139.73,273.16 L139.95,273.03 L140.17,272.95 L140.39,272.73 L140.61,272.62 L140.84,272.52 L141.06,272.56 L141.28,272.29 L141.50,272.32 L141.72,272.03 L141.94,272.39 L142.17,272.17 L142.39,272.13 L142.61,272.14 L142.83,271.85 L143.05,272.14 L143.28,271.76 L143.50,271.99 L143.72,271.97 L143.94,271.79 L144.16,271.78 L144.38,271.89 L144.61,271.97 L144.83,271.49 L145.05,271.77 L145.27,271.87 L145.49,271.57 L145.72,271.61 L145.94,271.69 L146.16,271.67 L146.38,271.39 L146.60,271.63 L146.82,271.57 L147.05,271.27 L147.27,271.57 L147.49,271.53 L147.71,271.64 L147.93,271.37 L148.16,271.35 L148.16,271.47 L148.38,259.00 L148.60,252.54 L148.82,248.76 L149.04,247.02 L149.26,245.72 L149.49,245.28 L149.71,244.64 L149.93,244.67 L150.15,244.30 L150.37,243.68 L150.59,243.62 L150.82,243.43 L151.04,243.35 L151.26,243.20 L151.48,243.18 L151.70,243.05 L151.93,242.66 L152.15,242.50 L152.37,242.60 L152.59,242.28 L152.81,242.42 L153.03,242.07 L153.26,242.19 L153.48,241.92 L153.70,241.92 L153.92,241.71 L154.14,241.84 L154.37,241.58 L154.59,241.43 L154.81,241.61 L155.03,241.45 L155.25,241.19 L155.47,241.19 L155.70,241.10 L155.92,240.95 L156.14,241.01 L156.36,241.14 L156.58,240.97 L156.81,240.72 L157.03,240.82 L157.25,240.68 L157.47,240.84 L157.69,240.76 L157.69,240.49 L157.91,253.41 L158.14,260.20 L158.36,264.03 L158.58,265.68 L158.80,267.06 L159.02,267.24 L159.25,267.64 L159.47,268.06 L159.69,268.53 L159.91,268.42 L160.13,268.93 L160.35,268.75 L160.58,269.05 L160.80,269.44 L161.02,269.12 L161.24,269.47 L161.46,269.38 L161.68,269.56 L161.91,269.74 L162.13,269.67 L162.35,270.10 L162.57,269.83 L162.79,270.20 L163.02,270.44 L163.24,270.36 L163.46,270.57 L163.68,270.64 L163.90,270.41 L164.12,270.74 L164.35,270.78 L164.57,270.76 L164.79,270.82 L165.01,270.54 L165.23,270.60 L165.46,270.66 L165.68,270.64 L165.90,270.97 L166.12,270.82 L166.34,271.13 L166.56,270.83 L166.79,270.92 L167.01,271.00 L167.23,271.29 L167.45,271.39 L167.67,270.98 L167.90,271.20 L168.12,271.20 L168.34,271.09 L168.56,271.49 L168.78,271.22 L169.00,271.36 L169.23,271.22 L169.45,271.41 L169.67,271.56 L169.89,271.18 L170.11,271.55 L170.33,271.32 L170.56,271.29 L170.78,271.61 L171.00,271.39 L171.00,271.54 L171.22,282.11 L171.44,287.60 L171.67,290.14 L171.89,292.05 L172.11,292.89 L172.33,293.46 L172.55,294.08 L172.77,293.98 L173.00,294.21 L173.22,294.33 L173.44,294.77 L173.66,295.00 L173.88,295.07 L174.11,295.01 L174.33,295.17 L174.55,295.42 L174.77,295.48 L174.99,295.78 L175.21,295.49 L175.44,295.82 L175.66,295.89 L175.88,295.84 L176.10,296.23 L176.32,296.04 L176.55,296.30 L176.77,296.14 L176.99,296.58 L177.21,296.55 L177.43,296.43 L177.65,296.57 L177.88,296.68 L178.10,296.63 L178.32,296.87 L178.54,296.81 L178.76,297.08 L178.99,296.71 L179.21,297.03 L179.43,296.78 L179.65,296.96 L179.87,296.97 L180.09,296.99 L180.32,297.28 L180.54,296.98 L180.76,297.26 L180.98,296.99 L181.20,297.06 L181.43,297.14 L181.65,297.09 L181.87,297.31 L182.09,297.21 L182.31,297.09 L182.53,297.50 L182.76,297.57 L182.98,297.42 L183.20,297.39 L183.31,297.59 L183.53,305.16 L183.75,308.76 L183.98,311.05 L184.20,312.25 L184.42,312.80 L184.64,312.91 L184.86,313.29 L185.08,313.26 L185.31,313.30 L185.53,313.40 L185.75,313.41 L185.97,313.28 L186.19,313.74 L186.42,313.30 L186.64,313.70 L186.86,313.81 L187.08,313.46 L187.30,313.59 L187.52,313.63 L187.75,313.82 L187.97,313.55 L188.19,313.81 L188.41,313.61 L188.63,313.89 L188.86,313.73 L189.08,313.71 L189.30,313.86 L189.52,313.82 L189.74,314.05 L189.96,313.77 L190.19,313.75 L190.41,314.05 L190.63,313.85 L190.85,313.77 L191.07,314.11 L191.30,313.73 L191.52,313.73 L191.74,314.16 L191.96,314.07 L192.18,314.16 L192.40,314.08 L192.63,314.17 L192.85,313.97 L193.07,314.10 L193.29,314.08 L193.51,314.00 L193.73,314.06 L193.96,313.85 L194.18,313.89 L194.18,314.20 L194.40,306.00 L194.62,301.91 L194.84,299.56 L195.07,298.53 L195.29,297.62 L195.51,297.25 L195.73,296.95 L195.95,297.25 L196.17,297.26 L196.40,296.83 L196.62,296.97 L196.84,296.67 L197.06,296.91 L197.28,296.93 L197.51,297.02 L197.73,296.55 L197.95,296.75 L198.17,296.76 L198.39,296.74 L198.61,296.55 L198.84,296.50 L199.06,296.66 L199.28,296.80 L199.50,296.67 L199.72,296.40 L199.95,296.64 L200.17,296.49 L200.39,296.53 L200.61,296.57 L200.83,296.50 L201.05,296.65 L201.28,296.48 L201.50,296.31 L201.72,296.71 L201.94,296.55 L202.16,296.28 L202.39,296.22 L202.61,296.71 L202.83,296.38 L203.05,296.37 L203.27,296.26 L203.49,296.44 L203.72,296.61 L203.94,296.52 L204.16,296.30 L204.38,296.28 L204.60,296.55 L204.82,296.32 L205.05,296.31 L205.27,296.30 L205.49,296.63 L205.71,296.40 L205.93,296.46 L206.04,296.32 L206.27,286.07 L206.49,280.77 L206.71,277.63 L206.93,276.29 L207.15,275.17 L207.38,274.91 L207.60,274.47 L207.82,274.10 L208.04,274.29 L208.26,273.83 L208.48,274.05 L208.71,273.48 L208.93,273.85 L209.15,273.39 L209.37,273.48 L209.59,273.49 L209.82,273.30 L210.04,273.17 L210.26,273.14 L210.48,273.22 L210.70,272.94 L210.92,272.99 L211.15,272.58 L211.37,272.83 L211.59,272.75 L211.81,272.80 L212.03,272.37 L212.26,272.65 L212.48,272.44 L212.70,272.30 L212.92,272.49 L213.14,272.26 L213.36,272.47 L213.59,272.52 L213.81,272.52 L214.03,272.28 L214.25,272.03 L214.47,272.35 L214.69,272.20 L214.92,272.01 L215.14,272.23 L215.36,272.27 L215.58,272.06 L215.80,272.09 L216.03,271.80 L216.25,271.80 L216.47,272.13 L216.69,271.94 L216.91,272.00 L216.91,272.20 L217.13,259.15 L217.36,252.21 L217.58,248.99 L217.80,246.93 L218.02,245.79 L218.24,245.49 L218.47,244.63 L218.69,244.76 L218.91,244.44 L219.13,244.04 L219.35,244.23 L219.57,243.90 L219.80,243.89 L220.02,243.58 L220.24,243.70 L220.46,243.51 L220.68,243.37 L220.91,243.34 L221.13,243.23 L221.35,243.08 L221.57,242.83 L221.79,242.94 L222.01,242.50 L222.24,242.64 L222.46,242.65 L222.68,242.58 L222.90,242.21 L223.12,242.55 L223.35,242.13 L223.57,242.41 L223.79,241.92 L224.01,242.14 L224.23,242.00 L224.45,241.81 L224.68,242.16 L224.90,242.14 L225.12,241.77 L225.34,241.79 L225.56,241.68 L225.79,241.88 L225.79,241.77 L226.01,254.27 L226.23,260.59 L226.45,264.08 L226.67,265.78 L226.89,266.98 L227.12,267.62 L227.34,267.84 L227.56,268.42 L227.78,268.28 L228.00,268.63 L228.22,268.94 L228.45,269.15 L228.67,269.09 L228.89,269.23 L229.11,269.24 L229.33,269.54 L229.56,269.63 L229.78,269.49 L230.00,269.92 L230.22,269.65 L230.44,269.79 L230.66,269.83 L230.89,269.94 L231.11,270.37 L231.33,270.16 L231.55,270.34 L231.77,270.62 L232.00,270.27 L232.22,270.52 L232.44,270.49 L232.66,270.68 L232.88,270.98 L233.10,270.63 L233.33,271.03 L233.55,271.03 L233.77,270.89 L233.99,271.15 L234.21,271.05 L234.44,270.96 L234.66,271.32 L234.88,271.06 L235.10,271.38 L235.32,271.22 L235.54,271.16 L235.77,271.17 L235.99,271.53 L236.21,271.48 L236.43,271.10 L236.65,271.42 L236.88,271.43 L237.10,271.47 L237.32,271.33 L237.54,271.32 L237.76,271.39 L237.98,271.53 L238.09,271.45 L238.32,282.16 L238.54,287.90 L238.76,290.45 L238.98,292.03 L239.20,293.02 L239.43,293.44 L239.65,294.06 L239.87,294.11 L240.09,294.61 L240.31,294.50 L240.53,294.65 L240.76,294.66 L240.98,294.83 L241.20,294.92 L241.42,295.34 L241.64,295.16 L241.87,295.42 L242.09,295.59 L242.31,295.64 L242.53,295.50 L242.75,295.55 L242.97,295.62 L243.20,295.78 L243.42,296.11 L243.64,296.17 L243.86,296.02 L244.08,296.26 L244.31,296.25 L244.53,296.42 L244.75,296.44 L244.97,296.20 L245.19,296.49 L245.41,296.21 L245.64,296.52 L245.86,296.29 L246.08,296.61 L246.30,296.66 L246.52,296.62 L246.75,296.85 L246.97,296.66 L247.19,296.72 L247.41,296.94 L247.63,296.52 L247.85,296.80 L248.08,297.01 L248.30,296.54 L248.52,296.94 L248.74,296.94 L248.96,297.08 L249.18,297.06 L249.41,296.76 L249.63,296.84 L249.63,296.88 L249.85,304.63 L250.07,308.54 L250.29,310.23 L250.52,311.61 L250.74,311.87 L250.96,312.24 L251.18,312.81 L251.40,312.55 L251.62,313.05 L251.85,312.75 L252.07,312.74 L252.29,312.84 L252.51,312.95 L252.73,312.84 L252.96,313.21 L253.18,313.04 L253.40,313.21 L253.62,313.17 L253.84,313.30 L254.06,313.05 L254.29,313.14 L254.51,313.06 L254.73,313.15 L254.95,313.19 L255.17,313.04 L255.40,313.11 L255.62,313.25 L255.84,313.39 L256.06,313.10 L256.28,313.40 L256.50,313.55 L256.73,313.44 L256.95,313.26 L257.17,313.15 L257.39,313.31 L257.61,313.31 L257.84,313.18 L258.06,313.27 L258.28,313.45 L258.50,313.45 L258.72,313.31 L258.94,313.54 L259.17,313.66 L259.39,313.40 L259.61,313.31 L259.83,313.61 L260.05,313.39" fill="none" stroke="#22c48d" stroke-width="0.65" stroke-linejoin="round" />
<path d="M42.80,313.42 L43.02,313.61 L43.24,313.50 L43.47,313.27 L43.69,313.32 L43.91,312.99 L44.13,312.96 L44.35,313.24 L44.57,313.06 L44.80,313.14 L45.02,313.38 L45.24,312.96 L45.46,313.37 L45.68,313.43 L45.91,313.23 L46.13,313.46 L46.35,313.22 L46.57,313.25 L46.79,312.97 L47.01,313.25 L47.24,313.02 L47.46,313.06 L47.68,313.16 L47.90,313.34 L48.12,313.31 L48.34,313.21 L48.57,313.26 L48.79,313.13 L49.01,313.20 L49.23,313.30 L49.45,313.15 L49.68,312.95 L49.90,313.36 L50.12,313.29 L50.34,313.46 L50.56,313.42 L50.78,313.44 L51.01,313.25 L51.23,313.03 L51.45,313.10 L51.67,312.96 L51.89,313.03 L52.12,313.16 L52.34,313.16 L52.56,313.46 L52.78,313.27 L52.89,313.33 L53.11,305.72 L53.34,302.18 L53.56,299.96 L53.78,299.03 L54.00,298.43 L54.22,298.20 L54.44,298.20 L54.67,297.79 L54.89,297.70 L55.11,297.78 L55.33,298.00 L55.55,297.74 L55.78,297.58 L56.00,297.51 L56.22,297.61 L56.44,297.97 L56.66,297.53 L56.88,297.63 L57.11,297.82 L57.33,297.48 L57.55,297.52 L57.77,297.48 L57.99,297.81 L58.22,297.63 L58.44,297.72 L58.66,297.76 L58.88,297.51 L59.10,297.58 L59.32,297.72 L59.55,297.61 L59.77,297.41 L59.99,297.59 L60.21,297.40 L60.43,297.58 L60.65,297.35 L60.88,297.85 L61.10,297.62 L61.32,297.57 L61.54,297.48 L61.76,297.35 L61.99,297.52 L62.21,297.60 L62.43,297.51 L62.65,297.56 L62.87,297.47 L63.09,297.34 L63.21,297.83 L63.43,287.08 L63.65,281.24 L63.87,278.70 L64.09,276.70 L64.31,276.16 L64.54,275.27 L64.76,274.81 L64.98,274.82 L65.20,274.52 L65.42,274.40 L65.65,273.98 L65.87,273.92 L66.09,273.73 L66.31,273.74 L66.53,273.47 L66.75,273.15 L66.98,273.13 L67.20,272.93 L67.42,273.18 L67.64,272.94 L67.86,272.91 L68.09,272.84 L68.31,272.52 L68.53,272.76 L68.75,272.48 L68.97,272.30 L69.19,272.14 L69.42,272.55 L69.64,272.35 L69.86,272.18 L70.08,271.89 L70.30,272.23 L70.53,271.83 L70.75,272.01 L70.97,271.88 L71.19,271.64 L71.41,272.04 L71.63,271.86 L71.86,271.92 L72.08,271.89 L72.30,271.77 L72.52,271.53 L72.74,271.56 L72.96,271.76 L73.19,271.38 L73.41,271.51 L73.63,271.67 L73.85,271.29 L74.07,271.27 L74.07,271.58 L74.30,258.66 L74.52,252.20 L74.74,249.06 L74.96,247.33 L75.18,245.85 L75.40,245.28 L75.63,245.27 L75.85,244.67 L76.07,244.47 L76.29,244.38 L76.51,244.13 L76.74,243.93 L76.96,244.15 L77.18,243.78 L77.40,243.63 L77.62,243.85 L77.84,243.56 L78.07,243.47 L78.29,243.30 L78.51,243.37 L78.73,243.45 L78.95,243.39 L79.18,243.17 L79.40,243.31 L79.62,242.88 L79.84,242.80 L80.06,243.08 L80.28,242.79 L80.51,242.75 L80.73,242.99 L80.95,242.60 L81.17,242.57 L81.39,242.76 L81.61,242.83 L81.84,242.70 L82.06,242.41 L82.28,242.53 L82.50,242.32 L82.72,242.63 L82.95,242.63 L83.17,242.47 L83.39,242.17 L83.61,242.52 L83.83,242.54 L84.05,242.17 L84.28,242.49 L84.50,242.17 L84.72,242.45 L84.94,242.35 L85.16,242.12 L85.27,242.00 L85.50,254.34 L85.72,260.64 L85.94,264.21 L86.16,265.88 L86.38,266.97 L86.61,267.31 L86.83,267.76 L87.05,268.02 L87.27,268.38 L87.49,268.49 L87.71,268.96 L87.94,268.98 L88.16,269.18 L88.38,269.32 L88.60,269.21 L88.82,269.61 L89.05,269.67 L89.27,269.80 L89.49,269.61 L89.71,269.83 L89.93,270.00 L90.15,270.15 L90.38,269.95 L90.60,270.03 L90.82,270.36 L91.04,270.37 L91.26,270.29 L91.49,270.67 L91.71,270.73 L91.93,270.88 L92.15,270.73 L92.37,270.65 L92.59,271.01 L92.82,270.92 L93.04,270.68 L93.26,270.99 L93.48,271.08 L93.70,270.89 L93.92,270.90 L94.15,271.20 L94.37,271.37 L94.59,271.14 L94.81,271.12 L95.03,271.05 L95.26,271.22 L95.48,271.43 L95.70,271.35 L95.92,271.49 L96.14,271.43 L96.36,271.44 L96.59,271.23 L96.81,271.26 L97.03,271.27 L97.25,271.52 L97.47,271.28 L97.70,271.73 L97.92,271.34 L98.14,271.50 L98.36,271.39 L98.47,271.64 L98.69,281.92 L98.92,287.95 L99.14,290.45 L99.36,292.05 L99.58,293.18 L99.80,293.47 L100.02,294.14 L100.25,294.11 L100.47,294.44 L100.69,294.63 L100.91,294.89 L101.13,294.70 L101.36,294.86 L101.58,295.30 L101.80,294.95 L102.02,295.44 L102.24,295.45 L102.46,295.52 L102.69,295.52 L102.91,295.44 L103.13,295.49 L103.35,295.73 L103.57,295.94 L103.79,296.14 L104.02,296.22 L104.24,296.05 L104.46,296.07 L104.68,296.20 L104.90,295.97 L105.13,296.31 L105.35,296.39 L105.57,296.40 L105.79,296.57 L106.01,296.22 L106.23,296.44 L106.46,296.50 L106.68,296.59 L106.90,296.72 L107.12,296.71 L107.34,296.65 L107.57,296.70 L107.79,296.46 L108.01,296.70 L108.23,296.91 L108.45,297.01 L108.67,296.98 L108.90,296.90 L109.12,296.69 L109.34,296.66 L109.56,297.01 L109.78,296.75 L110.01,296.94 L110.23,296.91 L110.45,296.93 L110.67,297.19 L110.89,297.19 L111.11,296.90 L111.34,296.90 L111.56,297.07 L111.78,296.80 L112.00,296.86 L112.22,297.14 L112.45,297.27 L112.67,297.03 L112.67,296.98 L112.89,304.59 L113.11,308.52 L113.33,310.29 L113.55,311.59 L113.78,311.80 L114.00,312.19 L114.22,312.57 L114.44,312.61 L114.66,312.81 L114.88,312.91 L115.11,312.97 L115.33,312.70 L115.55,312.94 L115.77,312.85 L115.99,313.08 L116.22,312.89 L116.44,313.04 L116.66,313.04 L116.88,313.21 L117.10,313.16 L117.32,313.38 L117.55,313.01 L117.77,313.19 L117.99,313.29 L118.21,313.26 L118.43,313.57 L118.66,313.47 L118.88,313.55 L119.10,313.25 L119.32,313.70 L119.54,313.50 L119.76,313.30 L119.99,313.36 L120.21,313.41 L120.43,313.64 L120.65,313.69 L120.87,313.46 L121.10,313.68 L121.32,313.48 L121.54,313.68 L121.76,313.48 L121.98,313.59 L122.20,313.48 L122.43,313.40 L122.65,313.72 L122.87,313.42 L123.09,313.93 L123.31,313.49 L123.54,313.94 L123.76,313.68 L123.98,313.77 L124.20,313.57 L124.42,313.82 L124.53,313.87 L124.76,305.38 L124.98,301.28 L125.20,298.99 L125.42,297.99 L125.64,297.63 L125.86,296.93 L126.09,297.04 L126.31,296.81 L126.53,296.99 L126.75,296.81 L126.97,296.57 L127.19,296.49 L127.42,296.54 L127.64,296.62 L127.86,296.45 L128.08,296.46 L128.30,296.69 L128.53,296.50 L128.75,296.45 L128.97,296.37 L129.19,296.63 L129.41,296.56 L129.63,296.53 L129.86,296.65 L130.08,296.51 L130.30,296.30 L130.52,296.37 L130.74,296.57 L130.97,296.27 L131.19,296.58 L131.41,296.25 L131.63,296.55 L131.85,296.57 L132.07,296.48 L132.30,296.34 L132.52,296.46 L132.74,296.14 L132.96,296.10 L133.18,296.44 L133.41,296.19 L133.63,296.21 L133.85,296.28 L134.07,296.43 L134.29,296.07 L134.51,296.06 L134.74,296.55 L134.96,296.38 L135.18,296.38 L135.40,296.44 L135.62,296.32 L135.73,296.07 L135.96,285.76 L136.18,279.73 L136.40,277.04 L136.62,275.60 L136.84,274.26 L137.06,274.06 L137.29,273.76 L137.51,273.57 L137.73,273.27 L137.95,273.25 L138.17,273.09 L138.40,272.94 L138.62,272.66 L138.84,272.63 L139.06,272.61 L139.28,272.40 L139.50,272.19 L139.73,272.14 L139.95,272.26 L140.17,271.89 L140.39,271.88 L140.61,271.94 L140.84,271.92 L141.06,271.93 L141.28,271.98 L141.50,271.54 L141.72,271.63 L141.94,271.84 L142.17,271.37 L142.39,271.34 L142.61,271.74 L142.83,271.36 L143.05,271.56 L143.28,271.37 L143.50,271.18 L143.72,271.40 L143.94,271.29 L144.16,271.17 L144.38,271.39 L144.61,271.14 L144.83,271.22 L145.05,270.91 L145.27,271.29 L145.49,271.00 L145.72,271.33 L145.94,271.19 L146.16,271.25 L146.38,271.22 L146.60,271.00 L146.82,271.17 L147.05,270.83 L147.27,271.18 L147.49,270.89 L147.71,270.76 L147.93,271.12 L148.16,271.06 L148.16,270.78 L148.38,257.83 L148.60,250.75 L148.82,247.44 L149.04,245.45 L149.26,244.06 L149.49,243.72 L149.71,242.97 L149.93,242.71 L150.15,242.83 L150.37,242.46 L150.59,242.08 L150.82,242.35 L151.04,241.82 L151.26,241.73 L151.48,241.61 L151.70,241.57 L151.93,241.71 L152.15,241.15 L152.37,241.49 L152.59,241.04 L152.81,240.98 L153.03,241.10 L153.26,240.82 L153.48,240.88 L153.70,240.63 L153.92,240.92 L154.14,240.39 L154.37,240.61 L154.59,240.33 L154.81,240.44 L155.03,240.21 L155.25,240.42 L155.47,240.24 L155.70,240.46 L155.92,240.17 L156.14,240.34 L156.36,239.89 L156.58,239.94 L156.81,240.04 L157.03,239.72 L157.25,239.70 L157.47,239.66 L157.69,240.08 L157.69,239.76 L157.91,252.61 L158.14,259.40 L158.36,263.27 L158.58,264.74 L158.80,266.09 L159.02,266.67 L159.25,266.99 L159.47,267.58 L159.69,267.95 L159.91,267.70 L160.13,268.22 L160.35,268.50 L160.58,268.61 L160.80,268.31 L161.02,268.58 L161.24,268.98 L161.46,269.14 L161.68,268.87 L161.91,269.10 L162.13,269.25 L162.35,269.58 L162.57,269.53 L162.79,269.34 L163.02,269.92 L163.24,269.79 L163.46,270.05 L163.68,269.64 L163.90,270.17 L164.12,269.80 L164.35,269.92 L164.57,270.04 L164.79,270.46 L165.01,270.17 L165.23,270.33 L165.46,270.38 L165.68,270.61 L165.90,270.46 L166.12,270.36 L166.34,270.75 L166.56,270.40 L166.79,270.67 L167.01,270.79 L167.23,270.83 L167.45,270.75 L167.67,270.68 L167.90,270.75 L168.12,270.62 L168.34,270.84 L168.56,270.86 L168.78,270.64 L169.00,271.06 L169.23,271.19 L169.45,271.04 L169.67,271.07 L169.89,271.19 L170.11,271.05 L170.33,271.27 L170.56,270.83 L170.78,271.07 L171.00,270.88 L171.00,270.97 L171.22,281.24 L171.44,286.62 L171.67,289.75 L171.89,291.13 L172.11,292.32 L172.33,292.72 L172.55,293.09 L172.77,293.29 L173.00,293.84 L173.22,293.96 L173.44,293.89 L173.66,294.07 L173.88,294.14 L174.11,294.74 L174.33,294.83 L174.55,295.02 L174.77,294.82 L174.99,294.93 L175.21,295.10 L175.44,295.14 L175.66,295.38 L175.88,295.46 L176.10,295.36 L176.32,295.60 L176.55,295.68 L176.77,295.79 L176.99,295.92 L177.21,295.86 L177.43,296.02 L177.65,296.32 L177.88,296.23 L178.10,296.29 L178.32,296.34 L178.54,296.33 L178.76,296.48 L178.99,296.52 L179.21,296.54 L179.43,296.62 L179.65,296.35 L179.87,296.85 L180.09,296.92 L180.32,296.59 L180.54,296.80 L180.76,296.80 L180.98,296.76 L181.20,296.91 L181.43,297.00 L181.65,297.14 L181.87,296.72 L182.09,296.72 L182.31,297.08 L182.53,297.01 L182.76,297.10 L182.98,297.26 L183.20,296.84 L183.31,296.88 L183.53,304.81 L183.75,308.74 L183.98,310.55 L184.20,311.58 L184.42,312.32 L184.64,312.68 L184.86,312.94 L185.08,312.77 L185.31,312.81 L185.53,312.87 L185.75,313.30 L185.97,313.09 L186.19,312.93 L186.42,313.10 L186.64,313.26 L186.86,313.45 L187.08,313.53 L187.30,313.20 L187.52,313.57 L187.75,313.21 L187.97,313.31 L188.19,313.43 L188.41,313.23 L188.63,313.23 L188.86,313.41 L189.08,313.70 L189.30,313.46 L189.52,313.56 L189.74,313.67 L189.96,313.33 L190.19,313.45 L190.41,313.78 L190.63,313.73 L190.85,313.68 L191.07,313.58 L191.30,313.72 L191.52,313.67 L191.74,313.48 L191.96,313.82 L192.18,313.55 L192.40,313.76 L192.63,313.45 L192.85,313.45 L193.07,313.78 L193.29,313.64 L193.51,313.91 L193.73,313.76 L193.96,313.65 L194.18,313.65 L194.18,313.81 L194.40,305.76 L194.62,301.47 L194.84,299.05 L195.07,298.11 L195.29,297.43 L195.51,296.94 L195.73,296.61 L195.95,296.70 L196.17,296.76 L196.40,296.54 L196.62,296.66 L196.84,296.36 L197.06,296.66 L197.28,296.57 L197.51,296.46 L197.73,296.19 L197.95,296.55 L198.17,296.52 L198.39,296.53 L198.61,296.47 L198.84,296.39 L199.06,296.34 L199.28,296.14 L199.50,296.30 L199.72,296.25 L199.95,296.28 L200.17,296.07 L200.39,295.99 L200.61,296.23 L200.83,295.96 L201.05,296.29 L201.28,295.91 L201.50,296.13 L201.72,296.04 L201.94,296.19 L202.16,296.24 L202.39,296.30 L202.61,295.90 L202.83,296.17 L203.05,295.99 L203.27,296.10 L203.49,296.06 L203.72,296.22 L203.94,296.23 L204.16,296.14 L204.38,295.96 L204.60,296.03 L204.82,296.30 L205.05,295.93 L205.27,296.07 L205.49,296.25 L205.71,296.15 L205.93,296.17 L206.04,295.85 L206.27,285.38 L206.49,279.97 L206.71,277.10 L206.93,275.53 L207.15,274.67 L207.38,274.13 L207.60,273.59 L207.82,273.38 L208.04,273.26 L208.26,273.03 L208.48,273.04 L208.71,273.21 L208.93,273.16 L209.15,273.01 L209.37,272.87 L209.59,272.66 L209.82,272.43 L210.04,272.48 L210.26,272.49 L210.48,272.53 L210.70,272.08 L210.92,272.14 L211.15,272.30 L211.37,272.40 L211.59,271.87 L211.81,272.19 L212.03,271.84 L212.26,272.18 L212.48,271.86 L212.70,271.98 L212.92,271.66 L213.14,271.93 L213.36,272.00 L213.59,271.92 L213.81,271.57 L214.03,271.46 L214.25,271.60 L214.47,271.56 L214.69,271.74 L214.92,271.72 L215.14,271.79 L215.36,271.31 L215.58,271.77 L215.80,271.46 L216.03,271.58 L216.25,271.65 L216.47,271.50 L216.69,271.23 L216.91,271.57 L216.91,271.61 L217.13,258.07 L217.36,251.14 L217.58,247.57 L217.80,245.80 L218.02,244.36 L218.24,244.13 L218.47,243.70 L218.69,243.40 L218.91,243.06 L219.13,242.92 L219.35,242.74 L219.57,242.52 L219.80,242.32 L220.02,242.43 L220.24,242.55 L220.46,242.04 L220.68,242.37 L220.91,242.13 L221.13,242.14 L221.35,241.82 L221.57,241.65 L221.79,241.92 L222.01,241.76 L222.24,241.41 L222.46,241.43 L222.68,241.67 L222.90,241.32 L223.12,241.21 L223.35,241.36 L223.57,241.44 L223.79,241.14 L224.01,241.27 L224.23,241.32 L224.45,241.27 L224.68,241.11 L224.90,241.22 L225.12,241.05 L225.34,240.93 L225.56,240.90 L225.79,240.95 L225.79,240.74 L226.01,253.48 L226.23,259.82 L226.45,262.95 L226.67,264.86 L226.89,265.90 L227.12,266.62 L227.34,267.17 L227.56,267.35 L227.78,267.70 L228.00,268.15 L228.22,268.26 L228.45,268.51 L228.67,268.26 L228.89,268.69 L229.11,268.79 L229.33,268.85 L229.56,269.20 L229.78,269.01 L230.00,269.08 L230.22,269.18 L230.44,269.24 L230.66,269.63 L230.89,269.81 L231.11,269.58 L231.33,269.70 L231.55,269.94 L231.77,270.03 L232.00,270.20 L232.22,269.92 L232.44,270.18 L232.66,270.06 L232.88,270.36 L233.10,270.43 L233.33,270.38 L233.55,270.31 L233.77,270.29 L233.99,270.61 L234.21,270.48 L234.44,270.67 L234.66,270.47 L234.88,270.56 L235.10,270.70 L235.32,270.84 L235.54,270.91 L235.77,270.63 L235.99,270.70 L236.21,270.99 L236.43,271.13 L236.65,271.09 L236.88,270.72 L237.10,271.22 L237.32,270.85 L237.54,271.01 L237.76,271.02 L237.98,271.04 L238.09,271.12 L238.32,281.53 L238.54,287.25 L238.76,289.73 L238.98,291.74 L239.20,292.63 L239.43,292.90 L239.65,293.27 L239.87,293.45 L240.09,293.71 L240.31,293.76 L240.53,294.37 L240.76,294.53 L240.98,294.54 L241.20,294.39 L241.42,294.83 L241.64,294.74 L241.87,294.72 L242.09,295.14 L242.31,295.04 L242.53,294.94 L242.75,295.10 L242.97,295.36 L243.20,295.40 L243.42,295.58 L243.64,295.29 L243.86,295.45 L244.08,295.57 L244.31,295.82 L244.53,295.66 L244.75,295.84 L244.97,295.73 L245.19,296.00 L245.41,295.78 L245.64,295.93 L245.86,296.09 L246.08,296.07 L246.30,295.99 L246.52,296.17 L246.75,295.98 L246.97,296.50 L247.19,296.07 L247.41,296.20 L247.63,296.34 L247.85,296.18 L248.08,296.57 L248.30,296.50 L248.52,296.33 L248.74,296.29 L248.96,296.55 L249.18,296.25 L249.41,296.44 L249.63,296.77 L249.63,296.73 L249.85,304.38 L250.07,308.06 L250.29,310.23 L250.52,311.34 L250.74,311.82 L250.96,312.33 L251.18,312.08 L251.40,312.23 L251.62,312.45 L251.85,312.57 L252.07,312.69 L252.29,312.58 L252.51,312.74 L252.73,312.45 L252.96,312.49 L253.18,312.64 L253.40,312.62 L253.62,313.03 L253.84,313.03 L254.06,312.94 L254.29,313.08 L254.51,312.94 L254.73,312.67 L254.95,312.77 L255.17,312.73 L255.40,313.12 L255.62,313.14 L255.84,313.26 L256.06,313.15 L256.28,313.27 L256.50,313.04 L256.73,313.17 L256.95,312.99 L257.17,313.06 L257.39,313.05 L257.61,313.22 L257.84,313.00 L258.06,313.04 L258.28,313.03 L258.50,313.17 L258.72,313.18 L258.94,313.28 L259.17,313.41 L259.39,313.20 L259.61,313.13 L259.83,313.36 L260.05,313.02" fill="none" stroke="#22c48d" stroke-width="0.65" stroke-linejoin="round" />
<text x="46.00" y="311.60" font-size="6.3" text-anchor="middle" fill="#111" stroke="#111" stroke-width="0.25" font-weight="normal" >3</text>
<text x="57.80" y="294.50" font-size="6.3" text-anchor="middle" fill="#111" stroke="#111" stroke-width="0.25" font-weight="normal" >5</text>
<text x="70.10" y="268.00" font-size="6.3" text-anchor="middle" fill="#111" stroke="#111" stroke-width="0.25" font-weight="normal" >7</text>
<text x="81.60" y="238.40" font-size="6.3" text-anchor="middle" fill="#111" stroke="#111" stroke-width="0.25" font-weight="normal" >9</text>
<text x="94.70" y="268.00" font-size="6.3" text-anchor="middle" fill="#111" stroke="#111" stroke-width="0.25" font-weight="normal" >7</text>
<text x="107.80" y="294.50" font-size="6.3" text-anchor="middle" fill="#111" stroke="#111" stroke-width="0.25" font-weight="normal" >5</text>
<text x="119.30" y="311.60" font-size="6.3" text-anchor="middle" fill="#111" stroke="#111" stroke-width="0.25" font-weight="normal" >3</text>
<text x="130.40" y="294.50" font-size="6.3" text-anchor="middle" fill="#111" stroke="#111" stroke-width="0.25" font-weight="normal" >5</text>
<text x="142.40" y="268.00" font-size="6.3" text-anchor="middle" fill="#111" stroke="#111" stroke-width="0.25" font-weight="normal" >7</text>
<text x="154.20" y="238.40" font-size="6.3" text-anchor="middle" fill="#111" stroke="#111" stroke-width="0.25" font-weight="normal" >9</text>
<text x="166.80" y="268.00" font-size="6.3" text-anchor="middle" fill="#111" stroke="#111" stroke-width="0.25" font-weight="normal" >7</text>
<text x="178.70" y="294.50" font-size="6.3" text-anchor="middle" fill="#111" stroke="#111" stroke-width="0.25" font-weight="normal" >5</text>
<text x="188.30" y="311.60" font-size="6.3" text-anchor="middle" fill="#111" stroke="#111" stroke-width="0.25" font-weight="normal" >3</text>
<text x="200.00" y="294.50" font-size="6.3" text-anchor="middle" fill="#111" stroke="#111" stroke-width="0.25" font-weight="normal" >5</text>
<text x="210.70" y="268.00" font-size="6.3" text-anchor="middle" fill="#111" stroke="#111" stroke-width="0.25" font-weight="normal" >7</text>
<text x="221.80" y="238.40" font-size="6.3" text-anchor="middle" fill="#111" stroke="#111" stroke-width="0.25" font-weight="normal" >9</text>
<text x="233.40" y="268.00" font-size="6.3" text-anchor="middle" fill="#111" stroke="#111" stroke-width="0.25" font-weight="normal" >7</text>
<text x="244.30" y="294.50" font-size="6.3" text-anchor="middle" fill="#111" stroke="#111" stroke-width="0.25" font-weight="normal" >5</text>
<text x="254.40" y="311.60" font-size="6.3" text-anchor="middle" fill="#111" stroke="#111" stroke-width="0.25" font-weight="normal" >3</text>
<rect x="323.50" y="209.70" width="221.90" height="129.10" fill="none" stroke="#555" stroke-width="0.9"/>
<line x1="324.50" y1="324.50" x2="544.40" y2="324.50" stroke="#e4e4e4" stroke-width="0.6" />
<line x1="321.50" y1="324.50" x2="323.50" y2="324.50" stroke="#555" stroke-width="0.8" />
<text x="320.10" y="327.50" font-size="6.5" text-anchor="end" fill="#111" stroke="#111" stroke-width="0.25" font-weight="normal" >0</text>
<line x1="321.50" y1="295.80" x2="323.50" y2="295.80" stroke="#555" stroke-width="0.8" />
<text x="320.10" y="298.80" font-size="6.5" text-anchor="end" fill="#111" stroke="#111" stroke-width="0.25" font-weight="normal" >5</text>
<line x1="321.50" y1="267.10" x2="323.50" y2="267.10" stroke="#555" stroke-width="0.8" />
<text x="320.10" y="270.10" font-size="6.5" text-anchor="end" fill="#111" stroke="#111" stroke-width="0.25" font-weight="normal" >10</text>
<line x1="321.50" y1="238.40" x2="323.50" y2="238.40" stroke="#555" stroke-width="0.8" />
<text x="320.10" y="241.40" font-size="6.5" text-anchor="end" fill="#111" stroke="#111" stroke-width="0.25" font-weight="normal" >15</text>
<line x1="321.50" y1="209.70" x2="323.50" y2="209.70" stroke="#555" stroke-width="0.8" />
<text x="320.10" y="212.70" font-size="6.5" text-anchor="end" fill="#111" stroke="#111" stroke-width="0.25" font-weight="normal" >20</text>
<line x1="322.40" y1="310.15" x2="323.50" y2="310.15" stroke="#555" stroke-width="0.6" />
<line x1="322.40" y1="281.45" x2="323.50" y2="281.45" stroke="#555" stroke-width="0.6" />
<line x1="322.40" y1="252.75" x2="323.50" y2="252.75" stroke="#555" stroke-width="0.6" />
<line x1="322.40" y1="224.05" x2="323.50" y2="224.05" stroke="#555" stroke-width="0.6" />
<line x1="339.60" y1="338.80" x2="339.60" y2="340.60" stroke="#555" stroke-width="0.7" />
<text x="339.60" y="349.10" font-size="6.6" text-anchor="middle" fill="#111" stroke="#111" stroke-width="0.25" font-weight="normal" >3</text>
<line x1="350.10" y1="338.80" x2="350.10" y2="340.60" stroke="#555" stroke-width="0.7" />
<text x="350.10" y="349.10" font-size="6.6" text-anchor="middle" fill="#111" stroke="#111" stroke-width="0.25" font-weight="normal" >5</text>
<line x1="360.60" y1="338.80" x2="360.60" y2="340.60" stroke="#555" stroke-width="0.7" />
<text x="360.60" y="349.10" font-size="6.6" text-anchor="middle" fill="#111" stroke="#111" stroke-width="0.25" font-weight="normal" >7</text>
<line x1="371.10" y1="338.80" x2="371.10" y2="340.60" stroke="#555" stroke-width="0.7" />
<text x="371.10" y="349.10" font-size="6.6" text-anchor="middle" fill="#111" stroke="#111" stroke-width="0.25" font-weight="normal" >9</text>
<line x1="381.60" y1="338.80" x2="381.60" y2="340.60" stroke="#555" stroke-width="0.7" />
<text x="381.60" y="349.10" font-size="6.6" text-anchor="middle" fill="#111" stroke="#111" stroke-width="0.25" font-weight="normal" >7</text>
<line x1="392.10" y1="338.80" x2="392.10" y2="340.60" stroke="#555" stroke-width="0.7" />
<text x="392.10" y="349.10" font-size="6.6" text-anchor="middle" fill="#111" stroke="#111" stroke-width="0.25" font-weight="normal" >5</text>
<line x1="402.60" y1="338.80" x2="402.60" y2="340.60" stroke="#555" stroke-width="0.7" />
<text x="402.60" y="349.10" font-size="6.6" text-anchor="middle" fill="#111" stroke="#111" stroke-width="0.25" font-weight="normal" >3</text>
<line x1="413.10" y1="338.80" x2="413.10" y2="340.60" stroke="#555" stroke-width="0.7" />
<text x="413.10" y="349.10" font-size="6.6" text-anchor="middle" fill="#111" stroke="#111" stroke-width="0.25" font-weight="normal" >5</text>
<line x1="423.60" y1="338.80" x2="423.60" y2="340.60" stroke="#555" stroke-width="0.7" />
<text x="423.60" y="349.10" font-size="6.6" text-anchor="middle" fill="#111" stroke="#111" stroke-width="0.25" font-weight="normal" >7</text>
<line x1="434.10" y1="338.80" x2="434.10" y2="340.60" stroke="#555" stroke-width="0.7" />
<text x="434.10" y="349.10" font-size="6.6" text-anchor="middle" fill="#111" stroke="#111" stroke-width="0.25" font-weight="normal" >9</text>
<line x1="444.60" y1="338.80" x2="444.60" y2="340.60" stroke="#555" stroke-width="0.7" />
<text x="444.60" y="349.10" font-size="6.6" text-anchor="middle" fill="#111" stroke="#111" stroke-width="0.25" font-weight="normal" >7</text>
<line x1="455.10" y1="338.80" x2="455.10" y2="340.60" stroke="#555" stroke-width="0.7" />
<text x="455.10" y="349.10" font-size="6.6" text-anchor="middle" fill="#111" stroke="#111" stroke-width="0.25" font-weight="normal" >5</text>
<line x1="465.60" y1="338.80" x2="465.60" y2="340.60" stroke="#555" stroke-width="0.7" />
<text x="465.60" y="349.10" font-size="6.6" text-anchor="middle" fill="#111" stroke="#111" stroke-width="0.25" font-weight="normal" >3</text>
<line x1="476.10" y1="338.80" x2="476.10" y2="340.60" stroke="#555" stroke-width="0.7" />
<text x="476.10" y="349.10" font-size="6.6" text-anchor="middle" fill="#111" stroke="#111" stroke-width="0.25" font-weight="normal" >5</text>
<line x1="486.60" y1="338.80" x2="486.60" y2="340.60" stroke="#555" stroke-width="0.7" />
<text x="486.60" y="349.10" font-size="6.6" text-anchor="middle" fill="#111" stroke="#111" stroke-width="0.25" font-weight="normal" >7</text>
<line x1="497.10" y1="338.80" x2="497.10" y2="340.60" stroke="#555" stroke-width="0.7" />
<text x="497.10" y="349.10" font-size="6.6" text-anchor="middle" fill="#111" stroke="#111" stroke-width="0.25" font-weight="normal" >9</text>
<line x1="507.60" y1="338.80" x2="507.60" y2="340.60" stroke="#555" stroke-width="0.7" />
<text x="507.60" y="349.10" font-size="6.6" text-anchor="middle" fill="#111" stroke="#111" stroke-width="0.25" font-weight="normal" >7</text>
<line x1="518.10" y1="338.80" x2="518.10" y2="340.60" stroke="#555" stroke-width="0.7" />
<text x="518.10" y="349.10" font-size="6.6" text-anchor="middle" fill="#111" stroke="#111" stroke-width="0.25" font-weight="normal" >5</text>
<line x1="528.60" y1="338.80" x2="528.60" y2="340.60" stroke="#555" stroke-width="0.7" />
<text x="528.60" y="349.10" font-size="6.6" text-anchor="middle" fill="#111" stroke="#111" stroke-width="0.25" font-weight="normal" >3</text>
<text x="434.40" y="360.20" font-size="8" text-anchor="middle" fill="#111" stroke="#111" stroke-width="0.3" font-weight="normal" >pH</text>
<text transform="translate(298.40,273.20) rotate(-90)" font-size="8.4" text-anchor="middle" fill="#111" stroke="#111" stroke-width="0.15" textLength="46.5" lengthAdjust="spacingAndGlyphs"><tspan>&#916;</tspan><tspan font-style="italic">I</tspan><tspan font-size="6.30" dy="1.6">ds</tspan><tspan dy="-1.6"> / </tspan><tspan font-style="italic">I</tspan><tspan font-size="6.30" dy="1.6">0</tspan><tspan dy="-1.6"> (%)</tspan></text>
<path d="M339.60,324.50 L350.10,306.71 L360.60,278.58 L371.10,248.16 L381.60,278.58 L392.10,306.99 L402.60,324.21 L413.10,306.42 L423.60,279.44 L434.10,244.14 L444.60,278.01 L455.10,306.99 L465.60,324.50 L476.10,306.13 L486.60,279.15 L497.10,246.44 L507.60,277.43 L518.10,306.99 L528.60,324.50" fill="none" stroke="#9fe3cb" stroke-width="0.45" stroke-linejoin="round" />
<path d="M339.60,323.35 L350.10,304.41 L360.60,281.16 L371.10,273.99 L402.60,319.91 L413.10,301.54 L423.60,279.15 L434.10,271.69 L465.60,313.59 L476.10,293.79 L486.60,272.61 L497.10,265.38 L528.60,311.30" fill="none" stroke="#bdbdbd" stroke-width="0.45" stroke-linejoin="round" />
<line x1="339.60" y1="324.50" x2="532.50" y2="324.50" stroke="#2fd4b4" stroke-width="1.0" />
<polygon points="536.60,324.50 532.00,322.60 532.00,326.40" fill="#2fd4b4" stroke="none" stroke-width="0.5" />
<line x1="339.60" y1="323.93" x2="532.50" y2="310.77" stroke="#777" stroke-width="0.9" />
<polygon points="536.60,310.50 532.00,308.90 532.30,312.70" fill="#777" stroke="none" stroke-width="0.5" />
<line x1="371.10" y1="271.98" x2="371.10" y2="276.00" stroke="#8c8c8c" stroke-width="0.4" />
<line x1="370.10" y1="271.98" x2="372.10" y2="271.98" stroke="#8c8c8c" stroke-width="0.4" />
<line x1="370.10" y1="276.00" x2="372.10" y2="276.00" stroke="#8c8c8c" stroke-width="0.4" />
<line x1="434.10" y1="269.97" x2="434.10" y2="273.41" stroke="#8c8c8c" stroke-width="0.4" />
<line x1="433.10" y1="269.97" x2="435.10" y2="269.97" stroke="#8c8c8c" stroke-width="0.4" />
<line x1="433.10" y1="273.41" x2="435.10" y2="273.41" stroke="#8c8c8c" stroke-width="0.4" />
<line x1="486.60" y1="270.89" x2="486.60" y2="274.33" stroke="#8c8c8c" stroke-width="0.4" />
<line x1="485.60" y1="270.89" x2="487.60" y2="270.89" stroke="#8c8c8c" stroke-width="0.4" />
<line x1="485.60" y1="274.33" x2="487.60" y2="274.33" stroke="#8c8c8c" stroke-width="0.4" />
<line x1="497.10" y1="261.93" x2="497.10" y2="268.82" stroke="#8c8c8c" stroke-width="0.4" />
<line x1="496.10" y1="261.93" x2="498.10" y2="261.93" stroke="#8c8c8c" stroke-width="0.4" />
<line x1="496.10" y1="268.82" x2="498.10" y2="268.82" stroke="#8c8c8c" stroke-width="0.4" />
<line x1="476.10" y1="292.07" x2="476.10" y2="295.51" stroke="#8c8c8c" stroke-width="0.4" />
<line x1="475.10" y1="292.07" x2="477.10" y2="292.07" stroke="#8c8c8c" stroke-width="0.4" />
<line x1="475.10" y1="295.51" x2="477.10" y2="295.51" stroke="#8c8c8c" stroke-width="0.4" />
<line x1="350.10" y1="302.98" x2="350.10" y2="305.85" stroke="#8c8c8c" stroke-width="0.4" />
<line x1="349.10" y1="302.98" x2="351.10" y2="302.98" stroke="#8c8c8c" stroke-width="0.4" />
<line x1="349.10" y1="305.85" x2="351.10" y2="305.85" stroke="#8c8c8c" stroke-width="0.4" />
<line x1="434.10" y1="241.84" x2="434.10" y2="246.44" stroke="#1aa672" stroke-width="0.5" />
<line x1="433.10" y1="241.84" x2="435.10" y2="241.84" stroke="#1aa672" stroke-width="0.5" />
<line x1="433.10" y1="246.44" x2="435.10" y2="246.44" stroke="#1aa672" stroke-width="0.5" />
<rect x="338.30" y="321.95" width="2.6" height="2.8" fill="#fff" stroke="#8c8c8c" stroke-width="0.55"/>
<line x1="338.30" y1="323.35" x2="340.90" y2="323.35" stroke="#8c8c8c" stroke-width="0.4" />
<rect x="348.80" y="303.01" width="2.6" height="2.8" fill="#fff" stroke="#8c8c8c" stroke-width="0.55"/>
<line x1="348.80" y1="304.41" x2="351.40" y2="304.41" stroke="#8c8c8c" stroke-width="0.4" />
<rect x="359.30" y="279.76" width="2.6" height="2.8" fill="#fff" stroke="#8c8c8c" stroke-width="0.55"/>
<line x1="359.30" y1="281.16" x2="361.90" y2="281.16" stroke="#8c8c8c" stroke-width="0.4" />
<rect x="369.80" y="272.59" width="2.6" height="2.8" fill="#fff" stroke="#8c8c8c" stroke-width="0.55"/>
<line x1="369.80" y1="273.99" x2="372.40" y2="273.99" stroke="#8c8c8c" stroke-width="0.4" />
<rect x="401.30" y="318.51" width="2.6" height="2.8" fill="#fff" stroke="#8c8c8c" stroke-width="0.55"/>
<line x1="401.30" y1="319.91" x2="403.90" y2="319.91" stroke="#8c8c8c" stroke-width="0.4" />
<rect x="411.80" y="300.14" width="2.6" height="2.8" fill="#fff" stroke="#8c8c8c" stroke-width="0.55"/>
<line x1="411.80" y1="301.54" x2="414.40" y2="301.54" stroke="#8c8c8c" stroke-width="0.4" />
<rect x="422.30" y="277.75" width="2.6" height="2.8" fill="#fff" stroke="#8c8c8c" stroke-width="0.55"/>
<line x1="422.30" y1="279.15" x2="424.90" y2="279.15" stroke="#8c8c8c" stroke-width="0.4" />
<rect x="432.80" y="270.29" width="2.6" height="2.8" fill="#fff" stroke="#8c8c8c" stroke-width="0.55"/>
<line x1="432.80" y1="271.69" x2="435.40" y2="271.69" stroke="#8c8c8c" stroke-width="0.4" />
<rect x="464.30" y="312.19" width="2.6" height="2.8" fill="#fff" stroke="#8c8c8c" stroke-width="0.55"/>
<line x1="464.30" y1="313.59" x2="466.90" y2="313.59" stroke="#8c8c8c" stroke-width="0.4" />
<rect x="474.80" y="292.39" width="2.6" height="2.8" fill="#fff" stroke="#8c8c8c" stroke-width="0.55"/>
<line x1="474.80" y1="293.79" x2="477.40" y2="293.79" stroke="#8c8c8c" stroke-width="0.4" />
<rect x="485.30" y="271.21" width="2.6" height="2.8" fill="#fff" stroke="#8c8c8c" stroke-width="0.55"/>
<line x1="485.30" y1="272.61" x2="487.90" y2="272.61" stroke="#8c8c8c" stroke-width="0.4" />
<rect x="495.80" y="263.98" width="2.6" height="2.8" fill="#fff" stroke="#8c8c8c" stroke-width="0.55"/>
<line x1="495.80" y1="265.38" x2="498.40" y2="265.38" stroke="#8c8c8c" stroke-width="0.4" />
<rect x="527.30" y="309.90" width="2.6" height="2.8" fill="#fff" stroke="#8c8c8c" stroke-width="0.55"/>
<line x1="527.30" y1="311.30" x2="529.90" y2="311.30" stroke="#8c8c8c" stroke-width="0.4" />
<circle cx="339.60" cy="324.50" r="1.35" fill="#7fdcb8" stroke="#1aa672" stroke-width="0.7"/>
<circle cx="350.10" cy="306.71" r="1.35" fill="#7fdcb8" stroke="#1aa672" stroke-width="0.7"/>
<circle cx="360.60" cy="278.58" r="1.35" fill="#7fdcb8" stroke="#1aa672" stroke-width="0.7"/>
<circle cx="371.10" cy="248.16" r="1.35" fill="#7fdcb8" stroke="#1aa672" stroke-width="0.7"/>
<circle cx="381.60" cy="278.58" r="1.35" fill="#7fdcb8" stroke="#1aa672" stroke-width="0.7"/>
<circle cx="392.10" cy="306.99" r="1.35" fill="#7fdcb8" stroke="#1aa672" stroke-width="0.7"/>
<circle cx="402.60" cy="324.21" r="1.35" fill="#7fdcb8" stroke="#1aa672" stroke-width="0.7"/>
<circle cx="413.10" cy="306.42" r="1.35" fill="#7fdcb8" stroke="#1aa672" stroke-width="0.7"/>
<circle cx="423.60" cy="279.44" r="1.35" fill="#7fdcb8" stroke="#1aa672" stroke-width="0.7"/>
<circle cx="434.10" cy="244.14" r="1.35" fill="#7fdcb8" stroke="#1aa672" stroke-width="0.7"/>
<circle cx="444.60" cy="278.01" r="1.35" fill="#7fdcb8" stroke="#1aa672" stroke-width="0.7"/>
<circle cx="455.10" cy="306.99" r="1.35" fill="#7fdcb8" stroke="#1aa672" stroke-width="0.7"/>
<circle cx="465.60" cy="324.50" r="1.35" fill="#7fdcb8" stroke="#1aa672" stroke-width="0.7"/>
<circle cx="476.10" cy="306.13" r="1.35" fill="#7fdcb8" stroke="#1aa672" stroke-width="0.7"/>
<circle cx="486.60" cy="279.15" r="1.35" fill="#7fdcb8" stroke="#1aa672" stroke-width="0.7"/>
<circle cx="497.10" cy="246.44" r="1.35" fill="#7fdcb8" stroke="#1aa672" stroke-width="0.7"/>
<circle cx="507.60" cy="277.43" r="1.35" fill="#7fdcb8" stroke="#1aa672" stroke-width="0.7"/>
<circle cx="518.10" cy="306.99" r="1.35" fill="#7fdcb8" stroke="#1aa672" stroke-width="0.7"/>
<circle cx="528.60" cy="324.50" r="1.35" fill="#7fdcb8" stroke="#1aa672" stroke-width="0.7"/>
<line x1="329.50" y1="217.90" x2="338.50" y2="217.90" stroke="#d5f2e8" stroke-width="0.5" />
<circle cx="334.0" cy="217.9" r="1.4" fill="#fff" stroke="#1aa672" stroke-width="0.7"/>
<text x="345.30" y="220.50" font-size="7.4" text-anchor="start" fill="#111" stroke="#111" stroke-width="0.25" font-weight="normal" >PGFET</text>
<line x1="329.50" y1="230.00" x2="338.50" y2="230.00" stroke="#e0e0e0" stroke-width="0.5" />
<circle cx="334.0" cy="230.0" r="1.4" fill="#fff" stroke="#9a9a9a" stroke-width="0.7"/>
<text x="345.30" y="232.60" font-size="7.4" text-anchor="start" fill="#111" stroke="#111" stroke-width="0.25" font-weight="normal" >Bare-gFET</text>
</svg>
</body></html>
